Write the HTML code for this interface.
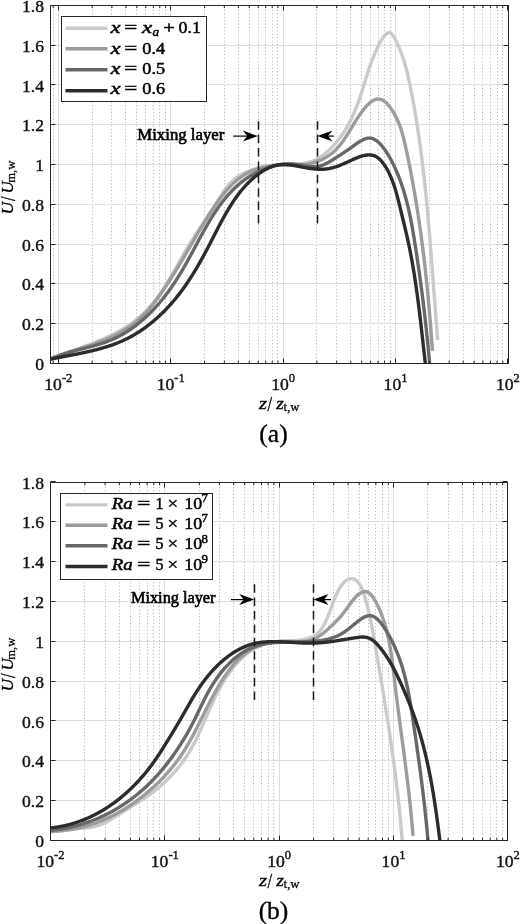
<!DOCTYPE html>
<html><head><meta charset="utf-8"><title>U/U profiles</title><style>
html,body{margin:0;padding:0;background:#fff;}
svg{display:block;}
text{font-family:"Liberation Serif",serif;fill:#000;}
.tk{font-size:17.6px;fill:#111;stroke:#111;stroke-width:0.4px;}
.tk .sup{font-size:12.5px;}
.lab{font-size:16.5px;}
.it{font-style:italic;}
.sub{font-size:11.5px;}
.lg{font-size:16.2px;stroke:#000;stroke-width:0.45px;}
.lgs{font-size:11.5px;stroke:#000;stroke-width:0.45px;}
.al{font-size:16.5px;stroke:#000;stroke-width:0.3px;}
.als{font-size:12px;stroke:#000;stroke-width:0.25px;}
.sub2{font-size:11.5px;font-style:italic;}
.sup2{font-size:12px;}
.cap{font-size:25.5px;stroke:#000;stroke-width:0.35px;}
.mx{font-size:16px;stroke:#000;stroke-width:0.6px;}
</style></head><body>
<svg width="520" height="924" viewBox="0 0 520 924">
<rect width="520" height="924" fill="#fff"/>
<clipPath id="clipa"><rect x="50.5" y="5.5" width="458" height="358"/></clipPath>
<path d="M53.5,6.5V363.5M92.5,6.5V363.5M111.5,6.5V363.5M125.5,6.5V363.5M136.5,6.5V363.5M145.5,6.5V363.5M153.5,6.5V363.5M159.5,6.5V363.5M165.5,6.5V363.5M204.5,6.5V363.5M224.5,6.5V363.5M238.5,6.5V363.5M249.5,6.5V363.5M258.5,6.5V363.5M265.5,6.5V363.5M272.5,6.5V363.5M277.5,6.5V363.5M316.5,6.5V363.5M336.5,6.5V363.5M350.5,6.5V363.5M361.5,6.5V363.5M370.5,6.5V363.5M378.5,6.5V363.5M384.5,6.5V363.5M390.5,6.5V363.5M429.5,6.5V363.5M449.5,6.5V363.5M463.5,6.5V363.5M474.5,6.5V363.5M482.5,6.5V363.5M490.5,6.5V363.5M497.5,6.5V363.5M502.5,6.5V363.5" stroke="#b8b8b8" stroke-width="1" stroke-dasharray="1.2 2.2" fill="none"/>
<path d="M58.50,5.5V363.5M170.50,5.5V363.5M283.50,5.5V363.5M395.50,5.5V363.5M50.5,323.50H508.5M50.5,283.50H508.5M50.5,244.50H508.5M50.5,204.50H508.5M50.5,164.50H508.5M50.5,124.50H508.5M50.5,84.50H508.5M50.5,45.50H508.5" stroke="#dedede" stroke-width="1" fill="none"/>
<g clip-path="url(#clipa)" fill="none" stroke-width="3.4" stroke-linejoin="round">
<path d="M50.30,358.71 L50.87,358.49 L51.45,358.27 L52.02,358.05 L52.60,357.84 L53.18,357.62 L53.77,357.40 L54.35,357.18 L54.94,356.96 L55.53,356.75 L56.13,356.53 L56.72,356.31 L57.32,356.09 L57.92,355.87 L58.52,355.66 L59.13,355.44 L59.74,355.22 L60.35,355.00 L60.96,354.78 L61.57,354.56 L62.19,354.35 L62.80,354.13 L63.42,353.91 L64.04,353.69 L64.66,353.47 L65.29,353.25 L65.91,353.03 L66.54,352.81 L67.17,352.59 L67.80,352.36 L68.43,352.14 L69.06,351.92 L69.69,351.70 L70.33,351.48 L70.96,351.25 L71.60,351.03 L72.24,350.80 L72.88,350.58 L73.52,350.35 L74.16,350.13 L74.80,349.90 L75.44,349.67 L76.08,349.44 L76.73,349.22 L77.37,348.99 L78.02,348.76 L78.66,348.53 L79.31,348.29 L79.96,348.06 L80.60,347.83 L81.25,347.60 L81.90,347.36 L82.55,347.13 L83.20,346.89 L83.84,346.65 L84.49,346.41 L85.14,346.18 L85.79,345.94 L86.44,345.70 L87.08,345.45 L87.73,345.21 L88.38,344.97 L89.03,344.72 L89.68,344.48 L90.32,344.23 L90.97,343.98 L91.61,343.73 L92.26,343.48 L92.90,343.23 L93.55,342.98 L94.19,342.72 L94.83,342.47 L95.48,342.21 L96.12,341.95 L96.76,341.70 L97.40,341.44 L98.04,341.17 L98.67,340.91 L99.31,340.65 L99.94,340.38 L100.58,340.11 L101.21,339.85 L101.84,339.58 L102.47,339.30 L103.10,339.03 L103.73,338.76 L104.35,338.48 L104.98,338.20 L105.60,337.92 L106.22,337.64 L106.84,337.36 L107.45,337.08 L108.07,336.79 L108.68,336.50 L109.30,336.22 L109.90,335.92 L110.51,335.63 L111.12,335.34 L111.72,335.04 L112.32,334.74 L112.92,334.45 L113.52,334.14 L114.11,333.84 L114.70,333.54 L115.29,333.23 L115.88,332.92 L116.47,332.61 L117.05,332.30 L117.63,331.98 L118.21,331.66 L118.78,331.35 L119.35,331.02 L119.92,330.70 L120.49,330.38 L121.06,330.05 L121.62,329.72 L122.18,329.39 L122.74,329.06 L123.29,328.72 L123.85,328.38 L124.40,328.04 L124.95,327.70 L125.49,327.35 L126.04,327.01 L126.58,326.66 L127.12,326.31 L127.66,325.95 L128.19,325.60 L128.72,325.24 L129.25,324.88 L129.78,324.51 L130.30,324.15 L130.83,323.78 L131.35,323.41 L131.87,323.03 L132.38,322.66 L132.90,322.28 L133.41,321.90 L133.92,321.51 L134.42,321.13 L134.93,320.74 L135.43,320.35 L135.93,319.95 L136.43,319.56 L136.92,319.16 L137.41,318.75 L137.90,318.35 L138.39,317.94 L138.88,317.53 L139.36,317.12 L139.85,316.70 L140.32,316.28 L140.80,315.86 L141.28,315.43 L141.75,315.00 L142.22,314.57 L142.69,314.14 L143.15,313.70 L143.62,313.26 L144.08,312.82 L144.54,312.37 L145.00,311.92 L145.45,311.47 L145.90,311.02 L146.35,310.56 L146.80,310.10 L147.25,309.63 L147.69,309.16 L148.13,308.69 L148.57,308.22 L149.01,307.74 L149.45,307.26 L149.88,306.77 L150.31,306.29 L150.74,305.80 L151.17,305.30 L151.59,304.80 L152.01,304.30 L152.43,303.80 L152.85,303.29 L153.27,302.78 L153.68,302.27 L154.10,301.76 L154.51,301.24 L154.92,300.72 L155.32,300.19 L155.73,299.67 L156.13,299.14 L156.53,298.61 L156.93,298.07 L157.33,297.53 L157.73,296.99 L158.12,296.45 L158.51,295.91 L158.90,295.36 L159.29,294.81 L159.68,294.26 L160.07,293.71 L160.45,293.15 L160.84,292.60 L161.22,292.04 L161.60,291.47 L161.98,290.91 L162.35,290.35 L162.73,289.78 L163.10,289.21 L163.48,288.64 L163.85,288.07 L164.22,287.49 L164.59,286.92 L164.96,286.34 L165.32,285.76 L165.69,285.18 L166.05,284.60 L166.42,284.02 L166.78,283.43 L167.14,282.85 L167.50,282.26 L167.86,281.67 L168.21,281.09 L168.57,280.50 L168.93,279.90 L169.28,279.31 L169.63,278.72 L169.99,278.13 L170.34,277.53 L170.69,276.94 L171.04,276.34 L171.39,275.75 L171.74,275.15 L172.08,274.55 L172.43,273.95 L172.78,273.35 L173.12,272.75 L173.47,272.15 L173.81,271.56 L174.16,270.96 L174.50,270.35 L174.84,269.75 L175.18,269.15 L175.52,268.55 L175.86,267.95 L176.20,267.35 L176.54,266.75 L176.88,266.15 L177.22,265.55 L177.56,264.95 L177.90,264.35 L178.24,263.75 L178.57,263.15 L178.91,262.55 L179.25,261.95 L179.58,261.36 L179.92,260.76 L180.26,260.16 L180.59,259.57 L180.93,258.97 L181.26,258.38 L181.60,257.78 L181.93,257.19 L182.27,256.60 L182.60,256.01 L182.94,255.42 L183.28,254.83 L183.61,254.24 L183.95,253.65 L184.28,253.07 L184.62,252.48 L184.95,251.90 L185.29,251.32 L185.63,250.74 L185.96,250.16 L186.30,249.58 L186.64,249.01 L186.97,248.43 L187.31,247.86 L187.65,247.29 L187.99,246.72 L188.33,246.15 L188.66,245.59 L189.00,245.02 L189.34,244.46 L189.68,243.90 L190.02,243.34 L190.37,242.79 L190.71,242.23 L191.05,241.68 L191.39,241.13 L191.74,240.58 L192.08,240.04 L192.43,239.49 L192.77,238.95 L193.12,238.41 L193.46,237.87 L193.81,237.33 L194.15,236.79 L194.50,236.25 L194.85,235.72 L195.20,235.18 L195.55,234.65 L195.90,234.12 L196.25,233.59 L196.60,233.05 L196.95,232.52 L197.30,231.99 L197.65,231.47 L198.00,230.94 L198.35,230.41 L198.70,229.88 L199.06,229.35 L199.41,228.83 L199.76,228.30 L200.12,227.77 L200.47,227.24 L200.83,226.72 L201.18,226.19 L201.54,225.66 L201.90,225.13 L202.25,224.60 L202.61,224.08 L202.97,223.55 L203.32,223.02 L203.68,222.49 L204.04,221.96 L204.40,221.42 L204.76,220.89 L205.11,220.36 L205.47,219.82 L205.83,219.29 L206.19,218.75 L206.55,218.21 L206.91,217.67 L207.28,217.13 L207.64,216.59 L208.00,216.04 L208.36,215.50 L208.72,214.95 L209.08,214.40 L209.45,213.85 L209.81,213.30 L210.17,212.74 L210.54,212.19 L210.90,211.63 L211.26,211.07 L211.63,210.50 L211.99,209.94 L212.35,209.37 L212.72,208.80 L213.08,208.23 L213.45,207.65 L213.81,207.08 L214.18,206.49 L214.55,205.91 L214.91,205.33 L215.28,204.74 L215.64,204.14 L216.01,203.55 L216.38,202.95 L216.74,202.35 L217.11,201.75 L217.48,201.15 L217.85,200.54 L218.22,199.94 L218.59,199.33 L218.97,198.73 L219.34,198.12 L219.72,197.51 L220.09,196.91 L220.47,196.30 L220.86,195.70 L221.24,195.10 L221.63,194.50 L222.02,193.90 L222.41,193.31 L222.80,192.72 L223.20,192.13 L223.60,191.54 L224.00,190.96 L224.41,190.39 L224.81,189.82 L225.23,189.25 L225.64,188.69 L226.06,188.13 L226.49,187.58 L226.92,187.03 L227.35,186.50 L227.78,185.96 L228.22,185.44 L228.67,184.92 L229.12,184.41 L229.57,183.91 L230.03,183.42 L230.50,182.93 L230.97,182.46 L231.44,181.99 L231.92,181.53 L232.41,181.08 L232.90,180.64 L233.39,180.20 L233.89,179.78 L234.39,179.36 L234.90,178.95 L235.41,178.54 L235.93,178.15 L236.45,177.76 L236.97,177.38 L237.50,177.01 L238.03,176.64 L238.57,176.28 L239.11,175.93 L239.66,175.59 L240.20,175.25 L240.76,174.92 L241.31,174.60 L241.87,174.29 L242.44,173.98 L243.01,173.68 L243.58,173.38 L244.15,173.09 L244.73,172.81 L245.31,172.53 L245.90,172.26 L246.48,172.00 L247.07,171.74 L247.67,171.49 L248.27,171.25 L248.87,171.01 L249.47,170.77 L250.08,170.55 L250.68,170.33 L251.30,170.11 L251.91,169.90 L252.53,169.69 L253.15,169.49 L253.77,169.30 L254.39,169.11 L255.02,168.93 L255.65,168.75 L256.28,168.57 L256.92,168.41 L257.55,168.24 L258.19,168.08 L258.83,167.93 L259.47,167.78 L260.12,167.63 L260.77,167.49 L261.41,167.36 L262.06,167.22 L262.71,167.10 L263.37,166.97 L264.02,166.85 L264.68,166.74 L265.34,166.63 L266.00,166.52 L266.66,166.42 L267.32,166.32 L267.98,166.22 L268.65,166.13 L269.31,166.04 L269.98,165.95 L270.65,165.87 L271.31,165.79 L271.98,165.71 L272.65,165.64 L273.32,165.57 L274.00,165.50 L274.67,165.44 L275.34,165.38 L276.01,165.32 L276.69,165.26 L277.36,165.21 L278.04,165.16 L278.71,165.11 L279.39,165.06 L280.06,165.02 L280.74,164.98 L281.41,164.94 L282.09,164.90 L282.77,164.87 L283.44,164.83 L284.12,164.80 L284.79,164.77 L285.47,164.74 L286.14,164.71 L286.81,164.68 L287.49,164.66 L288.16,164.63 L288.83,164.60 L289.50,164.57 L290.17,164.55 L290.84,164.52 L291.51,164.48 L292.18,164.45 L292.85,164.42 L293.52,164.38 L294.18,164.34 L294.84,164.30 L295.51,164.26 L296.17,164.21 L296.83,164.16 L297.49,164.10 L298.15,164.05 L298.80,163.98 L299.46,163.92 L300.11,163.85 L300.76,163.77 L301.41,163.69 L302.06,163.60 L302.71,163.51 L303.35,163.41 L303.99,163.30 L304.63,163.19 L305.27,163.07 L305.91,162.94 L306.54,162.81 L307.17,162.67 L307.80,162.52 L308.43,162.36 L309.05,162.19 L309.67,162.02 L310.29,161.84 L310.91,161.64 L311.52,161.44 L312.14,161.23 L312.75,161.00 L313.35,160.77 L313.95,160.53 L314.55,160.27 L315.15,160.01 L315.74,159.73 L316.34,159.44 L316.92,159.14 L317.51,158.83 L318.09,158.50 L318.67,158.17 L319.24,157.82 L319.81,157.47 L320.38,157.10 L320.94,156.73 L321.50,156.34 L322.06,155.95 L322.61,155.55 L323.16,155.14 L323.70,154.72 L324.24,154.30 L324.78,153.87 L325.31,153.44 L325.84,153.00 L326.36,152.55 L326.88,152.10 L327.40,151.64 L327.91,151.18 L328.42,150.72 L328.92,150.25 L329.42,149.78 L329.91,149.30 L330.40,148.83 L330.89,148.35 L331.37,147.86 L331.84,147.37 L332.31,146.88 L332.78,146.39 L333.24,145.89 L333.70,145.39 L334.16,144.89 L334.61,144.38 L335.06,143.88 L335.50,143.36 L335.94,142.85 L336.37,142.33 L336.80,141.81 L337.23,141.29 L337.65,140.76 L338.07,140.23 L338.49,139.70 L338.90,139.17 L339.31,138.63 L339.71,138.10 L340.11,137.55 L340.51,137.01 L340.90,136.46 L341.29,135.92 L341.68,135.37 L342.06,134.81 L342.44,134.26 L342.81,133.70 L343.18,133.14 L343.55,132.58 L343.91,132.02 L344.27,131.45 L344.63,130.88 L344.98,130.31 L345.34,129.74 L345.68,129.17 L346.03,128.59 L346.37,128.02 L346.70,127.44 L347.04,126.86 L347.37,126.27 L347.70,125.69 L348.02,125.11 L348.34,124.52 L348.66,123.93 L348.98,123.34 L349.29,122.75 L349.60,122.16 L349.91,121.56 L350.21,120.97 L350.51,120.37 L350.81,119.77 L351.10,119.17 L351.40,118.57 L351.68,117.97 L351.97,117.37 L352.26,116.77 L352.54,116.16 L352.81,115.56 L353.09,114.95 L353.36,114.34 L353.63,113.74 L353.90,113.13 L354.17,112.52 L354.43,111.91 L354.69,111.30 L354.95,110.69 L355.20,110.07 L355.46,109.46 L355.71,108.85 L355.96,108.23 L356.20,107.62 L356.45,107.01 L356.69,106.39 L356.93,105.78 L357.17,105.16 L357.40,104.55 L357.63,103.93 L357.86,103.31 L358.09,102.70 L358.32,102.08 L358.54,101.47 L358.77,100.85 L358.99,100.23 L359.21,99.62 L359.42,99.00 L359.64,98.39 L359.85,97.77 L360.06,97.16 L360.27,96.54 L360.48,95.93 L360.68,95.31 L360.89,94.70 L361.09,94.09 L361.29,93.47 L361.49,92.86 L361.69,92.25 L361.89,91.64 L362.08,91.03 L362.27,90.41 L362.47,89.80 L362.66,89.19 L362.85,88.58 L363.04,87.97 L363.23,87.36 L363.42,86.75 L363.61,86.14 L363.80,85.52 L363.98,84.91 L364.17,84.30 L364.36,83.69 L364.55,83.07 L364.73,82.46 L364.92,81.85 L365.11,81.23 L365.30,80.61 L365.49,80.00 L365.67,79.38 L365.86,78.76 L366.05,78.15 L366.25,77.53 L366.44,76.91 L366.63,76.28 L366.82,75.66 L367.02,75.04 L367.22,74.41 L367.41,73.79 L367.61,73.16 L367.81,72.53 L368.02,71.90 L368.22,71.27 L368.43,70.64 L368.63,70.01 L368.84,69.37 L369.06,68.73 L369.27,68.09 L369.49,67.45 L369.71,66.81 L369.93,66.17 L370.15,65.52 L370.38,64.87 L370.61,64.22 L370.84,63.57 L371.07,62.92 L371.31,62.26 L371.55,61.60 L371.80,60.94 L372.04,60.28 L372.30,59.62 L372.55,58.95 L372.81,58.28 L373.07,57.61 L373.33,56.93 L373.60,56.26 L373.88,55.58 L374.15,54.90 L374.43,54.21 L374.72,53.53 L375.01,52.85 L375.30,52.17 L375.59,51.49 L375.89,50.81 L376.19,50.14 L376.50,49.47 L376.80,48.80 L377.11,48.13 L377.43,47.47 L377.74,46.82 L378.06,46.17 L378.39,45.53 L378.71,44.90 L379.04,44.27 L379.37,43.65 L379.70,43.04 L380.04,42.44 L380.37,41.85 L380.71,41.27 L381.06,40.70 L381.40,40.14 L381.75,39.60 L382.10,39.06 L382.45,38.54 L382.80,38.04 L383.16,37.55 L383.51,37.07 L383.87,36.61 L384.23,36.17 L384.59,35.74 L384.95,35.33 L385.32,34.94 L385.68,34.57 L386.05,34.21 L386.42,33.88 L386.79,33.56 L387.16,33.27 L387.53,33.02 L387.91,32.80 L388.28,32.64 L388.65,32.53 L389.02,32.49 L389.40,32.51 L389.77,32.60 L390.14,32.76 L390.51,32.97 L390.88,33.24 L391.25,33.55 L391.62,33.92 L391.99,34.33 L392.35,34.78 L392.72,35.26 L393.08,35.78 L393.43,36.33 L393.79,36.91 L394.14,37.50 L394.49,38.12 L394.84,38.75 L395.19,39.39 L395.53,40.04 L395.86,40.69 L396.20,41.36 L396.52,42.02 L396.85,42.69 L397.17,43.36 L397.48,44.03 L397.79,44.70 L398.10,45.37 L398.40,46.04 L398.70,46.71 L398.99,47.38 L399.27,48.05 L399.55,48.72 L399.83,49.38 L400.10,50.05 L400.37,50.71 L400.63,51.37 L400.89,52.03 L401.14,52.70 L401.39,53.36 L401.64,54.02 L401.88,54.67 L402.12,55.33 L402.35,55.99 L402.58,56.65 L402.81,57.30 L403.03,57.96 L403.25,58.61 L403.46,59.27 L403.67,59.92 L403.88,60.58 L404.09,61.23 L404.29,61.88 L404.48,62.53 L404.68,63.18 L404.87,63.83 L405.06,64.48 L405.25,65.13 L405.43,65.78 L405.61,66.43 L405.79,67.08 L405.96,67.73 L406.14,68.38 L406.31,69.02 L406.47,69.67 L406.64,70.32 L406.80,70.96 L406.96,71.61 L407.12,72.26 L407.28,72.90 L407.44,73.55 L407.59,74.19 L407.74,74.84 L407.89,75.48 L408.04,76.13 L408.18,76.77 L408.33,77.42 L408.47,78.06 L408.61,78.71 L408.75,79.35 L408.89,80.00 L409.03,80.64 L409.17,81.29 L409.31,81.93 L409.44,82.58 L409.58,83.22 L409.71,83.87 L409.84,84.51 L409.98,85.16 L410.11,85.80 L410.24,86.45 L410.37,87.09 L410.50,87.74 L410.63,88.39 L410.76,89.03 L410.89,89.68 L411.02,90.33 L411.14,90.97 L411.27,91.62 L411.40,92.27 L411.52,92.91 L411.65,93.56 L411.77,94.21 L411.90,94.86 L412.02,95.51 L412.15,96.15 L412.27,96.80 L412.39,97.45 L412.51,98.10 L412.63,98.75 L412.76,99.40 L412.88,100.05 L413.00,100.69 L413.12,101.34 L413.23,101.99 L413.35,102.64 L413.47,103.29 L413.59,103.94 L413.71,104.59 L413.82,105.24 L413.94,105.89 L414.05,106.54 L414.17,107.19 L414.28,107.85 L414.40,108.50 L414.51,109.15 L414.63,109.80 L414.74,110.45 L414.85,111.10 L414.96,111.75 L415.07,112.40 L415.18,113.06 L415.29,113.71 L415.40,114.36 L415.51,115.01 L415.62,115.67 L415.73,116.32 L415.84,116.97 L415.95,117.62 L416.06,118.28 L416.16,118.93 L416.27,119.58 L416.37,120.24 L416.48,120.89 L416.58,121.54 L416.69,122.20 L416.79,122.85 L416.90,123.51 L417.00,124.16 L417.10,124.81 L417.21,125.47 L417.31,126.12 L417.41,126.78 L417.51,127.43 L417.61,128.09 L417.71,128.74 L417.81,129.40 L417.91,130.05 L418.01,130.71 L418.11,131.37 L418.21,132.02 L418.30,132.68 L418.40,133.33 L418.50,133.99 L418.60,134.64 L418.69,135.30 L418.79,135.96 L418.88,136.61 L418.98,137.27 L419.07,137.93 L419.17,138.58 L419.26,139.24 L419.35,139.90 L419.45,140.56 L419.54,141.21 L419.63,141.87 L419.72,142.53 L419.81,143.18 L419.91,143.84 L420.00,144.50 L420.09,145.16 L420.18,145.82 L420.27,146.47 L420.36,147.13 L420.44,147.79 L420.53,148.45 L420.62,149.11 L420.71,149.77 L420.80,150.43 L420.88,151.08 L420.97,151.74 L421.06,152.40 L421.14,153.06 L421.23,153.72 L421.31,154.38 L421.40,155.04 L421.48,155.70 L421.57,156.36 L421.65,157.02 L421.73,157.68 L421.82,158.34 L421.90,159.00 L421.98,159.66 L422.06,160.32 L422.14,160.98 L422.23,161.64 L422.31,162.30 L422.39,162.96 L422.47,163.62 L422.55,164.28 L422.63,164.94 L422.71,165.60 L422.79,166.26 L422.87,166.92 L422.94,167.59 L423.02,168.25 L423.10,168.91 L423.18,169.57 L423.25,170.23 L423.33,170.89 L423.41,171.55 L423.48,172.22 L423.56,172.88 L423.64,173.54 L423.71,174.20 L423.79,174.86 L423.86,175.52 L423.94,176.19 L424.01,176.85 L424.08,177.51 L424.16,178.17 L424.23,178.84 L424.30,179.50 L424.38,180.16 L424.45,180.82 L424.52,181.49 L424.59,182.15 L424.67,182.81 L424.74,183.47 L424.81,184.14 L424.88,184.80 L424.95,185.46 L425.02,186.13 L425.09,186.79 L425.16,187.45 L425.23,188.12 L425.30,188.78 L425.37,189.44 L425.44,190.11 L425.50,190.77 L425.57,191.43 L425.64,192.10 L425.71,192.76 L425.77,193.43 L425.84,194.09 L425.91,194.75 L425.98,195.42 L426.04,196.08 L426.11,196.74 L426.17,197.41 L426.24,198.07 L426.30,198.74 L426.37,199.40 L426.44,200.07 L426.50,200.73 L426.56,201.39 L426.63,202.06 L426.69,202.72 L426.76,203.39 L426.82,204.05 L426.88,204.72 L426.95,205.38 L427.01,206.05 L427.07,206.71 L427.14,207.38 L427.20,208.04 L427.26,208.71 L427.32,209.37 L427.38,210.04 L427.44,210.70 L427.51,211.37 L427.57,212.03 L427.63,212.70 L427.69,213.36 L427.75,214.03 L427.81,214.69 L427.87,215.36 L427.93,216.02 L427.99,216.69 L428.05,217.35 L428.11,218.02 L428.17,218.68 L428.23,219.35 L428.29,220.01 L428.34,220.68 L428.40,221.34 L428.46,222.01 L428.52,222.68 L428.58,223.34 L428.63,224.01 L428.69,224.67 L428.75,225.34 L428.81,226.00 L428.86,226.67 L428.92,227.34 L428.98,228.00 L429.03,228.67 L429.09,229.33 L429.15,230.00 L429.20,230.66 L429.26,231.33 L429.31,232.00 L429.37,232.66 L429.43,233.33 L429.48,233.99 L429.54,234.66 L429.59,235.32 L429.65,235.99 L429.70,236.66 L429.76,237.32 L429.81,237.99 L429.87,238.65 L429.92,239.32 L429.97,239.99 L430.03,240.65 L430.08,241.32 L430.14,241.98 L430.19,242.65 L430.24,243.32 L430.30,243.98 L430.35,244.65 L430.40,245.31 L430.46,245.98 L430.51,246.65 L430.56,247.31 L430.62,247.98 L430.67,248.64 L430.72,249.31 L430.77,249.98 L430.83,250.64 L430.88,251.31 L430.93,251.97 L430.98,252.64 L431.03,253.31 L431.09,253.97 L431.14,254.64 L431.19,255.30 L431.24,255.97 L431.29,256.64 L431.34,257.30 L431.40,257.97 L431.45,258.63 L431.50,259.30 L431.55,259.97 L431.60,260.63 L431.65,261.30 L431.70,261.96 L431.75,262.63 L431.80,263.29 L431.85,263.96 L431.91,264.63 L431.96,265.29 L432.01,265.96 L432.06,266.62 L432.11,267.29 L432.16,267.95 L432.21,268.62 L432.26,269.29 L432.31,269.95 L432.36,270.62 L432.41,271.28 L432.46,271.95 L432.51,272.61 L432.56,273.28 L432.61,273.94 L432.66,274.61 L432.71,275.27 L432.76,275.94 L432.81,276.61 L432.86,277.27 L432.91,277.94 L432.96,278.60 L433.01,279.27 L433.06,279.93 L433.11,280.60 L433.16,281.26 L433.21,281.93 L433.26,282.59 L433.31,283.26 L433.36,283.92 L433.41,284.59 L433.46,285.25 L433.50,285.92 L433.55,286.58 L433.60,287.25 L433.65,287.91 L433.70,288.58 L433.75,289.24 L433.80,289.90 L433.85,290.57 L433.90,291.23 L433.95,291.90 L434.00,292.56 L434.05,293.23 L434.10,293.89 L434.15,294.56 L434.20,295.22 L434.25,295.88 L434.30,296.55 L434.35,297.21 L434.40,297.88 L434.45,298.54 L434.50,299.20 L434.55,299.87 L434.60,300.53 L434.65,301.20 L434.70,301.86 L434.75,302.52 L434.80,303.19 L434.85,303.85 L434.90,304.51 L434.95,305.18 L435.00,305.84 L435.05,306.50 L435.10,307.17 L435.15,307.83 L435.20,308.49 L435.25,309.16 L435.30,309.82 L435.35,310.48 L435.40,311.14 L435.45,311.81 L435.50,312.47 L435.55,313.13 L435.60,313.79 L435.65,314.46 L435.71,315.12 L435.76,315.78 L435.81,316.44 L435.86,317.11 L435.91,317.77 L435.96,318.43 L436.01,319.09 L436.06,319.75 L436.12,320.42 L436.17,321.08 L436.22,321.74 L436.27,322.40 L436.32,323.06 L436.38,323.72 L436.43,324.39 L436.48,325.05 L436.53,325.71 L436.58,326.37 L436.64,327.03 L436.69,327.69 L436.74,328.35 L436.80,329.01 L436.85,329.67 L436.90,330.33 L436.95,330.99 L437.01,331.66 L437.06,332.32 L437.11,332.98 L437.17,333.64 L437.22,334.30 L437.28,334.96 L437.33,335.62 L437.38,336.28 L437.44,336.94 L437.49,337.60 L437.55,338.25 L437.60,338.91 L437.66,339.57 L437.71,340.23" stroke="#cacaca"/>
<path d="M50.29,358.93 L50.92,358.68 L51.55,358.43 L52.18,358.19 L52.81,357.95 L53.44,357.70 L54.07,357.47 L54.70,357.23 L55.33,356.99 L55.97,356.76 L56.60,356.53 L57.23,356.30 L57.87,356.07 L58.50,355.84 L59.14,355.61 L59.77,355.39 L60.41,355.16 L61.04,354.94 L61.68,354.72 L62.31,354.50 L62.95,354.28 L63.59,354.07 L64.23,353.85 L64.86,353.63 L65.50,353.42 L66.14,353.20 L66.78,352.99 L67.42,352.78 L68.05,352.57 L68.69,352.36 L69.33,352.15 L69.97,351.94 L70.61,351.73 L71.25,351.52 L71.89,351.31 L72.52,351.11 L73.16,350.90 L73.80,350.69 L74.44,350.49 L75.08,350.28 L75.72,350.07 L76.35,349.87 L76.99,349.66 L77.63,349.46 L78.27,349.25 L78.90,349.04 L79.54,348.84 L80.18,348.63 L80.81,348.43 L81.45,348.22 L82.09,348.01 L82.72,347.81 L83.36,347.60 L83.99,347.39 L84.62,347.18 L85.26,346.97 L85.89,346.76 L86.52,346.56 L87.16,346.34 L87.79,346.13 L88.42,345.92 L89.05,345.71 L89.68,345.49 L90.31,345.28 L90.93,345.06 L91.56,344.85 L92.19,344.63 L92.82,344.41 L93.44,344.19 L94.07,343.97 L94.69,343.75 L95.31,343.53 L95.94,343.30 L96.56,343.08 L97.18,342.85 L97.80,342.62 L98.42,342.39 L99.03,342.16 L99.65,341.92 L100.27,341.69 L100.88,341.45 L101.50,341.21 L102.11,340.97 L102.72,340.73 L103.33,340.49 L103.94,340.24 L104.55,339.99 L105.16,339.74 L105.76,339.49 L106.37,339.24 L106.97,338.98 L107.57,338.72 L108.18,338.46 L108.78,338.20 L109.37,337.93 L109.97,337.66 L110.57,337.39 L111.16,337.12 L111.75,336.85 L112.35,336.57 L112.94,336.29 L113.53,336.00 L114.11,335.72 L114.70,335.43 L115.28,335.14 L115.87,334.84 L116.45,334.55 L117.03,334.25 L117.61,333.94 L118.18,333.64 L118.76,333.33 L119.33,333.02 L119.90,332.70 L120.47,332.39 L121.04,332.06 L121.61,331.74 L122.17,331.41 L122.73,331.08 L123.29,330.75 L123.85,330.41 L124.41,330.07 L124.97,329.73 L125.52,329.38 L126.07,329.03 L126.62,328.68 L127.17,328.32 L127.71,327.96 L128.26,327.60 L128.80,327.23 L129.34,326.86 L129.87,326.49 L130.41,326.11 L130.94,325.73 L131.47,325.35 L132.00,324.96 L132.53,324.57 L133.05,324.17 L133.58,323.77 L134.10,323.37 L134.61,322.97 L135.13,322.56 L135.64,322.14 L136.15,321.72 L136.66,321.30 L137.17,320.88 L137.67,320.45 L138.17,320.02 L138.67,319.58 L139.17,319.14 L139.66,318.69 L140.15,318.24 L140.64,317.79 L141.13,317.33 L141.61,316.87 L142.09,316.41 L142.57,315.94 L143.05,315.47 L143.52,314.99 L143.99,314.51 L144.46,314.03 L144.93,313.55 L145.39,313.06 L145.86,312.57 L146.32,312.07 L146.78,311.57 L147.23,311.07 L147.68,310.57 L148.14,310.06 L148.58,309.55 L149.03,309.04 L149.48,308.52 L149.92,308.00 L150.36,307.48 L150.80,306.96 L151.24,306.43 L151.67,305.91 L152.10,305.38 L152.53,304.84 L152.96,304.31 L153.39,303.77 L153.81,303.23 L154.23,302.69 L154.66,302.15 L155.07,301.61 L155.49,301.06 L155.91,300.51 L156.32,299.96 L156.73,299.41 L157.14,298.86 L157.55,298.31 L157.95,297.75 L158.36,297.20 L158.76,296.64 L159.16,296.08 L159.56,295.52 L159.96,294.96 L160.35,294.40 L160.75,293.84 L161.14,293.27 L161.53,292.71 L161.92,292.15 L162.31,291.58 L162.69,291.02 L163.08,290.45 L163.46,289.88 L163.84,289.32 L164.22,288.75 L164.60,288.18 L164.98,287.62 L165.36,287.05 L165.73,286.48 L166.11,285.91 L166.48,285.35 L166.85,284.78 L167.22,284.21 L167.58,283.65 L167.95,283.08 L168.32,282.52 L168.68,281.95 L169.04,281.39 L169.41,280.82 L169.77,280.26 L170.13,279.69 L170.48,279.13 L170.84,278.57 L171.20,278.01 L171.55,277.44 L171.91,276.88 L172.26,276.32 L172.61,275.76 L172.96,275.20 L173.31,274.64 L173.66,274.08 L174.01,273.52 L174.35,272.96 L174.70,272.40 L175.05,271.84 L175.39,271.28 L175.73,270.72 L176.08,270.16 L176.42,269.60 L176.76,269.04 L177.10,268.48 L177.44,267.92 L177.78,267.37 L178.11,266.81 L178.45,266.25 L178.79,265.69 L179.12,265.14 L179.46,264.58 L179.79,264.02 L180.13,263.46 L180.46,262.91 L180.79,262.35 L181.12,261.79 L181.45,261.24 L181.79,260.68 L182.12,260.12 L182.45,259.57 L182.78,259.01 L183.10,258.45 L183.43,257.90 L183.76,257.34 L184.09,256.78 L184.42,256.23 L184.74,255.67 L185.07,255.12 L185.40,254.56 L185.72,254.00 L186.05,253.45 L186.37,252.89 L186.70,252.33 L187.02,251.78 L187.35,251.22 L187.67,250.66 L188.00,250.10 L188.32,249.55 L188.65,248.99 L188.97,248.43 L189.29,247.88 L189.62,247.32 L189.94,246.76 L190.26,246.20 L190.59,245.64 L190.91,245.09 L191.24,244.53 L191.56,243.97 L191.88,243.41 L192.21,242.85 L192.53,242.29 L192.85,241.73 L193.18,241.17 L193.50,240.61 L193.83,240.05 L194.15,239.49 L194.48,238.93 L194.80,238.37 L195.13,237.81 L195.46,237.25 L195.78,236.69 L196.11,236.13 L196.44,235.57 L196.77,235.01 L197.09,234.44 L197.42,233.88 L197.75,233.32 L198.08,232.76 L198.41,232.19 L198.75,231.63 L199.08,231.07 L199.41,230.51 L199.74,229.94 L200.08,229.38 L200.41,228.81 L200.75,228.25 L201.09,227.69 L201.42,227.12 L201.76,226.56 L202.10,225.99 L202.44,225.43 L202.78,224.86 L203.13,224.30 L203.47,223.73 L203.81,223.17 L204.16,222.60 L204.51,222.03 L204.85,221.47 L205.20,220.90 L205.55,220.33 L205.90,219.77 L206.26,219.20 L206.61,218.63 L206.97,218.07 L207.32,217.50 L207.68,216.93 L208.04,216.36 L208.40,215.79 L208.76,215.23 L209.13,214.66 L209.49,214.09 L209.86,213.52 L210.23,212.95 L210.60,212.38 L210.97,211.81 L211.34,211.24 L211.72,210.67 L212.09,210.10 L212.47,209.53 L212.85,208.96 L213.23,208.39 L213.62,207.82 L214.00,207.25 L214.39,206.68 L214.78,206.10 L215.17,205.53 L215.57,204.96 L215.96,204.39 L216.36,203.82 L216.76,203.24 L217.16,202.67 L217.56,202.10 L217.97,201.53 L218.38,200.95 L218.79,200.38 L219.20,199.81 L219.61,199.24 L220.03,198.68 L220.45,198.11 L220.87,197.54 L221.29,196.98 L221.72,196.42 L222.15,195.86 L222.58,195.30 L223.01,194.75 L223.45,194.19 L223.89,193.64 L224.33,193.10 L224.77,192.55 L225.22,192.01 L225.66,191.47 L226.12,190.94 L226.57,190.41 L227.03,189.88 L227.49,189.35 L227.95,188.84 L228.41,188.32 L228.88,187.81 L229.35,187.30 L229.83,186.80 L230.30,186.31 L230.78,185.81 L231.26,185.33 L231.75,184.85 L232.24,184.37 L232.73,183.90 L233.22,183.44 L233.72,182.98 L234.22,182.53 L234.72,182.08 L235.23,181.64 L235.74,181.20 L236.25,180.77 L236.77,180.35 L237.28,179.93 L237.80,179.52 L238.33,179.11 L238.85,178.71 L239.38,178.31 L239.91,177.92 L240.45,177.53 L240.99,177.15 L241.53,176.78 L242.07,176.41 L242.61,176.05 L243.16,175.69 L243.71,175.34 L244.26,175.00 L244.82,174.66 L245.38,174.33 L245.94,174.00 L246.50,173.68 L247.07,173.36 L247.64,173.05 L248.21,172.75 L248.78,172.45 L249.36,172.16 L249.94,171.87 L250.52,171.59 L251.10,171.32 L251.69,171.05 L252.28,170.79 L252.87,170.53 L253.46,170.28 L254.05,170.03 L254.65,169.79 L255.25,169.56 L255.85,169.33 L256.46,169.11 L257.07,168.90 L257.67,168.69 L258.29,168.49 L258.90,168.29 L259.52,168.10 L260.13,167.91 L260.75,167.74 L261.38,167.56 L262.00,167.40 L262.63,167.24 L263.26,167.08 L263.89,166.93 L264.52,166.79 L265.15,166.66 L265.79,166.53 L266.43,166.40 L267.07,166.28 L267.71,166.17 L268.36,166.07 L269.00,165.97 L269.65,165.88 L270.30,165.79 L270.96,165.71 L271.61,165.64 L272.27,165.57 L272.92,165.51 L273.58,165.45 L274.25,165.40 L274.91,165.36 L275.58,165.32 L276.24,165.29 L276.91,165.27 L277.58,165.25 L278.25,165.23 L278.93,165.22 L279.60,165.22 L280.28,165.21 L280.95,165.21 L281.63,165.22 L282.31,165.22 L282.99,165.23 L283.67,165.24 L284.35,165.25 L285.03,165.27 L285.71,165.28 L286.40,165.30 L287.08,165.31 L287.76,165.33 L288.45,165.34 L289.13,165.35 L289.82,165.37 L290.50,165.38 L291.18,165.39 L291.87,165.39 L292.55,165.40 L293.23,165.40 L293.92,165.40 L294.60,165.39 L295.28,165.38 L295.96,165.37 L296.64,165.35 L297.32,165.33 L298.00,165.30 L298.68,165.26 L299.36,165.22 L300.03,165.18 L300.71,165.12 L301.38,165.06 L302.06,164.99 L302.73,164.92 L303.40,164.84 L304.06,164.75 L304.73,164.65 L305.39,164.55 L306.06,164.44 L306.72,164.33 L307.38,164.20 L308.03,164.07 L308.69,163.94 L309.34,163.80 L309.99,163.65 L310.64,163.49 L311.28,163.33 L311.92,163.16 L312.56,162.98 L313.20,162.79 L313.84,162.60 L314.47,162.41 L315.10,162.20 L315.72,161.99 L316.35,161.78 L316.96,161.55 L317.58,161.32 L318.19,161.08 L318.80,160.84 L319.41,160.59 L320.01,160.33 L320.61,160.07 L321.21,159.80 L321.80,159.52 L322.38,159.23 L322.97,158.94 L323.55,158.65 L324.12,158.34 L324.69,158.03 L325.26,157.71 L325.82,157.39 L326.38,157.06 L326.93,156.72 L327.48,156.38 L328.03,156.03 L328.57,155.67 L329.10,155.31 L329.63,154.94 L330.16,154.56 L330.68,154.18 L331.19,153.79 L331.70,153.39 L332.20,152.99 L332.70,152.58 L333.20,152.17 L333.68,151.75 L334.16,151.32 L334.64,150.88 L335.11,150.44 L335.58,149.99 L336.03,149.54 L336.49,149.08 L336.94,148.61 L337.38,148.14 L337.82,147.66 L338.25,147.18 L338.68,146.69 L339.10,146.20 L339.52,145.70 L339.94,145.19 L340.35,144.68 L340.76,144.17 L341.16,143.65 L341.56,143.12 L341.96,142.60 L342.35,142.06 L342.74,141.53 L343.13,140.99 L343.51,140.44 L343.89,139.89 L344.27,139.34 L344.65,138.78 L345.02,138.22 L345.39,137.66 L345.76,137.10 L346.13,136.53 L346.50,135.95 L346.86,135.38 L347.23,134.80 L347.59,134.22 L347.95,133.64 L348.31,133.06 L348.67,132.47 L349.03,131.88 L349.39,131.29 L349.75,130.70 L350.11,130.10 L350.47,129.51 L350.82,128.91 L351.18,128.31 L351.54,127.71 L351.90,127.11 L352.26,126.51 L352.63,125.91 L352.99,125.30 L353.35,124.70 L353.72,124.09 L354.08,123.49 L354.45,122.89 L354.82,122.28 L355.20,121.68 L355.57,121.07 L355.95,120.47 L356.33,119.87 L356.71,119.27 L357.09,118.66 L357.48,118.06 L357.87,117.46 L358.26,116.86 L358.66,116.27 L359.06,115.67 L359.47,115.08 L359.87,114.49 L360.29,113.89 L360.70,113.31 L361.12,112.72 L361.55,112.13 L361.98,111.55 L362.41,110.98 L362.85,110.40 L363.29,109.84 L363.73,109.28 L364.18,108.72 L364.63,108.18 L365.09,107.64 L365.54,107.11 L366.00,106.59 L366.47,106.08 L366.93,105.59 L367.40,105.10 L367.87,104.63 L368.35,104.17 L368.83,103.73 L369.30,103.30 L369.78,102.89 L370.27,102.50 L370.75,102.12 L371.24,101.76 L371.73,101.42 L372.21,101.10 L372.70,100.80 L373.20,100.52 L373.69,100.26 L374.18,100.03 L374.68,99.82 L375.17,99.63 L375.67,99.47 L376.16,99.34 L376.66,99.23 L377.16,99.15 L377.65,99.09 L378.15,99.07 L378.64,99.07 L379.14,99.11 L379.63,99.17 L380.13,99.27 L380.62,99.40 L381.12,99.55 L381.61,99.73 L382.10,99.94 L382.58,100.18 L383.07,100.44 L383.55,100.73 L384.03,101.05 L384.51,101.39 L384.99,101.75 L385.46,102.14 L385.93,102.55 L386.39,102.98 L386.85,103.43 L387.31,103.90 L387.76,104.39 L388.21,104.90 L388.65,105.41 L389.09,105.95 L389.53,106.50 L389.95,107.05 L390.38,107.62 L390.79,108.20 L391.20,108.79 L391.61,109.39 L392.00,109.99 L392.40,110.60 L392.78,111.21 L393.16,111.82 L393.53,112.44 L393.89,113.06 L394.24,113.68 L394.59,114.30 L394.93,114.92 L395.26,115.54 L395.59,116.16 L395.91,116.79 L396.22,117.41 L396.53,118.04 L396.83,118.66 L397.12,119.29 L397.41,119.92 L397.69,120.55 L397.97,121.18 L398.24,121.81 L398.50,122.44 L398.76,123.07 L399.02,123.71 L399.26,124.34 L399.51,124.98 L399.74,125.61 L399.98,126.25 L400.21,126.89 L400.43,127.52 L400.65,128.16 L400.86,128.80 L401.08,129.44 L401.28,130.08 L401.48,130.72 L401.68,131.36 L401.88,132.01 L402.07,132.65 L402.26,133.29 L402.44,133.93 L402.62,134.58 L402.80,135.22 L402.97,135.87 L403.15,136.51 L403.32,137.16 L403.48,137.81 L403.65,138.45 L403.81,139.10 L403.97,139.75 L404.12,140.39 L404.28,141.04 L404.43,141.69 L404.58,142.34 L404.73,142.99 L404.88,143.64 L405.03,144.29 L405.18,144.94 L405.32,145.59 L405.46,146.24 L405.61,146.89 L405.75,147.54 L405.89,148.19 L406.03,148.84 L406.17,149.49 L406.31,150.14 L406.45,150.79 L406.59,151.44 L406.73,152.09 L406.87,152.74 L407.00,153.39 L407.14,154.04 L407.28,154.69 L407.41,155.35 L407.55,156.00 L407.68,156.65 L407.82,157.30 L407.95,157.95 L408.09,158.60 L408.22,159.26 L408.36,159.91 L408.49,160.56 L408.62,161.21 L408.75,161.86 L408.88,162.52 L409.02,163.17 L409.15,163.82 L409.28,164.47 L409.41,165.13 L409.54,165.78 L409.67,166.43 L409.79,167.08 L409.92,167.74 L410.05,168.39 L410.18,169.04 L410.31,169.70 L410.43,170.35 L410.56,171.00 L410.68,171.66 L410.81,172.31 L410.94,172.96 L411.06,173.62 L411.18,174.27 L411.31,174.93 L411.43,175.58 L411.55,176.23 L411.68,176.89 L411.80,177.54 L411.92,178.20 L412.04,178.85 L412.16,179.50 L412.28,180.16 L412.40,180.81 L412.52,181.47 L412.64,182.12 L412.76,182.78 L412.88,183.43 L413.00,184.09 L413.12,184.74 L413.23,185.40 L413.35,186.05 L413.47,186.71 L413.58,187.36 L413.70,188.02 L413.82,188.67 L413.93,189.33 L414.05,189.99 L414.16,190.64 L414.27,191.30 L414.39,191.95 L414.50,192.61 L414.61,193.27 L414.73,193.92 L414.84,194.58 L414.95,195.23 L415.06,195.89 L415.17,196.55 L415.28,197.20 L415.39,197.86 L415.50,198.52 L415.61,199.17 L415.72,199.83 L415.83,200.49 L415.94,201.14 L416.05,201.80 L416.15,202.46 L416.26,203.11 L416.37,203.77 L416.47,204.43 L416.58,205.09 L416.68,205.74 L416.79,206.40 L416.90,207.06 L417.00,207.72 L417.10,208.37 L417.21,209.03 L417.31,209.69 L417.41,210.35 L417.52,211.00 L417.62,211.66 L417.72,212.32 L417.82,212.98 L417.92,213.64 L418.03,214.29 L418.13,214.95 L418.23,215.61 L418.33,216.27 L418.43,216.93 L418.52,217.59 L418.62,218.24 L418.72,218.90 L418.82,219.56 L418.92,220.22 L419.02,220.88 L419.11,221.54 L419.21,222.20 L419.31,222.86 L419.40,223.51 L419.50,224.17 L419.59,224.83 L419.69,225.49 L419.78,226.15 L419.88,226.81 L419.97,227.47 L420.06,228.13 L420.16,228.79 L420.25,229.45 L420.34,230.11 L420.44,230.77 L420.53,231.43 L420.62,232.09 L420.71,232.75 L420.80,233.41 L420.89,234.07 L420.98,234.73 L421.07,235.39 L421.16,236.05 L421.25,236.71 L421.34,237.37 L421.43,238.03 L421.52,238.69 L421.61,239.35 L421.69,240.01 L421.78,240.67 L421.87,241.33 L421.95,241.99 L422.04,242.65 L422.13,243.31 L422.21,243.97 L422.30,244.63 L422.38,245.29 L422.47,245.95 L422.55,246.62 L422.64,247.28 L422.72,247.94 L422.80,248.60 L422.89,249.26 L422.97,249.92 L423.05,250.58 L423.13,251.24 L423.22,251.90 L423.30,252.57 L423.38,253.23 L423.46,253.89 L423.54,254.55 L423.62,255.21 L423.70,255.87 L423.78,256.53 L423.86,257.20 L423.94,257.86 L424.02,258.52 L424.10,259.18 L424.18,259.84 L424.25,260.50 L424.33,261.17 L424.41,261.83 L424.49,262.49 L424.56,263.15 L424.64,263.81 L424.72,264.48 L424.79,265.14 L424.87,265.80 L424.94,266.46 L425.02,267.13 L425.09,267.79 L425.17,268.45 L425.24,269.11 L425.31,269.77 L425.39,270.44 L425.46,271.10 L425.53,271.76 L425.61,272.42 L425.68,273.09 L425.75,273.75 L425.82,274.41 L425.89,275.08 L425.97,275.74 L426.04,276.40 L426.11,277.06 L426.18,277.73 L426.25,278.39 L426.32,279.05 L426.39,279.71 L426.46,280.38 L426.53,281.04 L426.59,281.70 L426.66,282.37 L426.73,283.03 L426.80,283.69 L426.87,284.36 L426.93,285.02 L427.00,285.68 L427.07,286.35 L427.13,287.01 L427.20,287.67 L427.27,288.34 L427.33,289.00 L427.40,289.66 L427.46,290.33 L427.53,290.99 L427.59,291.65 L427.66,292.32 L427.72,292.98 L427.79,293.64 L427.85,294.31 L427.91,294.97 L427.98,295.63 L428.04,296.30 L428.10,296.96 L428.16,297.62 L428.23,298.29 L428.29,298.95 L428.35,299.62 L428.41,300.28 L428.47,300.94 L428.53,301.61 L428.59,302.27 L428.66,302.94 L428.72,303.60 L428.78,304.26 L428.83,304.93 L428.89,305.59 L428.95,306.26 L429.01,306.92 L429.07,307.58 L429.13,308.25 L429.19,308.91 L429.25,309.58 L429.30,310.24 L429.36,310.90 L429.42,311.57 L429.47,312.23 L429.53,312.90 L429.59,313.56 L429.64,314.22 L429.70,314.89 L429.76,315.55 L429.81,316.22 L429.87,316.88 L429.92,317.55 L429.98,318.21 L430.03,318.87 L430.09,319.54 L430.14,320.20 L430.19,320.87 L430.25,321.53 L430.30,322.20 L430.36,322.86 L430.41,323.53 L430.46,324.19 L430.51,324.85 L430.57,325.52 L430.62,326.18 L430.67,326.85 L430.72,327.51 L430.77,328.18 L430.83,328.84 L430.88,329.51 L430.93,330.17 L430.98,330.84 L431.03,331.50 L431.08,332.16 L431.13,332.83 L431.18,333.49 L431.23,334.16 L431.28,334.82 L431.33,335.49 L431.38,336.15 L431.42,336.82 L431.47,337.48 L431.52,338.15 L431.57,338.81 L431.62,339.48 L431.67,340.14 L431.71,340.80 L431.76,341.47 L431.81,342.13 L431.85,342.80 L431.90,343.46 L431.95,344.13 L431.99,344.79 L432.04,345.46 L432.09,346.12 L432.13,346.79 L432.18,347.45 L432.22,348.12 L432.27,348.78 L432.31,349.45 L432.36,350.11 L432.40,350.78" stroke="#9c9c9c"/>
<path d="M50.30,359.13 L50.92,358.85 L51.55,358.57 L52.18,358.30 L52.81,358.03 L53.44,357.77 L54.07,357.51 L54.71,357.25 L55.34,357.00 L55.97,356.75 L56.61,356.51 L57.24,356.27 L57.88,356.03 L58.51,355.80 L59.15,355.57 L59.78,355.34 L60.42,355.12 L61.06,354.90 L61.70,354.69 L62.34,354.47 L62.98,354.26 L63.61,354.05 L64.25,353.85 L64.89,353.65 L65.53,353.45 L66.18,353.25 L66.82,353.06 L67.46,352.86 L68.10,352.67 L68.74,352.48 L69.38,352.30 L70.02,352.11 L70.67,351.93 L71.31,351.75 L71.95,351.57 L72.59,351.40 L73.24,351.22 L73.88,351.05 L74.52,350.87 L75.16,350.70 L75.81,350.53 L76.45,350.36 L77.09,350.19 L77.73,350.02 L78.38,349.86 L79.02,349.69 L79.66,349.53 L80.30,349.36 L80.94,349.20 L81.59,349.03 L82.23,348.87 L82.87,348.70 L83.51,348.54 L84.15,348.37 L84.79,348.21 L85.43,348.05 L86.07,347.88 L86.71,347.71 L87.35,347.55 L87.99,347.38 L88.62,347.22 L89.26,347.05 L89.90,346.88 L90.53,346.71 L91.17,346.54 L91.81,346.37 L92.44,346.19 L93.07,346.02 L93.71,345.84 L94.34,345.67 L94.97,345.49 L95.61,345.31 L96.24,345.13 L96.87,344.94 L97.50,344.76 L98.13,344.57 L98.75,344.38 L99.38,344.19 L100.01,343.99 L100.63,343.79 L101.26,343.59 L101.88,343.39 L102.50,343.19 L103.13,342.98 L103.75,342.77 L104.37,342.56 L104.99,342.34 L105.61,342.12 L106.22,341.90 L106.84,341.67 L107.45,341.44 L108.07,341.21 L108.68,340.97 L109.29,340.73 L109.90,340.49 L110.51,340.24 L111.12,339.99 L111.73,339.73 L112.33,339.47 L112.94,339.21 L113.54,338.94 L114.14,338.67 L114.74,338.39 L115.34,338.11 L115.94,337.82 L116.54,337.53 L117.13,337.24 L117.73,336.94 L118.32,336.64 L118.91,336.33 L119.50,336.02 L120.09,335.70 L120.67,335.38 L121.26,335.06 L121.84,334.73 L122.42,334.40 L123.00,334.07 L123.58,333.73 L124.16,333.39 L124.73,333.04 L125.31,332.69 L125.88,332.34 L126.45,331.99 L127.02,331.63 L127.58,331.26 L128.15,330.90 L128.71,330.53 L129.27,330.15 L129.83,329.78 L130.39,329.40 L130.94,329.02 L131.50,328.63 L132.05,328.24 L132.60,327.85 L133.15,327.46 L133.69,327.06 L134.24,326.66 L134.78,326.26 L135.32,325.85 L135.85,325.44 L136.39,325.03 L136.92,324.62 L137.45,324.20 L137.98,323.78 L138.51,323.36 L139.03,322.94 L139.55,322.51 L140.07,322.09 L140.59,321.66 L141.11,321.22 L141.62,320.79 L142.13,320.35 L142.64,319.92 L143.14,319.48 L143.65,319.03 L144.15,318.59 L144.65,318.14 L145.14,317.70 L145.64,317.25 L146.13,316.79 L146.62,316.34 L147.10,315.89 L147.58,315.43 L148.07,314.97 L148.55,314.51 L149.02,314.05 L149.50,313.59 L149.97,313.12 L150.44,312.66 L150.90,312.19 L151.37,311.72 L151.83,311.25 L152.29,310.77 L152.75,310.30 L153.21,309.82 L153.66,309.35 L154.11,308.87 L154.56,308.39 L155.01,307.90 L155.45,307.42 L155.90,306.93 L156.34,306.45 L156.78,305.96 L157.21,305.47 L157.65,304.97 L158.08,304.48 L158.51,303.99 L158.94,303.49 L159.37,302.99 L159.79,302.49 L160.22,301.99 L160.64,301.49 L161.06,300.98 L161.47,300.48 L161.89,299.97 L162.30,299.46 L162.71,298.95 L163.12,298.44 L163.53,297.93 L163.94,297.42 L164.34,296.90 L164.74,296.38 L165.15,295.87 L165.55,295.35 L165.94,294.82 L166.34,294.30 L166.73,293.78 L167.13,293.25 L167.52,292.73 L167.91,292.20 L168.29,291.67 L168.68,291.14 L169.06,290.61 L169.45,290.07 L169.83,289.54 L170.21,289.00 L170.59,288.47 L170.97,287.93 L171.34,287.39 L171.72,286.85 L172.09,286.30 L172.46,285.76 L172.83,285.22 L173.20,284.67 L173.57,284.12 L173.93,283.57 L174.30,283.02 L174.66,282.47 L175.02,281.92 L175.38,281.37 L175.74,280.81 L176.10,280.26 L176.46,279.70 L176.82,279.14 L177.17,278.58 L177.52,278.02 L177.88,277.46 L178.23,276.90 L178.58,276.34 L178.93,275.77 L179.28,275.20 L179.62,274.64 L179.97,274.07 L180.32,273.50 L180.66,272.93 L181.00,272.36 L181.35,271.79 L181.69,271.21 L182.03,270.64 L182.37,270.06 L182.70,269.49 L183.04,268.91 L183.38,268.33 L183.72,267.75 L184.05,267.17 L184.39,266.59 L184.72,266.00 L185.05,265.42 L185.38,264.83 L185.71,264.25 L186.05,263.66 L186.38,263.07 L186.70,262.49 L187.03,261.90 L187.36,261.31 L187.69,260.72 L188.02,260.12 L188.34,259.53 L188.67,258.94 L188.99,258.35 L189.32,257.75 L189.64,257.16 L189.97,256.56 L190.29,255.96 L190.61,255.37 L190.94,254.77 L191.26,254.17 L191.58,253.57 L191.90,252.98 L192.23,252.38 L192.55,251.78 L192.87,251.18 L193.19,250.58 L193.51,249.98 L193.83,249.38 L194.16,248.78 L194.48,248.18 L194.80,247.58 L195.12,246.97 L195.44,246.37 L195.76,245.77 L196.08,245.17 L196.41,244.57 L196.73,243.97 L197.05,243.37 L197.37,242.77 L197.69,242.17 L198.01,241.56 L198.34,240.96 L198.66,240.36 L198.98,239.76 L199.31,239.16 L199.63,238.56 L199.96,237.96 L200.28,237.36 L200.61,236.77 L200.93,236.17 L201.26,235.57 L201.58,234.97 L201.91,234.37 L202.24,233.78 L202.57,233.18 L202.90,232.59 L203.23,231.99 L203.56,231.40 L203.89,230.80 L204.22,230.21 L204.55,229.62 L204.88,229.03 L205.22,228.44 L205.55,227.85 L205.89,227.26 L206.23,226.67 L206.56,226.08 L206.90,225.49 L207.24,224.91 L207.58,224.32 L207.92,223.74 L208.27,223.16 L208.61,222.58 L208.95,221.99 L209.30,221.42 L209.65,220.84 L209.99,220.26 L210.34,219.68 L210.69,219.11 L211.04,218.54 L211.40,217.96 L211.75,217.39 L212.11,216.82 L212.46,216.25 L212.82,215.69 L213.18,215.12 L213.54,214.56 L213.90,214.00 L214.27,213.43 L214.63,212.87 L215.00,212.32 L215.37,211.76 L215.74,211.21 L216.11,210.65 L216.48,210.10 L216.85,209.55 L217.23,209.00 L217.61,208.46 L217.99,207.91 L218.37,207.37 L218.75,206.83 L219.14,206.29 L219.52,205.75 L219.91,205.22 L220.30,204.68 L220.69,204.15 L221.09,203.62 L221.48,203.10 L221.88,202.57 L222.28,202.05 L222.69,201.53 L223.09,201.01 L223.50,200.49 L223.90,199.98 L224.31,199.47 L224.73,198.96 L225.14,198.45 L225.56,197.95 L225.98,197.44 L226.40,196.94 L226.82,196.44 L227.25,195.95 L227.68,195.46 L228.11,194.97 L228.54,194.48 L228.98,193.99 L229.41,193.51 L229.85,193.03 L230.30,192.55 L230.74,192.08 L231.19,191.60 L231.64,191.13 L232.09,190.67 L232.55,190.20 L233.01,189.74 L233.47,189.28 L233.93,188.83 L234.40,188.38 L234.86,187.93 L235.34,187.48 L235.81,187.04 L236.29,186.60 L236.77,186.16 L237.25,185.72 L237.74,185.29 L238.23,184.87 L238.72,184.44 L239.21,184.02 L239.71,183.60 L240.21,183.18 L240.71,182.77 L241.22,182.36 L241.73,181.96 L242.24,181.56 L242.76,181.16 L243.28,180.76 L243.80,180.37 L244.32,179.98 L244.85,179.60 L245.39,179.21 L245.92,178.84 L246.46,178.46 L247.00,178.09 L247.55,177.73 L248.09,177.36 L248.64,177.00 L249.20,176.65 L249.76,176.30 L250.32,175.95 L250.88,175.60 L251.44,175.26 L252.01,174.93 L252.58,174.60 L253.16,174.27 L253.74,173.95 L254.31,173.63 L254.90,173.31 L255.48,173.00 L256.07,172.70 L256.66,172.39 L257.25,172.10 L257.84,171.81 L258.44,171.52 L259.04,171.23 L259.64,170.96 L260.25,170.68 L260.85,170.41 L261.46,170.15 L262.07,169.89 L262.68,169.63 L263.30,169.38 L263.91,169.14 L264.53,168.90 L265.15,168.66 L265.77,168.43 L266.39,168.21 L267.02,167.99 L267.65,167.78 L268.27,167.57 L268.90,167.36 L269.54,167.17 L270.17,166.97 L270.80,166.79 L271.44,166.60 L272.08,166.43 L272.72,166.26 L273.36,166.09 L274.00,165.93 L274.64,165.78 L275.29,165.63 L275.93,165.49 L276.58,165.36 L277.22,165.23 L277.87,165.10 L278.52,164.98 L279.17,164.87 L279.82,164.77 L280.48,164.67 L281.13,164.57 L281.78,164.49 L282.44,164.41 L283.09,164.33 L283.75,164.26 L284.40,164.20 L285.06,164.15 L285.72,164.10 L286.37,164.06 L287.03,164.02 L287.69,163.99 L288.35,163.97 L289.01,163.96 L289.67,163.95 L290.33,163.95 L290.99,163.95 L291.65,163.96 L292.31,163.98 L292.97,164.01 L293.63,164.04 L294.29,164.08 L294.95,164.13 L295.61,164.19 L296.27,164.25 L296.92,164.32 L297.58,164.39 L298.24,164.48 L298.90,164.57 L299.56,164.67 L300.22,164.78 L300.87,164.89 L301.53,165.01 L302.19,165.13 L302.84,165.26 L303.50,165.39 L304.15,165.52 L304.81,165.64 L305.46,165.77 L306.11,165.90 L306.76,166.02 L307.42,166.14 L308.07,166.25 L308.72,166.36 L309.37,166.46 L310.02,166.54 L310.67,166.62 L311.31,166.69 L311.96,166.75 L312.61,166.79 L313.25,166.81 L313.90,166.82 L314.54,166.82 L315.19,166.79 L315.83,166.75 L316.47,166.69 L317.12,166.60 L317.76,166.50 L318.40,166.37 L319.04,166.23 L319.67,166.07 L320.31,165.89 L320.95,165.69 L321.59,165.48 L322.22,165.25 L322.85,165.01 L323.49,164.75 L324.12,164.48 L324.75,164.20 L325.38,163.90 L326.01,163.60 L326.64,163.28 L327.27,162.95 L327.90,162.62 L328.52,162.27 L329.15,161.92 L329.77,161.56 L330.39,161.19 L331.02,160.82 L331.64,160.44 L332.26,160.06 L332.88,159.68 L333.49,159.29 L334.11,158.90 L334.73,158.50 L335.34,158.11 L335.95,157.72 L336.56,157.32 L337.18,156.93 L337.79,156.54 L338.39,156.15 L339.00,155.76 L339.61,155.37 L340.21,154.98 L340.82,154.59 L341.42,154.21 L342.02,153.82 L342.62,153.43 L343.22,153.04 L343.82,152.65 L344.41,152.25 L345.01,151.86 L345.60,151.46 L346.19,151.06 L346.78,150.66 L347.37,150.26 L347.96,149.85 L348.55,149.44 L349.13,149.02 L349.72,148.60 L350.30,148.18 L350.88,147.76 L351.46,147.33 L352.04,146.91 L352.62,146.48 L353.19,146.06 L353.77,145.64 L354.34,145.22 L354.91,144.80 L355.48,144.39 L356.05,143.99 L356.61,143.59 L357.18,143.20 L357.74,142.81 L358.30,142.44 L358.86,142.07 L359.42,141.72 L359.98,141.37 L360.53,141.04 L361.08,140.72 L361.64,140.42 L362.19,140.13 L362.73,139.86 L363.28,139.60 L363.83,139.36 L364.37,139.13 L364.91,138.93 L365.45,138.75 L365.99,138.58 L366.52,138.44 L367.06,138.32 L367.59,138.22 L368.12,138.15 L368.65,138.10 L369.18,138.08 L369.70,138.09 L370.23,138.12 L370.75,138.18 L371.27,138.27 L371.79,138.38 L372.30,138.53 L372.81,138.71 L373.33,138.91 L373.83,139.13 L374.34,139.38 L374.84,139.66 L375.34,139.95 L375.84,140.27 L376.33,140.61 L376.83,140.97 L377.31,141.35 L377.80,141.75 L378.28,142.16 L378.75,142.59 L379.22,143.04 L379.69,143.50 L380.16,143.98 L380.61,144.47 L381.07,144.97 L381.52,145.48 L381.96,146.00 L382.40,146.53 L382.84,147.07 L383.27,147.61 L383.69,148.16 L384.11,148.72 L384.53,149.28 L384.93,149.85 L385.34,150.42 L385.73,150.99 L386.12,151.57 L386.51,152.15 L386.89,152.74 L387.26,153.32 L387.63,153.91 L388.00,154.51 L388.36,155.10 L388.72,155.70 L389.07,156.30 L389.41,156.90 L389.76,157.51 L390.10,158.11 L390.43,158.72 L390.76,159.33 L391.09,159.94 L391.41,160.56 L391.73,161.17 L392.05,161.79 L392.36,162.40 L392.67,163.02 L392.97,163.64 L393.28,164.26 L393.58,164.88 L393.87,165.50 L394.17,166.12 L394.46,166.74 L394.75,167.36 L395.03,167.98 L395.31,168.60 L395.59,169.22 L395.87,169.85 L396.14,170.47 L396.42,171.09 L396.69,171.72 L396.95,172.34 L397.21,172.96 L397.48,173.59 L397.73,174.21 L397.99,174.84 L398.24,175.47 L398.49,176.09 L398.74,176.72 L398.99,177.35 L399.23,177.97 L399.47,178.60 L399.71,179.23 L399.94,179.86 L400.18,180.49 L400.41,181.11 L400.64,181.74 L400.86,182.37 L401.09,183.00 L401.31,183.63 L401.53,184.26 L401.75,184.90 L401.96,185.53 L402.17,186.16 L402.38,186.79 L402.59,187.42 L402.80,188.06 L403.00,188.69 L403.21,189.32 L403.41,189.96 L403.60,190.59 L403.80,191.23 L403.99,191.86 L404.19,192.50 L404.38,193.13 L404.56,193.77 L404.75,194.40 L404.93,195.04 L405.12,195.68 L405.30,196.31 L405.48,196.95 L405.65,197.59 L405.83,198.23 L406.00,198.86 L406.17,199.50 L406.34,200.14 L406.51,200.78 L406.68,201.42 L406.84,202.06 L407.00,202.70 L407.17,203.34 L407.33,203.98 L407.48,204.62 L407.64,205.26 L407.80,205.90 L407.95,206.55 L408.10,207.19 L408.25,207.83 L408.40,208.47 L408.55,209.12 L408.70,209.76 L408.84,210.40 L408.99,211.05 L409.13,211.69 L409.27,212.33 L409.41,212.98 L409.55,213.62 L409.69,214.27 L409.82,214.91 L409.96,215.56 L410.09,216.20 L410.22,216.85 L410.36,217.50 L410.49,218.14 L410.62,218.79 L410.74,219.44 L410.87,220.08 L411.00,220.73 L411.12,221.38 L411.25,222.03 L411.37,222.68 L411.49,223.32 L411.61,223.97 L411.73,224.62 L411.85,225.27 L411.97,225.92 L412.09,226.57 L412.21,227.22 L412.32,227.87 L412.44,228.52 L412.55,229.17 L412.67,229.82 L412.78,230.47 L412.89,231.12 L413.00,231.78 L413.12,232.43 L413.23,233.08 L413.34,233.73 L413.45,234.38 L413.55,235.04 L413.66,235.69 L413.77,236.34 L413.88,236.99 L413.99,237.65 L414.09,238.30 L414.20,238.95 L414.30,239.61 L414.41,240.26 L414.51,240.92 L414.62,241.57 L414.72,242.23 L414.83,242.88 L414.93,243.54 L415.03,244.19 L415.14,244.85 L415.24,245.50 L415.34,246.16 L415.44,246.81 L415.55,247.47 L415.65,248.12 L415.75,248.78 L415.85,249.44 L415.95,250.09 L416.05,250.75 L416.16,251.41 L416.26,252.07 L416.36,252.72 L416.46,253.38 L416.56,254.04 L416.66,254.70 L416.76,255.35 L416.85,256.01 L416.95,256.67 L417.05,257.33 L417.15,257.99 L417.25,258.65 L417.35,259.30 L417.44,259.96 L417.54,260.62 L417.64,261.28 L417.74,261.94 L417.83,262.60 L417.93,263.26 L418.02,263.92 L418.12,264.58 L418.22,265.24 L418.31,265.90 L418.41,266.56 L418.50,267.22 L418.60,267.88 L418.69,268.54 L418.79,269.20 L418.88,269.86 L418.97,270.53 L419.07,271.19 L419.16,271.85 L419.25,272.51 L419.35,273.17 L419.44,273.83 L419.53,274.49 L419.62,275.16 L419.71,275.82 L419.81,276.48 L419.90,277.14 L419.99,277.80 L420.08,278.47 L420.17,279.13 L420.26,279.79 L420.35,280.45 L420.44,281.12 L420.53,281.78 L420.62,282.44 L420.71,283.10 L420.80,283.77 L420.89,284.43 L420.97,285.09 L421.06,285.76 L421.15,286.42 L421.24,287.08 L421.33,287.74 L421.41,288.41 L421.50,289.07 L421.59,289.74 L421.67,290.40 L421.76,291.06 L421.84,291.73 L421.93,292.39 L422.02,293.05 L422.10,293.72 L422.19,294.38 L422.27,295.05 L422.36,295.71 L422.44,296.37 L422.52,297.04 L422.61,297.70 L422.69,298.37 L422.77,299.03 L422.86,299.69 L422.94,300.36 L423.02,301.02 L423.10,301.69 L423.19,302.35 L423.27,303.02 L423.35,303.68 L423.43,304.34 L423.51,305.01 L423.59,305.67 L423.67,306.34 L423.75,307.00 L423.83,307.67 L423.91,308.33 L423.99,309.00 L424.07,309.66 L424.15,310.32 L424.23,310.99 L424.31,311.65 L424.39,312.32 L424.46,312.98 L424.54,313.65 L424.62,314.31 L424.70,314.98 L424.77,315.64 L424.85,316.31 L424.93,316.97 L425.00,317.63 L425.08,318.30 L425.15,318.96 L425.23,319.63 L425.30,320.29 L425.38,320.96 L425.45,321.62 L425.53,322.29 L425.60,322.95 L425.68,323.61 L425.75,324.28 L425.82,324.94 L425.90,325.61 L425.97,326.27 L426.04,326.94 L426.11,327.60 L426.19,328.26 L426.26,328.93 L426.33,329.59 L426.40,330.26 L426.47,330.92 L426.54,331.58 L426.61,332.25 L426.68,332.91 L426.75,333.58 L426.82,334.24 L426.89,334.90 L426.96,335.57 L427.03,336.23 L427.10,336.89 L427.17,337.56 L427.24,338.22 L427.31,338.88 L427.37,339.55 L427.44,340.21 L427.51,340.87 L427.58,341.54 L427.64,342.20 L427.71,342.86 L427.78,343.52 L427.84,344.19 L427.91,344.85 L427.97,345.51 L428.04,346.17 L428.10,346.84 L428.17,347.50 L428.23,348.16 L428.30,348.82 L428.36,349.48 L428.42,350.15 L428.49,350.81 L428.55,351.47 L428.61,352.13 L428.68,352.79 L428.74,353.45 L428.80,354.12 L428.86,354.78 L428.93,355.44 L428.99,356.10 L429.05,356.76 L429.11,357.42 L429.17,358.08 L429.23,358.74 L429.29,359.40 L429.35,360.06 L429.41,360.72 L429.47,361.38 L429.53,362.04 L429.59,362.70 L429.65,363.36 L429.70,364.02 L429.76,364.68 L429.82,365.34 L429.88,366.00 L429.93,366.66 L429.99,367.32 L430.05,367.97 L430.10,368.63 L430.16,369.29 L430.22,369.95 L430.27,370.61 L430.33,371.26 L430.38,371.92 L430.44,372.58 L430.49,373.24" stroke="#686868"/>
<path d="M50.30,359.32 L50.95,359.18 L51.61,359.04 L52.26,358.90 L52.92,358.77 L53.58,358.63 L54.23,358.50 L54.89,358.36 L55.55,358.23 L56.21,358.10 L56.86,357.96 L57.52,357.83 L58.18,357.70 L58.84,357.57 L59.49,357.44 L60.15,357.31 L60.81,357.18 L61.47,357.05 L62.13,356.93 L62.78,356.80 L63.44,356.67 L64.10,356.54 L64.76,356.41 L65.41,356.29 L66.07,356.16 L66.73,356.03 L67.39,355.91 L68.05,355.78 L68.70,355.65 L69.36,355.53 L70.02,355.40 L70.67,355.27 L71.33,355.14 L71.99,355.02 L72.64,354.89 L73.30,354.76 L73.96,354.63 L74.61,354.50 L75.27,354.37 L75.92,354.24 L76.58,354.11 L77.23,353.98 L77.89,353.85 L78.54,353.72 L79.19,353.58 L79.85,353.45 L80.50,353.32 L81.15,353.18 L81.81,353.05 L82.46,352.91 L83.11,352.77 L83.76,352.63 L84.41,352.49 L85.06,352.35 L85.71,352.21 L86.36,352.07 L87.01,351.93 L87.66,351.78 L88.31,351.64 L88.96,351.49 L89.60,351.34 L90.25,351.19 L90.90,351.04 L91.54,350.89 L92.19,350.73 L92.83,350.58 L93.47,350.42 L94.12,350.26 L94.76,350.10 L95.40,349.94 L96.04,349.78 L96.68,349.61 L97.32,349.45 L97.96,349.28 L98.60,349.11 L99.24,348.94 L99.88,348.76 L100.51,348.59 L101.15,348.41 L101.78,348.23 L102.42,348.05 L103.05,347.87 L103.68,347.68 L104.31,347.49 L104.94,347.30 L105.57,347.11 L106.20,346.92 L106.83,346.72 L107.46,346.52 L108.09,346.32 L108.71,346.12 L109.34,345.91 L109.96,345.70 L110.58,345.49 L111.21,345.28 L111.83,345.06 L112.45,344.84 L113.07,344.62 L113.68,344.39 L114.30,344.17 L114.92,343.94 L115.53,343.70 L116.15,343.47 L116.76,343.23 L117.37,342.99 L117.98,342.74 L118.59,342.50 L119.20,342.25 L119.81,341.99 L120.41,341.74 L121.02,341.48 L121.62,341.21 L122.22,340.95 L122.83,340.68 L123.43,340.41 L124.02,340.13 L124.62,339.85 L125.22,339.57 L125.81,339.28 L126.41,338.99 L127.00,338.70 L127.59,338.40 L128.18,338.10 L128.77,337.80 L129.36,337.49 L129.95,337.18 L130.53,336.86 L131.12,336.54 L131.70,336.22 L132.28,335.90 L132.86,335.57 L133.44,335.23 L134.01,334.90 L134.59,334.56 L135.16,334.22 L135.73,333.87 L136.30,333.52 L136.87,333.17 L137.44,332.82 L138.01,332.46 L138.57,332.10 L139.13,331.74 L139.70,331.37 L140.26,331.00 L140.81,330.63 L141.37,330.25 L141.93,329.87 L142.48,329.49 L143.03,329.10 L143.58,328.72 L144.13,328.33 L144.68,327.93 L145.22,327.54 L145.77,327.14 L146.31,326.74 L146.85,326.34 L147.39,325.93 L147.92,325.52 L148.46,325.11 L148.99,324.70 L149.52,324.28 L150.05,323.86 L150.58,323.44 L151.11,323.02 L151.63,322.59 L152.15,322.16 L152.67,321.73 L153.19,321.30 L153.71,320.86 L154.22,320.43 L154.74,319.99 L155.25,319.55 L155.76,319.10 L156.26,318.66 L156.77,318.21 L157.27,317.76 L157.77,317.31 L158.27,316.86 L158.77,316.40 L159.27,315.94 L159.76,315.48 L160.25,315.02 L160.74,314.56 L161.23,314.10 L161.71,313.63 L162.19,313.16 L162.67,312.69 L163.15,312.22 L163.63,311.75 L164.10,311.27 L164.58,310.80 L165.05,310.32 L165.51,309.84 L165.98,309.36 L166.44,308.88 L166.90,308.40 L167.36,307.91 L167.82,307.43 L168.27,306.94 L168.72,306.45 L169.17,305.96 L169.62,305.47 L170.07,304.98 L170.51,304.48 L170.95,303.99 L171.39,303.49 L171.83,303.00 L172.26,302.50 L172.69,302.00 L173.12,301.50 L173.55,301.00 L173.98,300.49 L174.40,299.99 L174.82,299.48 L175.24,298.98 L175.66,298.47 L176.08,297.96 L176.49,297.45 L176.91,296.94 L177.32,296.42 L177.72,295.91 L178.13,295.39 L178.54,294.88 L178.94,294.36 L179.34,293.84 L179.74,293.32 L180.14,292.80 L180.53,292.28 L180.93,291.76 L181.32,291.23 L181.71,290.71 L182.10,290.18 L182.48,289.65 L182.87,289.12 L183.25,288.60 L183.64,288.06 L184.02,287.53 L184.40,287.00 L184.77,286.47 L185.15,285.93 L185.52,285.39 L185.90,284.86 L186.27,284.32 L186.64,283.78 L187.01,283.24 L187.37,282.70 L187.74,282.15 L188.10,281.61 L188.47,281.07 L188.83,280.52 L189.19,279.97 L189.55,279.43 L189.90,278.88 L190.26,278.33 L190.62,277.78 L190.97,277.22 L191.32,276.67 L191.67,276.12 L192.02,275.56 L192.37,275.01 L192.72,274.45 L193.06,273.89 L193.41,273.34 L193.75,272.78 L194.10,272.21 L194.44,271.65 L194.78,271.09 L195.12,270.53 L195.46,269.96 L195.80,269.40 L196.13,268.83 L196.47,268.26 L196.80,267.70 L197.14,267.13 L197.47,266.56 L197.80,265.99 L198.14,265.42 L198.47,264.84 L198.80,264.27 L199.12,263.69 L199.45,263.12 L199.78,262.54 L200.11,261.97 L200.43,261.39 L200.76,260.81 L201.08,260.23 L201.40,259.65 L201.73,259.07 L202.05,258.49 L202.37,257.90 L202.69,257.32 L203.01,256.74 L203.33,256.15 L203.65,255.56 L203.97,254.98 L204.29,254.39 L204.60,253.80 L204.92,253.21 L205.24,252.62 L205.55,252.03 L205.87,251.44 L206.18,250.84 L206.50,250.25 L206.81,249.66 L207.13,249.06 L207.44,248.47 L207.75,247.87 L208.07,247.27 L208.38,246.67 L208.69,246.08 L209.00,245.48 L209.32,244.88 L209.63,244.27 L209.94,243.67 L210.25,243.07 L210.56,242.47 L210.87,241.86 L211.18,241.26 L211.49,240.66 L211.81,240.05 L212.12,239.44 L212.43,238.84 L212.74,238.23 L213.05,237.62 L213.36,237.02 L213.67,236.41 L213.98,235.80 L214.29,235.20 L214.60,234.59 L214.92,233.98 L215.23,233.37 L215.54,232.76 L215.85,232.15 L216.17,231.55 L216.48,230.94 L216.80,230.33 L217.11,229.72 L217.43,229.11 L217.74,228.51 L218.06,227.90 L218.37,227.29 L218.69,226.69 L219.01,226.08 L219.33,225.47 L219.65,224.87 L219.97,224.26 L220.29,223.66 L220.61,223.06 L220.93,222.45 L221.25,221.85 L221.58,221.25 L221.90,220.65 L222.23,220.05 L222.55,219.45 L222.88,218.85 L223.21,218.25 L223.54,217.65 L223.87,217.06 L224.20,216.46 L224.54,215.87 L224.87,215.27 L225.20,214.68 L225.54,214.09 L225.88,213.50 L226.22,212.91 L226.56,212.32 L226.90,211.74 L227.24,211.15 L227.59,210.57 L227.93,209.99 L228.28,209.41 L228.63,208.83 L228.98,208.25 L229.33,207.67 L229.68,207.10 L230.04,206.53 L230.39,205.95 L230.75,205.38 L231.11,204.82 L231.47,204.25 L231.83,203.69 L232.20,203.12 L232.57,202.56 L232.93,202.00 L233.30,201.45 L233.68,200.89 L234.05,200.34 L234.43,199.79 L234.80,199.24 L235.18,198.69 L235.56,198.15 L235.95,197.60 L236.33,197.06 L236.72,196.53 L237.11,195.99 L237.50,195.46 L237.90,194.93 L238.30,194.40 L238.69,193.87 L239.10,193.35 L239.50,192.83 L239.90,192.31 L240.31,191.79 L240.72,191.28 L241.14,190.77 L241.55,190.26 L241.97,189.76 L242.39,189.25 L242.81,188.75 L243.24,188.26 L243.66,187.76 L244.09,187.27 L244.53,186.78 L244.96,186.30 L245.40,185.82 L245.84,185.34 L246.29,184.86 L246.73,184.39 L247.18,183.92 L247.64,183.46 L248.09,183.00 L248.55,182.54 L249.01,182.08 L249.47,181.63 L249.94,181.18 L250.41,180.73 L250.88,180.29 L251.36,179.85 L251.84,179.42 L252.32,178.99 L252.81,178.56 L253.30,178.13 L253.79,177.71 L254.28,177.30 L254.78,176.88 L255.28,176.48 L255.79,176.07 L256.30,175.67 L256.81,175.27 L257.32,174.88 L257.84,174.49 L258.36,174.11 L258.89,173.72 L259.42,173.35 L259.95,172.98 L260.49,172.61 L261.03,172.25 L261.57,171.89 L262.12,171.54 L262.67,171.19 L263.22,170.85 L263.77,170.51 L264.33,170.19 L264.89,169.86 L265.46,169.55 L266.03,169.24 L266.60,168.94 L267.17,168.65 L267.75,168.36 L268.33,168.08 L268.91,167.81 L269.50,167.55 L270.08,167.30 L270.67,167.05 L271.27,166.82 L271.86,166.59 L272.46,166.37 L273.06,166.16 L273.67,165.97 L274.27,165.78 L274.88,165.60 L275.49,165.44 L276.10,165.28 L276.72,165.13 L277.34,165.00 L277.96,164.88 L278.58,164.77 L279.20,164.67 L279.83,164.58 L280.46,164.51 L281.09,164.44 L281.72,164.40 L282.36,164.36 L282.99,164.34 L283.63,164.33 L284.27,164.33 L284.91,164.34 L285.56,164.36 L286.20,164.40 L286.85,164.45 L287.50,164.50 L288.15,164.56 L288.80,164.64 L289.45,164.72 L290.11,164.80 L290.76,164.90 L291.42,165.00 L292.08,165.11 L292.74,165.22 L293.40,165.33 L294.06,165.46 L294.73,165.58 L295.39,165.71 L296.06,165.84 L296.73,165.97 L297.40,166.10 L298.06,166.24 L298.73,166.37 L299.41,166.51 L300.08,166.65 L300.75,166.78 L301.42,166.91 L302.10,167.05 L302.77,167.18 L303.45,167.31 L304.13,167.43 L304.80,167.56 L305.48,167.68 L306.16,167.80 L306.84,167.92 L307.52,168.03 L308.20,168.14 L308.88,168.25 L309.56,168.35 L310.24,168.45 L310.92,168.54 L311.60,168.63 L312.28,168.72 L312.96,168.80 L313.64,168.87 L314.32,168.94 L315.01,169.00 L315.69,169.06 L316.37,169.11 L317.05,169.15 L317.73,169.19 L318.41,169.22 L319.09,169.24 L319.77,169.26 L320.45,169.27 L321.13,169.27 L321.81,169.26 L322.49,169.24 L323.17,169.21 L323.85,169.18 L324.53,169.13 L325.20,169.08 L325.88,169.01 L326.55,168.94 L327.23,168.86 L327.90,168.76 L328.58,168.65 L329.25,168.54 L329.92,168.41 L330.59,168.27 L331.26,168.12 L331.93,167.96 L332.60,167.79 L333.26,167.60 L333.93,167.41 L334.59,167.21 L335.26,167.00 L335.92,166.79 L336.58,166.56 L337.24,166.33 L337.90,166.09 L338.56,165.84 L339.21,165.59 L339.87,165.33 L340.52,165.07 L341.17,164.80 L341.82,164.53 L342.47,164.25 L343.11,163.97 L343.76,163.69 L344.40,163.40 L345.04,163.12 L345.68,162.83 L346.32,162.54 L346.95,162.25 L347.59,161.96 L348.22,161.66 L348.85,161.37 L349.47,161.08 L350.10,160.80 L350.72,160.51 L351.34,160.22 L351.96,159.94 L352.58,159.66 L353.19,159.39 L353.81,159.12 L354.42,158.85 L355.02,158.59 L355.63,158.33 L356.23,158.08 L356.83,157.84 L357.43,157.60 L358.02,157.37 L358.61,157.14 L359.20,156.93 L359.79,156.72 L360.37,156.52 L360.95,156.33 L361.53,156.15 L362.11,155.99 L362.68,155.83 L363.25,155.68 L363.82,155.54 L364.38,155.42 L364.94,155.31 L365.50,155.21 L366.05,155.12 L366.60,155.05 L367.15,154.99 L367.70,154.94 L368.24,154.91 L368.77,154.90 L369.31,154.90 L369.84,154.92 L370.37,154.95 L370.89,155.01 L371.41,155.08 L371.93,155.16 L372.44,155.27 L372.95,155.39 L373.46,155.54 L373.96,155.70 L374.46,155.88 L374.95,156.09 L375.44,156.31 L375.93,156.56 L376.41,156.83 L376.89,157.12 L377.36,157.43 L377.84,157.77 L378.30,158.12 L378.76,158.50 L379.22,158.89 L379.68,159.30 L380.13,159.73 L380.57,160.18 L381.01,160.65 L381.45,161.13 L381.88,161.63 L382.30,162.14 L382.73,162.67 L383.14,163.21 L383.55,163.76 L383.96,164.33 L384.36,164.91 L384.76,165.50 L385.15,166.10 L385.54,166.71 L385.92,167.33 L386.30,167.96 L386.67,168.60 L387.04,169.24 L387.40,169.90 L387.75,170.55 L388.10,171.22 L388.45,171.89 L388.79,172.57 L389.12,173.25 L389.45,173.93 L389.77,174.61 L390.08,175.30 L390.39,175.99 L390.70,176.68 L390.99,177.37 L391.29,178.06 L391.57,178.75 L391.85,179.44 L392.12,180.13 L392.39,180.81 L392.65,181.49 L392.90,182.17 L393.15,182.84 L393.40,183.52 L393.63,184.19 L393.87,184.86 L394.09,185.52 L394.32,186.19 L394.53,186.85 L394.75,187.51 L394.95,188.17 L395.16,188.83 L395.36,189.48 L395.56,190.14 L395.75,190.79 L395.94,191.44 L396.12,192.09 L396.31,192.73 L396.48,193.38 L396.66,194.02 L396.84,194.67 L397.01,195.31 L397.18,195.95 L397.34,196.59 L397.51,197.23 L397.67,197.87 L397.83,198.51 L397.99,199.15 L398.15,199.78 L398.31,200.42 L398.47,201.06 L398.62,201.69 L398.78,202.33 L398.94,202.96 L399.09,203.60 L399.25,204.23 L399.40,204.87 L399.56,205.50 L399.71,206.14 L399.87,206.77 L400.02,207.41 L400.18,208.05 L400.34,208.68 L400.49,209.32 L400.65,209.95 L400.81,210.59 L400.96,211.23 L401.12,211.86 L401.28,212.50 L401.43,213.13 L401.59,213.77 L401.75,214.41 L401.90,215.04 L402.06,215.68 L402.22,216.32 L402.37,216.96 L402.53,217.59 L402.68,218.23 L402.84,218.87 L403.00,219.51 L403.15,220.14 L403.31,220.78 L403.46,221.42 L403.62,222.06 L403.77,222.70 L403.93,223.34 L404.08,223.98 L404.24,224.62 L404.39,225.26 L404.54,225.90 L404.70,226.54 L404.85,227.18 L405.00,227.82 L405.15,228.46 L405.31,229.10 L405.46,229.74 L405.61,230.38 L405.76,231.02 L405.91,231.66 L406.06,232.30 L406.21,232.95 L406.35,233.59 L406.50,234.23 L406.65,234.87 L406.80,235.52 L406.94,236.16 L407.09,236.81 L407.23,237.45 L407.38,238.09 L407.52,238.74 L407.66,239.38 L407.81,240.03 L407.95,240.67 L408.09,241.32 L408.23,241.96 L408.37,242.61 L408.50,243.26 L408.64,243.90 L408.78,244.55 L408.92,245.20 L409.05,245.85 L409.18,246.50 L409.32,247.14 L409.45,247.79 L409.58,248.44 L409.71,249.09 L409.84,249.74 L409.97,250.39 L410.10,251.04 L410.23,251.69 L410.36,252.34 L410.49,252.99 L410.61,253.64 L410.74,254.30 L410.86,254.95 L410.99,255.60 L411.11,256.25 L411.23,256.91 L411.35,257.56 L411.47,258.21 L411.59,258.87 L411.71,259.52 L411.83,260.17 L411.95,260.83 L412.07,261.48 L412.18,262.14 L412.30,262.79 L412.42,263.45 L412.53,264.10 L412.64,264.76 L412.76,265.41 L412.87,266.07 L412.98,266.73 L413.09,267.38 L413.21,268.04 L413.32,268.70 L413.43,269.35 L413.54,270.01 L413.64,270.67 L413.75,271.33 L413.86,271.98 L413.97,272.64 L414.07,273.30 L414.18,273.96 L414.28,274.62 L414.39,275.28 L414.49,275.93 L414.59,276.59 L414.70,277.25 L414.80,277.91 L414.90,278.57 L415.00,279.23 L415.10,279.89 L415.20,280.55 L415.30,281.21 L415.40,281.87 L415.50,282.53 L415.60,283.19 L415.70,283.86 L415.79,284.52 L415.89,285.18 L415.99,285.84 L416.08,286.50 L416.18,287.16 L416.27,287.82 L416.37,288.49 L416.46,289.15 L416.55,289.81 L416.65,290.47 L416.74,291.14 L416.83,291.80 L416.92,292.46 L417.01,293.12 L417.10,293.79 L417.19,294.45 L417.28,295.11 L417.37,295.77 L417.46,296.44 L417.55,297.10 L417.64,297.76 L417.73,298.43 L417.81,299.09 L417.90,299.76 L417.99,300.42 L418.08,301.08 L418.16,301.75 L418.25,302.41 L418.33,303.07 L418.42,303.74 L418.50,304.40 L418.59,305.07 L418.67,305.73 L418.75,306.40 L418.84,307.06 L418.92,307.72 L419.00,308.39 L419.09,309.05 L419.17,309.72 L419.25,310.38 L419.33,311.05 L419.41,311.71 L419.49,312.37 L419.58,313.04 L419.66,313.70 L419.74,314.37 L419.82,315.03 L419.90,315.70 L419.98,316.36 L420.06,317.03 L420.13,317.69 L420.21,318.36 L420.29,319.02 L420.37,319.69 L420.45,320.35 L420.53,321.01 L420.60,321.68 L420.68,322.34 L420.76,323.01 L420.84,323.67 L420.91,324.34 L420.99,325.00 L421.07,325.67 L421.14,326.33 L421.22,327.00 L421.30,327.66 L421.37,328.32 L421.45,328.99 L421.53,329.65 L421.60,330.32 L421.68,330.98 L421.75,331.64 L421.83,332.31 L421.90,332.97 L421.98,333.64 L422.05,334.30 L422.13,334.96 L422.20,335.63 L422.28,336.29 L422.35,336.95 L422.43,337.62 L422.50,338.28 L422.58,338.94 L422.65,339.61 L422.72,340.27 L422.80,340.93 L422.87,341.60 L422.95,342.26 L423.02,342.92 L423.10,343.58 L423.17,344.25 L423.24,344.91 L423.32,345.57 L423.39,346.23 L423.47,346.89 L423.54,347.56 L423.62,348.22 L423.69,348.88 L423.76,349.54 L423.84,350.20 L423.91,350.86 L423.99,351.52 L424.06,352.18 L424.14,352.85 L424.21,353.51 L424.28,354.17 L424.36,354.83 L424.43,355.49 L424.51,356.15 L424.58,356.81 L424.66,357.47 L424.73,358.13 L424.81,358.78 L424.88,359.44 L424.96,360.10 L425.03,360.76 L425.11,361.42 L425.19,362.08 L425.26,362.74 L425.34,363.39 L425.41,364.05 L425.49,364.71 L425.57,365.37 L425.64,366.02 L425.72,366.68 L425.80,367.34 L425.87,367.99 L425.95,368.65 L426.03,369.31 L426.11,369.96 L426.18,370.62 L426.26,371.27 L426.34,371.93 L426.42,372.58 L426.50,373.24" stroke="#2c2c2c"/>
</g>
<path d="M258.5,121.2V225.0M317.5,121.2V225.0" stroke="#1a1a1a" stroke-width="1.5" stroke-dasharray="8.5 4.9" fill="none"/>
<text x="137.3" y="140.3" class="mx" font-size="16" textLength="87" lengthAdjust="spacingAndGlyphs">Mixing layer</text>
<path d="M233.2,136.1H253.8" stroke="#000" stroke-width="1.2"/>
<path d="M257.8,136.1 L242.8,130.6 L247.3,136.1 L242.8,141.6 Z" fill="#000"/>
<path d="M334.0,136.1H321.5" stroke="#000" stroke-width="1.2"/>
<path d="M317.5,136.1 L332.5,130.6 L328.0,136.1 L332.5,141.6 Z" fill="#000"/>
<path d="M53.16,363.5V360.8M53.16,5.5V8.2M58.50,363.5V358.5M58.50,5.5V10.5M92.14,363.5V360.8M92.14,5.5V8.2M111.93,363.5V360.8M111.93,5.5V8.2M125.97,363.5V360.8M125.97,5.5V8.2M136.86,363.5V360.8M136.86,5.5V8.2M145.76,363.5V360.8M145.76,5.5V8.2M153.29,363.5V360.8M153.29,5.5V8.2M159.81,363.5V360.8M159.81,5.5V8.2M165.56,363.5V360.8M165.56,5.5V8.2M170.50,363.5V358.5M170.50,5.5V10.5M204.54,363.5V360.8M204.54,5.5V8.2M224.33,363.5V360.8M224.33,5.5V8.2M238.37,363.5V360.8M238.37,5.5V8.2M249.26,363.5V360.8M249.26,5.5V8.2M258.16,363.5V360.8M258.16,5.5V8.2M265.69,363.5V360.8M265.69,5.5V8.2M272.21,363.5V360.8M272.21,5.5V8.2M277.96,363.5V360.8M277.96,5.5V8.2M283.50,363.5V358.5M283.50,5.5V10.5M316.94,363.5V360.8M316.94,5.5V8.2M336.73,363.5V360.8M336.73,5.5V8.2M350.77,363.5V360.8M350.77,5.5V8.2M361.66,363.5V360.8M361.66,5.5V8.2M370.56,363.5V360.8M370.56,5.5V8.2M378.09,363.5V360.8M378.09,5.5V8.2M384.61,363.5V360.8M384.61,5.5V8.2M390.36,363.5V360.8M390.36,5.5V8.2M395.50,363.5V358.5M395.50,5.5V10.5M429.34,363.5V360.8M429.34,5.5V8.2M449.13,363.5V360.8M449.13,5.5V8.2M463.17,363.5V360.8M463.17,5.5V8.2M474.06,363.5V360.8M474.06,5.5V8.2M482.96,363.5V360.8M482.96,5.5V8.2M490.49,363.5V360.8M490.49,5.5V8.2M497.01,363.5V360.8M497.01,5.5V8.2M502.76,363.5V360.8M502.76,5.5V8.2M507.50,363.5V358.5M507.50,5.5V10.5M50.5,363.50H55.5M508.5,363.50H503.5M50.5,323.50H55.5M508.5,323.50H503.5M50.5,283.50H55.5M508.5,283.50H503.5M50.5,244.50H55.5M508.5,244.50H503.5M50.5,204.50H55.5M508.5,204.50H503.5M50.5,164.50H55.5M508.5,164.50H503.5M50.5,124.50H55.5M508.5,124.50H503.5M50.5,84.50H55.5M508.5,84.50H503.5M50.5,45.50H55.5M508.5,45.50H503.5M50.5,5.50H55.5M508.5,5.50H503.5" stroke="#262626" stroke-width="1" fill="none"/>
<rect x="50.5" y="5.5" width="458" height="358" fill="none" stroke="#262626" stroke-width="1"/>
<text x="44" y="369.9" text-anchor="end" class="tk">0</text>
<text x="44" y="330.1" text-anchor="end" class="tk">0.2</text>
<text x="44" y="290.4" text-anchor="end" class="tk">0.4</text>
<text x="44" y="250.6" text-anchor="end" class="tk">0.6</text>
<text x="44" y="210.9" text-anchor="end" class="tk">0.8</text>
<text x="44" y="171.1" text-anchor="end" class="tk">1</text>
<text x="44" y="131.3" text-anchor="end" class="tk">1.2</text>
<text x="44" y="91.6" text-anchor="end" class="tk">1.4</text>
<text x="44" y="51.8" text-anchor="end" class="tk">1.6</text>
<text x="44" y="12.1" text-anchor="end" class="tk">1.8</text>
<text x="58.3" y="390.2" text-anchor="middle" class="tk">10<tspan class="sup" dy="-8.5">-2</tspan></text>
<text x="170.7" y="390.2" text-anchor="middle" class="tk">10<tspan class="sup" dy="-8.5">-1</tspan></text>
<text x="283.1" y="390.2" text-anchor="middle" class="tk">10<tspan class="sup" dy="-8.5">0</tspan></text>
<text x="395.5" y="390.2" text-anchor="middle" class="tk">10<tspan class="sup" dy="-8.5">1</tspan></text>
<text x="507.9" y="390.2" text-anchor="middle" class="tk">10<tspan class="sup" dy="-8.5">2</tspan></text>
<rect x="61.5" y="16.5" width="145" height="85" fill="#fff" stroke="#262626" stroke-width="1"/>
<path d="M65.5,28.2H107.5" stroke="#cacaca" stroke-width="3.4"/>
<text x="110.6" y="33.0" class="lg it" textLength="10.0" lengthAdjust="spacingAndGlyphs">x</text><text x="124.3" y="33.0" class="lg" textLength="13.0" lengthAdjust="spacingAndGlyphs">=</text><text x="142.1" y="33.0" class="lg it" textLength="10.2" lengthAdjust="spacingAndGlyphs">x</text><text x="152.4" y="36.2" class="lgs it" textLength="6.6" lengthAdjust="spacingAndGlyphs">a</text><text x="163.2" y="33.0" class="lg" textLength="11.6" lengthAdjust="spacingAndGlyphs">+</text><text x="178.6" y="33.0" class="lg" textLength="22.4" lengthAdjust="spacingAndGlyphs">0.1</text>
<path d="M65.5,48.8H107.5" stroke="#9c9c9c" stroke-width="3.4"/>
<text x="110.6" y="53.5" class="lg it" textLength="10.0" lengthAdjust="spacingAndGlyphs">x</text><text x="124.3" y="53.5" class="lg" textLength="13.0" lengthAdjust="spacingAndGlyphs">=</text><text x="142.3" y="53.5" class="lg" textLength="22.8" lengthAdjust="spacingAndGlyphs">0.4</text>
<path d="M65.5,69.8H107.5" stroke="#686868" stroke-width="3.4"/>
<text x="110.6" y="73.6" class="lg it" textLength="10.0" lengthAdjust="spacingAndGlyphs">x</text><text x="124.3" y="73.6" class="lg" textLength="13.0" lengthAdjust="spacingAndGlyphs">=</text><text x="142.3" y="73.6" class="lg" textLength="22.8" lengthAdjust="spacingAndGlyphs">0.5</text>
<path d="M65.5,90.7H107.5" stroke="#2c2c2c" stroke-width="3.4"/>
<text x="110.6" y="94.2" class="lg it" textLength="10.0" lengthAdjust="spacingAndGlyphs">x</text><text x="124.3" y="94.2" class="lg" textLength="13.0" lengthAdjust="spacingAndGlyphs">=</text><text x="142.3" y="94.2" class="lg" textLength="22.8" lengthAdjust="spacingAndGlyphs">0.6</text>
<text x="258.9" y="408.9" class="al it" textLength="8.0" lengthAdjust="spacingAndGlyphs">z</text>
<text x="0" y="0" class="al" transform="translate(267.6,410.8) scale(1,1.3)">/</text>
<text x="276.2" y="408.9" class="al it" textLength="7.6" lengthAdjust="spacingAndGlyphs">z</text>
<text x="283.6" y="410.9" class="als" textLength="16.0" lengthAdjust="spacingAndGlyphs">t,w</text>
<g transform="translate(12.6,184.5) rotate(-90)">
<text x="-30.0" y="0.0" class="al it" textLength="12.6" lengthAdjust="spacingAndGlyphs">U</text>
<text x="0" y="0" class="al" transform="translate(-16.6,1.9) scale(1,1.3)">/</text>
<text x="-9.0" y="0.0" class="al it" textLength="12.2" lengthAdjust="spacingAndGlyphs">U</text>
<text x="1.8" y="2.6" class="als" textLength="22.0" lengthAdjust="spacingAndGlyphs">m,w</text>
</g>
<text x="273.5" y="442.1" text-anchor="middle" class="cap">(a)</text>
<clipPath id="clipb"><rect x="50.5" y="482.5" width="457" height="358"/></clipPath>
<path d="M84.5,483.5V840.5M105.5,483.5V840.5M119.5,483.5V840.5M130.5,483.5V840.5M139.5,483.5V840.5M147.5,483.5V840.5M153.5,483.5V840.5M159.5,483.5V840.5M199.5,483.5V840.5M219.5,483.5V840.5M233.5,483.5V840.5M244.5,483.5V840.5M253.5,483.5V840.5M261.5,483.5V840.5M268.5,483.5V840.5M273.5,483.5V840.5M313.5,483.5V840.5M333.5,483.5V840.5M348.5,483.5V840.5M359.5,483.5V840.5M368.5,483.5V840.5M375.5,483.5V840.5M382.5,483.5V840.5M388.5,483.5V840.5M427.5,483.5V840.5M448.5,483.5V840.5M462.5,483.5V840.5M473.5,483.5V840.5M482.5,483.5V840.5M490.5,483.5V840.5M496.5,483.5V840.5M502.5,483.5V840.5" stroke="#b8b8b8" stroke-width="1" stroke-dasharray="1.2 2.2" fill="none"/>
<path d="M164.50,482.5V840.5M279.50,482.5V840.5M393.50,482.5V840.5M50.5,800.50H507.5M50.5,760.50H507.5M50.5,720.50H507.5M50.5,681.50H507.5M50.5,641.50H507.5M50.5,601.50H507.5M50.5,561.50H507.5M50.5,521.50H507.5" stroke="#dedede" stroke-width="1" fill="none"/>
<g clip-path="url(#clipb)" fill="none" stroke-width="3.4" stroke-linejoin="round">
<path d="M50.39,832.34 L51.09,832.14 L51.79,831.95 L52.49,831.77 L53.19,831.59 L53.89,831.43 L54.58,831.27 L55.28,831.12 L55.97,830.97 L56.66,830.83 L57.35,830.70 L58.04,830.57 L58.73,830.45 L59.41,830.34 L60.10,830.23 L60.78,830.13 L61.46,830.03 L62.14,829.94 L62.82,829.85 L63.50,829.77 L64.18,829.69 L64.85,829.61 L65.53,829.54 L66.20,829.47 L66.87,829.41 L67.54,829.35 L68.21,829.29 L68.88,829.23 L69.55,829.18 L70.22,829.12 L70.88,829.07 L71.54,829.02 L72.20,828.98 L72.87,828.93 L73.52,828.89 L74.18,828.84 L74.84,828.80 L75.50,828.76 L76.15,828.71 L76.80,828.67 L77.46,828.63 L78.11,828.58 L78.76,828.54 L79.41,828.49 L80.05,828.44 L80.70,828.39 L81.34,828.34 L81.99,828.29 L82.63,828.24 L83.27,828.18 L83.91,828.12 L84.55,828.06 L85.19,827.99 L85.83,827.92 L86.46,827.85 L87.10,827.77 L87.73,827.69 L88.36,827.60 L88.99,827.52 L89.62,827.42 L90.25,827.32 L90.88,827.22 L91.51,827.11 L92.13,826.99 L92.76,826.87 L93.38,826.74 L94.00,826.61 L94.62,826.47 L95.24,826.32 L95.86,826.17 L96.48,826.01 L97.09,825.84 L97.71,825.66 L98.32,825.48 L98.94,825.28 L99.55,825.08 L100.16,824.87 L100.77,824.66 L101.38,824.43 L101.99,824.19 L102.60,823.94 L103.20,823.69 L103.81,823.42 L104.41,823.15 L105.01,822.86 L105.62,822.56 L106.22,822.26 L106.82,821.94 L107.41,821.62 L108.01,821.29 L108.61,820.95 L109.20,820.60 L109.80,820.25 L110.39,819.89 L110.99,819.53 L111.58,819.16 L112.17,818.79 L112.76,818.41 L113.35,818.04 L113.93,817.65 L114.52,817.27 L115.11,816.89 L115.69,816.50 L116.28,816.12 L116.86,815.73 L117.44,815.35 L118.02,814.96 L118.60,814.58 L119.18,814.20 L119.76,813.82 L120.34,813.45 L120.91,813.08 L121.49,812.71 L122.06,812.34 L122.63,811.97 L123.21,811.61 L123.78,811.25 L124.35,810.89 L124.92,810.53 L125.49,810.17 L126.06,809.81 L126.62,809.46 L127.19,809.10 L127.75,808.75 L128.32,808.40 L128.88,808.05 L129.45,807.70 L130.01,807.35 L130.57,807.00 L131.13,806.65 L131.69,806.31 L132.25,805.96 L132.80,805.61 L133.36,805.27 L133.92,804.92 L134.47,804.57 L135.02,804.23 L135.58,803.88 L136.13,803.53 L136.68,803.19 L137.23,802.84 L137.78,802.49 L138.33,802.14 L138.88,801.79 L139.43,801.44 L139.97,801.09 L140.52,800.74 L141.07,800.38 L141.61,800.03 L142.15,799.67 L142.70,799.31 L143.24,798.95 L143.78,798.59 L144.32,798.23 L144.86,797.86 L145.40,797.50 L145.94,797.13 L146.47,796.76 L147.01,796.38 L147.55,796.01 L148.08,795.63 L148.62,795.25 L149.15,794.87 L149.68,794.48 L150.21,794.09 L150.75,793.70 L151.28,793.31 L151.81,792.91 L152.34,792.51 L152.86,792.11 L153.39,791.70 L153.92,791.30 L154.44,790.89 L154.97,790.47 L155.49,790.06 L156.01,789.64 L156.53,789.21 L157.05,788.79 L157.57,788.36 L158.09,787.93 L158.61,787.50 L159.12,787.07 L159.63,786.63 L160.15,786.19 L160.66,785.75 L161.16,785.30 L161.67,784.85 L162.18,784.40 L162.68,783.95 L163.19,783.50 L163.69,783.04 L164.19,782.58 L164.68,782.12 L165.18,781.65 L165.67,781.19 L166.17,780.72 L166.66,780.25 L167.14,779.77 L167.63,779.30 L168.11,778.82 L168.60,778.34 L169.08,777.86 L169.55,777.37 L170.03,776.88 L170.50,776.40 L170.98,775.90 L171.44,775.41 L171.91,774.92 L172.38,774.42 L172.84,773.92 L173.30,773.42 L173.75,772.91 L174.21,772.41 L174.66,771.90 L175.11,771.39 L175.56,770.88 L176.00,770.37 L176.44,769.85 L176.88,769.34 L177.32,768.82 L177.75,768.30 L178.18,767.77 L178.61,767.25 L179.03,766.72 L179.45,766.20 L179.87,765.67 L180.29,765.13 L180.70,764.60 L181.11,764.07 L181.52,763.53 L181.92,762.99 L182.32,762.45 L182.71,761.91 L183.11,761.37 L183.50,760.82 L183.88,760.28 L184.27,759.73 L184.64,759.18 L185.02,758.63 L185.39,758.08 L185.76,757.53 L186.13,756.97 L186.49,756.42 L186.85,755.86 L187.21,755.30 L187.57,754.74 L187.92,754.18 L188.27,753.62 L188.61,753.05 L188.96,752.49 L189.30,751.92 L189.63,751.35 L189.97,750.78 L190.30,750.21 L190.63,749.64 L190.96,749.07 L191.28,748.49 L191.61,747.92 L191.93,747.34 L192.25,746.77 L192.56,746.19 L192.87,745.61 L193.19,745.03 L193.50,744.45 L193.80,743.87 L194.11,743.28 L194.41,742.70 L194.71,742.11 L195.01,741.53 L195.31,740.94 L195.60,740.35 L195.90,739.76 L196.19,739.17 L196.48,738.58 L196.77,737.99 L197.06,737.40 L197.34,736.81 L197.63,736.22 L197.91,735.62 L198.19,735.03 L198.47,734.43 L198.75,733.84 L199.03,733.24 L199.31,732.64 L199.58,732.05 L199.86,731.45 L200.13,730.85 L200.40,730.25 L200.68,729.65 L200.95,729.05 L201.22,728.45 L201.48,727.85 L201.75,727.24 L202.02,726.64 L202.29,726.04 L202.55,725.44 L202.82,724.83 L203.08,724.23 L203.35,723.63 L203.61,723.02 L203.88,722.42 L204.14,721.81 L204.40,721.21 L204.67,720.60 L204.93,720.00 L205.19,719.39 L205.45,718.78 L205.72,718.18 L205.98,717.57 L206.24,716.96 L206.50,716.36 L206.77,715.75 L207.03,715.15 L207.29,714.54 L207.55,713.93 L207.82,713.33 L208.08,712.72 L208.35,712.11 L208.61,711.51 L208.88,710.90 L209.14,710.29 L209.41,709.69 L209.68,709.08 L209.94,708.47 L210.21,707.87 L210.48,707.26 L210.75,706.66 L211.02,706.05 L211.29,705.45 L211.57,704.84 L211.84,704.24 L212.11,703.64 L212.39,703.03 L212.67,702.43 L212.95,701.83 L213.23,701.22 L213.51,700.62 L213.79,700.02 L214.07,699.42 L214.36,698.82 L214.64,698.22 L214.93,697.62 L215.22,697.02 L215.51,696.42 L215.81,695.82 L216.10,695.23 L216.40,694.63 L216.69,694.03 L216.99,693.44 L217.30,692.84 L217.60,692.25 L217.91,691.65 L218.21,691.06 L218.52,690.47 L218.84,689.88 L219.15,689.29 L219.47,688.70 L219.79,688.11 L220.11,687.52 L220.43,686.93 L220.76,686.35 L221.08,685.76 L221.42,685.18 L221.75,684.59 L222.08,684.01 L222.42,683.43 L222.76,682.85 L223.11,682.27 L223.46,681.69 L223.81,681.11 L224.16,680.53 L224.51,679.96 L224.87,679.39 L225.23,678.81 L225.60,678.24 L225.96,677.67 L226.33,677.10 L226.71,676.54 L227.08,675.97 L227.46,675.41 L227.84,674.85 L228.23,674.29 L228.61,673.73 L229.01,673.18 L229.40,672.62 L229.80,672.07 L230.19,671.52 L230.60,670.98 L231.00,670.43 L231.41,669.89 L231.82,669.36 L232.24,668.82 L232.65,668.29 L233.08,667.76 L233.50,667.23 L233.93,666.71 L234.36,666.19 L234.79,665.67 L235.22,665.16 L235.66,664.65 L236.11,664.14 L236.55,663.63 L237.00,663.13 L237.45,662.64 L237.91,662.15 L238.36,661.66 L238.83,661.17 L239.29,660.69 L239.76,660.21 L240.23,659.74 L240.70,659.27 L241.18,658.81 L241.66,658.35 L242.14,657.89 L242.63,657.44 L243.12,657.00 L243.61,656.55 L244.11,656.12 L244.61,655.68 L245.11,655.26 L245.62,654.84 L246.13,654.42 L246.64,654.01 L247.16,653.60 L247.68,653.20 L248.20,652.80 L248.73,652.41 L249.26,652.03 L249.79,651.65 L250.33,651.27 L250.87,650.91 L251.41,650.54 L251.96,650.19 L252.51,649.84 L253.06,649.49 L253.62,649.16 L254.18,648.82 L254.74,648.50 L255.31,648.18 L255.88,647.87 L256.45,647.56 L257.03,647.26 L257.61,646.97 L258.20,646.68 L258.79,646.41 L259.38,646.13 L259.97,645.87 L260.57,645.61 L261.17,645.36 L261.78,645.12 L262.39,644.88 L263.00,644.65 L263.62,644.43 L264.24,644.22 L264.86,644.01 L265.49,643.81 L266.12,643.62 L266.75,643.44 L267.39,643.27 L268.03,643.10 L268.68,642.94 L269.33,642.79 L269.98,642.65 L270.63,642.51 L271.29,642.39 L271.96,642.27 L272.62,642.16 L273.29,642.05 L273.96,641.96 L274.64,641.87 L275.31,641.78 L275.99,641.70 L276.67,641.63 L277.36,641.56 L278.04,641.49 L278.73,641.43 L279.41,641.37 L280.10,641.32 L280.79,641.27 L281.48,641.23 L282.17,641.19 L282.87,641.15 L283.56,641.11 L284.25,641.07 L284.94,641.04 L285.64,641.00 L286.33,640.97 L287.02,640.94 L287.71,640.91 L288.40,640.88 L289.09,640.85 L289.78,640.82 L290.47,640.78 L291.15,640.75 L291.84,640.72 L292.52,640.68 L293.20,640.64 L293.88,640.60 L294.56,640.56 L295.23,640.51 L295.90,640.46 L296.57,640.40 L297.24,640.35 L297.90,640.28 L298.56,640.22 L299.22,640.15 L299.87,640.07 L300.52,639.99 L301.16,639.90 L301.80,639.81 L302.44,639.71 L303.07,639.60 L303.70,639.48 L304.32,639.36 L304.94,639.23 L305.55,639.10 L306.16,638.95 L306.76,638.80 L307.36,638.63 L307.95,638.46 L308.53,638.28 L309.11,638.09 L309.68,637.89 L310.25,637.67 L310.81,637.45 L311.36,637.22 L311.91,636.97 L312.45,636.71 L312.98,636.45 L313.50,636.16 L314.02,635.87 L314.53,635.56 L315.03,635.24 L315.52,634.91 L316.01,634.56 L316.48,634.20 L316.95,633.82 L317.41,633.43 L317.86,633.03 L318.30,632.61 L318.73,632.17 L319.16,631.72 L319.57,631.26 L319.98,630.78 L320.39,630.30 L320.78,629.80 L321.17,629.28 L321.55,628.76 L321.92,628.22 L322.28,627.68 L322.64,627.12 L323.00,626.55 L323.34,625.97 L323.69,625.38 L324.02,624.79 L324.35,624.18 L324.68,623.57 L325.00,622.94 L325.31,622.31 L325.62,621.68 L325.93,621.03 L326.23,620.38 L326.53,619.72 L326.83,619.06 L327.12,618.39 L327.40,617.71 L327.69,617.03 L327.97,616.34 L328.25,615.66 L328.52,614.96 L328.79,614.26 L329.07,613.56 L329.33,612.86 L329.60,612.16 L329.87,611.45 L330.13,610.74 L330.39,610.03 L330.65,609.31 L330.91,608.60 L331.17,607.89 L331.43,607.17 L331.69,606.46 L331.95,605.75 L332.21,605.04 L332.47,604.33 L332.73,603.62 L332.99,602.91 L333.26,602.21 L333.52,601.51 L333.78,600.81 L334.05,600.12 L334.32,599.43 L334.59,598.74 L334.86,598.06 L335.13,597.38 L335.41,596.71 L335.69,596.04 L335.97,595.38 L336.26,594.73 L336.55,594.08 L336.84,593.44 L337.14,592.81 L337.44,592.19 L337.74,591.57 L338.05,590.96 L338.37,590.36 L338.68,589.77 L339.01,589.19 L339.34,588.62 L339.67,588.06 L340.01,587.51 L340.35,586.97 L340.70,586.45 L341.06,585.93 L341.42,585.43 L341.79,584.94 L342.17,584.46 L342.56,583.99 L342.95,583.54 L343.34,583.10 L343.75,582.68 L344.16,582.27 L344.58,581.87 L345.01,581.49 L345.45,581.13 L345.90,580.78 L346.35,580.46 L346.81,580.15 L347.27,579.87 L347.74,579.61 L348.21,579.37 L348.69,579.17 L349.16,578.99 L349.64,578.84 L350.12,578.73 L350.60,578.65 L351.08,578.61 L351.56,578.61 L352.04,578.64 L352.51,578.71 L352.98,578.81 L353.44,578.95 L353.90,579.12 L354.36,579.32 L354.80,579.56 L355.24,579.82 L355.68,580.11 L356.10,580.43 L356.51,580.77 L356.92,581.14 L357.31,581.53 L357.69,581.94 L358.07,582.38 L358.44,582.84 L358.80,583.32 L359.15,583.82 L359.49,584.33 L359.83,584.87 L360.15,585.42 L360.47,585.99 L360.78,586.58 L361.09,587.18 L361.39,587.79 L361.68,588.42 L361.96,589.06 L362.24,589.71 L362.51,590.37 L362.78,591.04 L363.04,591.72 L363.29,592.41 L363.54,593.10 L363.78,593.80 L364.02,594.51 L364.26,595.22 L364.48,595.94 L364.71,596.66 L364.93,597.38 L365.15,598.10 L365.36,598.82 L365.57,599.54 L365.77,600.26 L365.97,600.98 L366.17,601.70 L366.37,602.41 L366.56,603.12 L366.75,603.83 L366.94,604.53 L367.12,605.23 L367.30,605.93 L367.48,606.63 L367.66,607.32 L367.83,608.01 L368.00,608.70 L368.17,609.39 L368.34,610.07 L368.50,610.76 L368.66,611.44 L368.82,612.12 L368.98,612.79 L369.13,613.47 L369.28,614.14 L369.44,614.81 L369.58,615.48 L369.73,616.14 L369.87,616.81 L370.02,617.47 L370.16,618.13 L370.30,618.79 L370.43,619.45 L370.57,620.11 L370.70,620.77 L370.84,621.42 L370.97,622.07 L371.10,622.73 L371.22,623.38 L371.35,624.03 L371.48,624.68 L371.60,625.32 L371.72,625.97 L371.85,626.62 L371.97,627.26 L372.09,627.91 L372.21,628.55 L372.32,629.19 L372.44,629.83 L372.56,630.48 L372.67,631.12 L372.79,631.76 L372.90,632.40 L373.02,633.04 L373.13,633.68 L373.24,634.32 L373.36,634.96 L373.47,635.59 L373.58,636.23 L373.69,636.87 L373.80,637.51 L373.91,638.15 L374.03,638.79 L374.14,639.43 L374.25,640.07 L374.36,640.71 L374.47,641.35 L374.58,641.99 L374.69,642.63 L374.80,643.27 L374.92,643.91 L375.03,644.55 L375.14,645.19 L375.25,645.84 L375.36,646.48 L375.47,647.12 L375.58,647.76 L375.69,648.41 L375.81,649.05 L375.92,649.69 L376.03,650.34 L376.14,650.98 L376.25,651.63 L376.36,652.27 L376.47,652.91 L376.59,653.56 L376.70,654.20 L376.81,654.85 L376.92,655.50 L377.03,656.14 L377.14,656.79 L377.25,657.43 L377.36,658.08 L377.47,658.73 L377.59,659.37 L377.70,660.02 L377.81,660.67 L377.92,661.32 L378.03,661.96 L378.14,662.61 L378.25,663.26 L378.36,663.91 L378.47,664.56 L378.59,665.21 L378.70,665.86 L378.81,666.51 L378.92,667.15 L379.03,667.80 L379.14,668.45 L379.25,669.10 L379.36,669.75 L379.47,670.41 L379.58,671.06 L379.69,671.71 L379.80,672.36 L379.91,673.01 L380.02,673.66 L380.13,674.31 L380.24,674.96 L380.35,675.62 L380.46,676.27 L380.57,676.92 L380.68,677.57 L380.79,678.23 L380.90,678.88 L381.01,679.53 L381.12,680.19 L381.23,680.84 L381.34,681.49 L381.45,682.15 L381.56,682.80 L381.67,683.46 L381.78,684.11 L381.89,684.77 L382.00,685.42 L382.11,686.08 L382.22,686.73 L382.33,687.39 L382.44,688.04 L382.54,688.70 L382.65,689.35 L382.76,690.01 L382.87,690.66 L382.98,691.32 L383.09,691.98 L383.19,692.63 L383.30,693.29 L383.41,693.95 L383.52,694.60 L383.63,695.26 L383.73,695.92 L383.84,696.58 L383.95,697.23 L384.06,697.89 L384.16,698.55 L384.27,699.21 L384.38,699.87 L384.48,700.52 L384.59,701.18 L384.70,701.84 L384.80,702.50 L384.91,703.16 L385.02,703.82 L385.12,704.48 L385.23,705.14 L385.34,705.80 L385.44,706.46 L385.55,707.12 L385.65,707.77 L385.76,708.43 L385.86,709.09 L385.97,709.75 L386.07,710.42 L386.18,711.08 L386.28,711.74 L386.39,712.40 L386.49,713.06 L386.60,713.72 L386.70,714.38 L386.81,715.04 L386.91,715.70 L387.01,716.36 L387.12,717.02 L387.22,717.69 L387.32,718.35 L387.43,719.01 L387.53,719.67 L387.63,720.33 L387.74,720.99 L387.84,721.66 L387.94,722.32 L388.04,722.98 L388.14,723.64 L388.25,724.30 L388.35,724.97 L388.45,725.63 L388.55,726.29 L388.65,726.96 L388.75,727.62 L388.85,728.28 L388.95,728.94 L389.05,729.61 L389.16,730.27 L389.26,730.93 L389.36,731.60 L389.45,732.26 L389.55,732.92 L389.65,733.59 L389.75,734.25 L389.85,734.91 L389.95,735.58 L390.05,736.24 L390.15,736.91 L390.25,737.57 L390.34,738.23 L390.44,738.90 L390.54,739.56 L390.64,740.23 L390.73,740.89 L390.83,741.55 L390.93,742.22 L391.02,742.88 L391.12,743.55 L391.22,744.21 L391.31,744.88 L391.41,745.54 L391.50,746.21 L391.60,746.87 L391.69,747.53 L391.79,748.20 L391.88,748.86 L391.98,749.53 L392.07,750.19 L392.17,750.86 L392.26,751.52 L392.35,752.19 L392.45,752.85 L392.54,753.52 L392.63,754.18 L392.73,754.85 L392.82,755.51 L392.91,756.18 L393.00,756.84 L393.09,757.51 L393.19,758.17 L393.28,758.84 L393.37,759.50 L393.46,760.17 L393.55,760.83 L393.64,761.50 L393.73,762.16 L393.82,762.83 L393.91,763.49 L394.00,764.16 L394.09,764.83 L394.17,765.49 L394.26,766.16 L394.35,766.82 L394.44,767.49 L394.53,768.15 L394.61,768.82 L394.70,769.48 L394.79,770.15 L394.87,770.81 L394.96,771.48 L395.05,772.14 L395.13,772.81 L395.22,773.47 L395.30,774.14 L395.39,774.80 L395.47,775.47 L395.56,776.13 L395.64,776.80 L395.72,777.46 L395.81,778.13 L395.89,778.79 L395.97,779.46 L396.06,780.12 L396.14,780.79 L396.22,781.45 L396.30,782.12 L396.38,782.78 L396.47,783.45 L396.55,784.11 L396.63,784.78 L396.71,785.44 L396.79,786.11 L396.87,786.77 L396.95,787.44 L397.03,788.10 L397.10,788.77 L397.18,789.43 L397.26,790.10 L397.34,790.76 L397.42,791.43 L397.49,792.09 L397.57,792.75 L397.65,793.42 L397.72,794.08 L397.80,794.75 L397.87,795.41 L397.95,796.07 L398.02,796.74 L398.10,797.40 L398.17,798.07 L398.25,798.73 L398.32,799.39 L398.39,800.06 L398.47,800.72 L398.54,801.38 L398.61,802.05 L398.68,802.71 L398.75,803.37 L398.82,804.04 L398.90,804.70 L398.97,805.36 L399.04,806.03 L399.11,806.69 L399.18,807.35 L399.24,808.01 L399.31,808.68 L399.38,809.34 L399.45,810.00 L399.52,810.66 L399.58,811.33 L399.65,811.99 L399.72,812.65 L399.78,813.31 L399.85,813.98 L399.92,814.64 L399.98,815.30 L400.05,815.96 L400.11,816.62 L400.17,817.28 L400.24,817.95 L400.30,818.61 L400.36,819.27 L400.43,819.93 L400.49,820.59 L400.55,821.25 L400.61,821.91 L400.67,822.57 L400.73,823.23 L400.79,823.89 L400.85,824.55 L400.91,825.21 L400.97,825.87 L401.03,826.53 L401.09,827.19 L401.15,827.85 L401.20,828.51 L401.26,829.17 L401.32,829.83 L401.37,830.49 L401.43,831.15 L401.48,831.81 L401.54,832.47 L401.59,833.12 L401.65,833.78 L401.70,834.44 L401.75,835.10 L401.81,835.76 L401.86,836.41 L401.91,837.07 L401.96,837.73 L402.01,838.39 L402.07,839.05 L402.12,839.70 L402.17,840.36 L402.22,841.02 L402.26,841.67 L402.31,842.33 L402.36,842.99 L402.41,843.64 L402.46,844.30 L402.50,844.95 L402.55,845.61 L402.60,846.27" stroke="#cacaca"/>
<path d="M50.39,831.31 L51.08,831.30 L51.76,831.29 L52.44,831.28 L53.12,831.26 L53.79,831.24 L54.47,831.22 L55.15,831.19 L55.82,831.16 L56.50,831.13 L57.17,831.09 L57.85,831.05 L58.52,831.00 L59.19,830.96 L59.86,830.91 L60.54,830.85 L61.21,830.79 L61.87,830.73 L62.54,830.67 L63.21,830.60 L63.88,830.52 L64.54,830.45 L65.21,830.37 L65.87,830.29 L66.54,830.20 L67.20,830.12 L67.86,830.02 L68.52,829.93 L69.19,829.83 L69.85,829.73 L70.50,829.62 L71.16,829.51 L71.82,829.40 L72.48,829.29 L73.13,829.17 L73.79,829.05 L74.44,828.92 L75.09,828.80 L75.75,828.67 L76.40,828.53 L77.05,828.39 L77.70,828.25 L78.35,828.11 L78.99,827.96 L79.64,827.81 L80.29,827.66 L80.93,827.51 L81.58,827.35 L82.22,827.18 L82.86,827.02 L83.50,826.85 L84.14,826.68 L84.78,826.51 L85.42,826.33 L86.06,826.15 L86.70,825.96 L87.33,825.78 L87.97,825.59 L88.60,825.40 L89.24,825.20 L89.87,825.00 L90.50,824.80 L91.13,824.60 L91.76,824.39 L92.39,824.18 L93.02,823.97 L93.64,823.75 L94.27,823.54 L94.89,823.31 L95.52,823.09 L96.14,822.86 L96.76,822.63 L97.38,822.40 L98.00,822.17 L98.62,821.93 L99.24,821.69 L99.86,821.44 L100.47,821.20 L101.09,820.95 L101.70,820.70 L102.31,820.44 L102.92,820.18 L103.53,819.92 L104.14,819.66 L104.75,819.40 L105.36,819.13 L105.97,818.86 L106.57,818.58 L107.18,818.31 L107.78,818.03 L108.38,817.75 L108.98,817.46 L109.58,817.18 L110.18,816.89 L110.78,816.60 L111.37,816.30 L111.97,816.01 L112.57,815.71 L113.16,815.41 L113.75,815.10 L114.34,814.79 L114.93,814.49 L115.52,814.17 L116.11,813.86 L116.70,813.54 L117.28,813.22 L117.87,812.90 L118.45,812.58 L119.03,812.25 L119.61,811.92 L120.19,811.59 L120.77,811.26 L121.35,810.92 L121.92,810.58 L122.50,810.24 L123.07,809.90 L123.65,809.56 L124.22,809.21 L124.79,808.86 L125.36,808.51 L125.93,808.15 L126.49,807.80 L127.06,807.44 L127.62,807.08 L128.19,806.71 L128.75,806.35 L129.31,805.98 L129.87,805.61 L130.43,805.24 L130.98,804.86 L131.54,804.49 L132.10,804.11 L132.65,803.73 L133.20,803.34 L133.75,802.96 L134.30,802.57 L134.85,802.18 L135.40,801.79 L135.94,801.40 L136.49,801.00 L137.03,800.60 L137.57,800.21 L138.11,799.80 L138.65,799.40 L139.19,798.99 L139.73,798.59 L140.26,798.18 L140.80,797.77 L141.33,797.35 L141.86,796.94 L142.39,796.52 L142.92,796.10 L143.45,795.68 L143.98,795.25 L144.50,794.83 L145.03,794.40 L145.55,793.97 L146.07,793.54 L146.59,793.11 L147.11,792.68 L147.62,792.24 L148.14,791.80 L148.65,791.36 L149.17,790.92 L149.68,790.48 L150.19,790.03 L150.70,789.58 L151.21,789.13 L151.71,788.68 L152.22,788.23 L152.72,787.78 L153.22,787.32 L153.72,786.86 L154.22,786.40 L154.72,785.94 L155.21,785.48 L155.70,785.02 L156.20,784.55 L156.69,784.08 L157.18,783.61 L157.66,783.14 L158.15,782.67 L158.63,782.20 L159.12,781.72 L159.60,781.24 L160.07,780.77 L160.55,780.29 L161.03,779.80 L161.50,779.32 L161.97,778.84 L162.44,778.35 L162.91,777.86 L163.37,777.37 L163.84,776.88 L164.30,776.39 L164.76,775.90 L165.21,775.40 L165.67,774.90 L166.12,774.41 L166.58,773.91 L167.02,773.41 L167.47,772.90 L167.92,772.40 L168.36,771.90 L168.80,771.39 L169.24,770.88 L169.68,770.37 L170.11,769.86 L170.54,769.35 L170.97,768.84 L171.40,768.33 L171.82,767.81 L172.25,767.29 L172.67,766.78 L173.09,766.26 L173.50,765.74 L173.91,765.22 L174.33,764.69 L174.73,764.17 L175.14,763.64 L175.54,763.12 L175.94,762.59 L176.34,762.06 L176.74,761.53 L177.13,761.00 L177.52,760.47 L177.91,759.94 L178.29,759.40 L178.68,758.87 L179.06,758.33 L179.43,757.79 L179.81,757.25 L180.18,756.72 L180.55,756.17 L180.92,755.63 L181.29,755.09 L181.65,754.55 L182.01,754.00 L182.37,753.46 L182.72,752.91 L183.08,752.36 L183.43,751.82 L183.78,751.27 L184.13,750.72 L184.47,750.17 L184.82,749.61 L185.16,749.06 L185.50,748.51 L185.84,747.95 L186.17,747.40 L186.51,746.84 L186.84,746.28 L187.17,745.73 L187.50,745.17 L187.83,744.61 L188.16,744.05 L188.48,743.49 L188.80,742.92 L189.12,742.36 L189.44,741.80 L189.76,741.24 L190.08,740.67 L190.40,740.10 L190.71,739.54 L191.02,738.97 L191.33,738.40 L191.65,737.84 L191.95,737.27 L192.26,736.70 L192.57,736.13 L192.88,735.56 L193.18,734.99 L193.48,734.41 L193.79,733.84 L194.09,733.27 L194.39,732.70 L194.69,732.12 L194.99,731.55 L195.29,730.97 L195.59,730.40 L195.88,729.82 L196.18,729.24 L196.47,728.67 L196.77,728.09 L197.06,727.51 L197.36,726.93 L197.65,726.35 L197.94,725.77 L198.24,725.19 L198.53,724.61 L198.82,724.03 L199.11,723.45 L199.40,722.87 L199.69,722.29 L199.98,721.70 L200.27,721.12 L200.56,720.54 L200.85,719.96 L201.14,719.37 L201.43,718.79 L201.72,718.20 L202.01,717.62 L202.30,717.04 L202.59,716.45 L202.88,715.87 L203.17,715.28 L203.46,714.69 L203.75,714.11 L204.05,713.52 L204.34,712.94 L204.63,712.35 L204.92,711.76 L205.21,711.18 L205.51,710.59 L205.80,710.00 L206.09,709.42 L206.39,708.83 L206.68,708.24 L206.98,707.65 L207.27,707.07 L207.57,706.48 L207.87,705.89 L208.17,705.30 L208.47,704.72 L208.77,704.13 L209.07,703.54 L209.37,702.95 L209.67,702.37 L209.98,701.78 L210.28,701.19 L210.59,700.60 L210.90,700.02 L211.21,699.43 L211.51,698.84 L211.83,698.25 L212.14,697.67 L212.45,697.08 L212.77,696.49 L213.08,695.91 L213.40,695.32 L213.72,694.73 L214.04,694.15 L214.36,693.56 L214.68,692.97 L215.01,692.39 L215.33,691.80 L215.66,691.22 L215.99,690.63 L216.32,690.05 L216.66,689.46 L216.99,688.88 L217.33,688.30 L217.67,687.71 L218.01,687.13 L218.35,686.55 L218.69,685.96 L219.04,685.38 L219.39,684.80 L219.74,684.22 L220.09,683.63 L220.45,683.05 L220.80,682.47 L221.16,681.89 L221.52,681.31 L221.89,680.73 L222.25,680.16 L222.62,679.58 L222.99,679.00 L223.36,678.42 L223.74,677.85 L224.12,677.28 L224.50,676.70 L224.88,676.13 L225.27,675.56 L225.65,674.99 L226.04,674.43 L226.44,673.86 L226.83,673.30 L227.23,672.74 L227.63,672.18 L228.04,671.62 L228.44,671.07 L228.85,670.52 L229.27,669.97 L229.68,669.42 L230.10,668.87 L230.52,668.33 L230.94,667.79 L231.37,667.26 L231.80,666.72 L232.23,666.19 L232.67,665.67 L233.11,665.14 L233.55,664.62 L233.99,664.11 L234.44,663.59 L234.89,663.09 L235.35,662.58 L235.80,662.08 L236.27,661.58 L236.73,661.09 L237.20,660.60 L237.67,660.12 L238.14,659.64 L238.62,659.16 L239.10,658.69 L239.59,658.22 L240.07,657.76 L240.57,657.30 L241.06,656.85 L241.56,656.41 L242.06,655.97 L242.57,655.53 L243.08,655.10 L243.59,654.67 L244.11,654.26 L244.63,653.84 L245.15,653.43 L245.68,653.03 L246.21,652.64 L246.75,652.25 L247.29,651.86 L247.83,651.49 L248.38,651.12 L248.93,650.75 L249.49,650.39 L250.05,650.04 L250.61,649.70 L251.18,649.36 L251.75,649.03 L252.33,648.71 L252.91,648.39 L253.49,648.08 L254.08,647.78 L254.67,647.49 L255.27,647.20 L255.87,646.92 L256.48,646.65 L257.08,646.39 L257.70,646.13 L258.31,645.88 L258.93,645.64 L259.56,645.40 L260.18,645.18 L260.81,644.95 L261.44,644.74 L262.08,644.53 L262.72,644.33 L263.36,644.14 L264.00,643.95 L264.65,643.77 L265.30,643.60 L265.95,643.44 L266.61,643.28 L267.26,643.12 L267.92,642.98 L268.58,642.84 L269.25,642.71 L269.91,642.58 L270.58,642.46 L271.25,642.35 L271.92,642.25 L272.59,642.15 L273.26,642.05 L273.94,641.97 L274.61,641.89 L275.29,641.81 L275.97,641.75 L276.65,641.69 L277.33,641.63 L278.01,641.58 L278.69,641.54 L279.37,641.51 L280.05,641.48 L280.73,641.45 L281.42,641.43 L282.10,641.42 L282.79,641.41 L283.47,641.41 L284.15,641.41 L284.84,641.42 L285.52,641.42 L286.20,641.44 L286.89,641.45 L287.57,641.47 L288.25,641.48 L288.93,641.50 L289.61,641.52 L290.29,641.54 L290.97,641.56 L291.64,641.59 L292.32,641.61 L293.00,641.62 L293.67,641.64 L294.34,641.66 L295.01,641.67 L295.68,641.68 L296.35,641.69 L297.01,641.70 L297.68,641.70 L298.34,641.69 L299.00,641.68 L299.65,641.67 L300.31,641.65 L300.96,641.63 L301.61,641.60 L302.26,641.56 L302.90,641.51 L303.54,641.46 L304.18,641.40 L304.82,641.33 L305.45,641.26 L306.08,641.17 L306.71,641.08 L307.33,640.97 L307.95,640.86 L308.57,640.73 L309.18,640.59 L309.79,640.44 L310.39,640.28 L311.00,640.11 L311.59,639.93 L312.19,639.73 L312.78,639.52 L313.36,639.29 L313.94,639.05 L314.52,638.80 L315.09,638.53 L315.66,638.25 L316.22,637.96 L316.78,637.65 L317.34,637.34 L317.89,637.01 L318.44,636.67 L318.98,636.32 L319.52,635.97 L320.06,635.60 L320.59,635.23 L321.12,634.85 L321.65,634.46 L322.17,634.06 L322.69,633.65 L323.21,633.24 L323.73,632.83 L324.24,632.41 L324.74,631.98 L325.25,631.55 L325.75,631.12 L326.25,630.68 L326.75,630.24 L327.24,629.79 L327.73,629.35 L328.22,628.90 L328.71,628.46 L329.19,628.01 L329.67,627.56 L330.15,627.11 L330.63,626.67 L331.11,626.22 L331.58,625.77 L332.05,625.33 L332.52,624.88 L332.99,624.43 L333.46,623.99 L333.92,623.54 L334.38,623.08 L334.84,622.63 L335.30,622.17 L335.76,621.71 L336.22,621.25 L336.67,620.78 L337.13,620.31 L337.58,619.84 L338.03,619.36 L338.48,618.87 L338.93,618.38 L339.38,617.89 L339.83,617.38 L340.28,616.88 L340.73,616.36 L341.17,615.84 L341.62,615.31 L342.07,614.77 L342.51,614.23 L342.96,613.67 L343.40,613.11 L343.84,612.54 L344.29,611.95 L344.73,611.36 L345.18,610.76 L345.62,610.16 L346.07,609.54 L346.51,608.93 L346.96,608.30 L347.40,607.68 L347.85,607.05 L348.30,606.42 L348.75,605.79 L349.20,605.16 L349.65,604.54 L350.10,603.91 L350.55,603.30 L351.01,602.68 L351.46,602.07 L351.92,601.47 L352.38,600.88 L352.84,600.29 L353.30,599.72 L353.76,599.15 L354.23,598.60 L354.70,598.06 L355.17,597.54 L355.64,597.02 L356.12,596.53 L356.60,596.05 L357.08,595.59 L357.56,595.15 L358.04,594.73 L358.53,594.34 L359.02,593.96 L359.51,593.60 L360.00,593.27 L360.48,592.97 L360.97,592.69 L361.46,592.44 L361.94,592.22 L362.43,592.02 L362.91,591.86 L363.38,591.73 L363.86,591.63 L364.33,591.56 L364.79,591.53 L365.25,591.53 L365.71,591.57 L366.16,591.64 L366.61,591.75 L367.05,591.89 L367.48,592.07 L367.91,592.28 L368.33,592.52 L368.75,592.79 L369.16,593.08 L369.57,593.41 L369.98,593.75 L370.37,594.13 L370.77,594.52 L371.16,594.94 L371.54,595.38 L371.92,595.84 L372.29,596.32 L372.66,596.82 L373.02,597.33 L373.38,597.85 L373.74,598.39 L374.09,598.95 L374.43,599.51 L374.77,600.08 L375.11,600.67 L375.44,601.26 L375.77,601.86 L376.09,602.46 L376.41,603.07 L376.72,603.68 L377.03,604.29 L377.34,604.90 L377.64,605.52 L377.94,606.14 L378.23,606.76 L378.52,607.38 L378.81,608.01 L379.09,608.64 L379.36,609.27 L379.64,609.90 L379.91,610.53 L380.17,611.16 L380.44,611.80 L380.69,612.44 L380.95,613.08 L381.20,613.72 L381.45,614.36 L381.69,615.00 L381.93,615.64 L382.17,616.29 L382.40,616.94 L382.63,617.58 L382.86,618.23 L383.08,618.88 L383.30,619.53 L383.52,620.18 L383.73,620.83 L383.94,621.48 L384.15,622.14 L384.35,622.79 L384.55,623.44 L384.75,624.10 L384.94,624.75 L385.14,625.41 L385.32,626.06 L385.51,626.71 L385.69,627.37 L385.87,628.02 L386.05,628.68 L386.23,629.33 L386.40,629.99 L386.57,630.64 L386.74,631.30 L386.90,631.95 L387.07,632.61 L387.23,633.26 L387.38,633.92 L387.54,634.57 L387.69,635.23 L387.84,635.89 L387.99,636.54 L388.14,637.20 L388.28,637.85 L388.42,638.51 L388.56,639.16 L388.70,639.82 L388.83,640.47 L388.97,641.13 L389.10,641.79 L389.23,642.44 L389.35,643.10 L389.48,643.75 L389.60,644.41 L389.72,645.06 L389.84,645.72 L389.96,646.38 L390.08,647.03 L390.19,647.69 L390.30,648.35 L390.42,649.00 L390.52,649.66 L390.63,650.31 L390.74,650.97 L390.84,651.63 L390.95,652.28 L391.05,652.94 L391.15,653.60 L391.25,654.25 L391.35,654.91 L391.45,655.57 L391.54,656.22 L391.64,656.88 L391.73,657.54 L391.82,658.19 L391.92,658.85 L392.01,659.51 L392.10,660.16 L392.18,660.82 L392.27,661.48 L392.36,662.13 L392.44,662.79 L392.53,663.45 L392.61,664.11 L392.70,664.76 L392.78,665.42 L392.86,666.08 L392.94,666.73 L393.02,667.39 L393.10,668.05 L393.18,668.71 L393.26,669.36 L393.34,670.02 L393.42,670.68 L393.50,671.34 L393.57,671.99 L393.65,672.65 L393.73,673.31 L393.80,673.97 L393.88,674.63 L393.96,675.28 L394.03,675.94 L394.11,676.60 L394.18,677.26 L394.26,677.92 L394.33,678.57 L394.41,679.23 L394.49,679.89 L394.56,680.55 L394.64,681.21 L394.72,681.86 L394.79,682.52 L394.87,683.18 L394.95,683.84 L395.02,684.50 L395.10,685.16 L395.18,685.81 L395.26,686.47 L395.33,687.13 L395.41,687.79 L395.49,688.45 L395.57,689.11 L395.65,689.77 L395.73,690.42 L395.81,691.08 L395.89,691.74 L395.97,692.40 L396.05,693.06 L396.13,693.72 L396.21,694.38 L396.30,695.04 L396.38,695.69 L396.46,696.35 L396.54,697.01 L396.62,697.67 L396.70,698.33 L396.79,698.99 L396.87,699.65 L396.95,700.31 L397.04,700.97 L397.12,701.63 L397.20,702.29 L397.29,702.94 L397.37,703.60 L397.45,704.26 L397.54,704.92 L397.62,705.58 L397.71,706.24 L397.79,706.90 L397.88,707.56 L397.96,708.22 L398.05,708.88 L398.13,709.54 L398.22,710.20 L398.30,710.86 L398.39,711.52 L398.48,712.18 L398.56,712.84 L398.65,713.50 L398.73,714.16 L398.82,714.82 L398.91,715.48 L398.99,716.14 L399.08,716.80 L399.17,717.46 L399.25,718.12 L399.34,718.78 L399.43,719.44 L399.52,720.10 L399.60,720.76 L399.69,721.42 L399.78,722.08 L399.86,722.74 L399.95,723.40 L400.04,724.06 L400.13,724.72 L400.22,725.38 L400.30,726.04 L400.39,726.70 L400.48,727.36 L400.57,728.02 L400.66,728.68 L400.74,729.34 L400.83,730.00 L400.92,730.66 L401.01,731.32 L401.10,731.98 L401.18,732.64 L401.27,733.30 L401.36,733.96 L401.45,734.63 L401.54,735.29 L401.63,735.95 L401.71,736.61 L401.80,737.27 L401.89,737.93 L401.98,738.59 L402.07,739.25 L402.16,739.91 L402.24,740.57 L402.33,741.23 L402.42,741.89 L402.51,742.55 L402.60,743.22 L402.68,743.88 L402.77,744.54 L402.86,745.20 L402.95,745.86 L403.04,746.52 L403.12,747.18 L403.21,747.84 L403.30,748.50 L403.39,749.17 L403.48,749.83 L403.56,750.49 L403.65,751.15 L403.74,751.81 L403.83,752.47 L403.91,753.13 L404.00,753.79 L404.09,754.46 L404.17,755.12 L404.26,755.78 L404.35,756.44 L404.43,757.10 L404.52,757.76 L404.61,758.42 L404.69,759.09 L404.78,759.75 L404.87,760.41 L404.95,761.07 L405.04,761.73 L405.12,762.39 L405.21,763.06 L405.29,763.72 L405.38,764.38 L405.47,765.04 L405.55,765.70 L405.64,766.36 L405.72,767.03 L405.80,767.69 L405.89,768.35 L405.97,769.01 L406.06,769.67 L406.14,770.33 L406.22,771.00 L406.31,771.66 L406.39,772.32 L406.47,772.98 L406.56,773.64 L406.64,774.31 L406.72,774.97 L406.81,775.63 L406.89,776.29 L406.97,776.95 L407.05,777.62 L407.13,778.28 L407.21,778.94 L407.29,779.60 L407.38,780.26 L407.46,780.93 L407.54,781.59 L407.62,782.25 L407.70,782.91 L407.78,783.57 L407.86,784.24 L407.93,784.90 L408.01,785.56 L408.09,786.22 L408.17,786.89 L408.25,787.55 L408.33,788.21 L408.40,788.87 L408.48,789.53 L408.56,790.20 L408.64,790.86 L408.71,791.52 L408.79,792.18 L408.86,792.85 L408.94,793.51 L409.01,794.17 L409.09,794.83 L409.16,795.50 L409.24,796.16 L409.31,796.82 L409.39,797.48 L409.46,798.14 L409.53,798.81 L409.61,799.47 L409.68,800.13 L409.75,800.79 L409.82,801.46 L409.89,802.12 L409.96,802.78 L410.04,803.45 L410.11,804.11 L410.18,804.77 L410.25,805.43 L410.31,806.10 L410.38,806.76 L410.45,807.42 L410.52,808.08 L410.59,808.75 L410.66,809.41 L410.72,810.07 L410.79,810.73 L410.86,811.40 L410.92,812.06 L410.99,812.72 L411.05,813.38 L411.12,814.05 L411.18,814.71 L411.25,815.37 L411.31,816.04 L411.37,816.70 L411.43,817.36 L411.50,818.02 L411.56,818.69 L411.62,819.35 L411.68,820.01 L411.74,820.67 L411.80,821.34 L411.86,822.00 L411.92,822.66 L411.98,823.33 L412.04,823.99 L412.09,824.65 L412.15,825.31 L412.21,825.98 L412.27,826.64 L412.32,827.30 L412.38,827.97 L412.43,828.63 L412.49,829.29 L412.54,829.95 L412.59,830.62 L412.65,831.28 L412.70,831.94 L412.75,832.61 L412.80,833.27 L412.85,833.93 L412.90,834.59 L412.95,835.26 L413.00,835.92" stroke="#9c9c9c"/>
<path d="M50.39,830.33 L51.07,830.28 L51.75,830.22 L52.42,830.15 L53.10,830.08 L53.77,830.01 L54.45,829.94 L55.12,829.87 L55.79,829.79 L56.46,829.70 L57.13,829.62 L57.80,829.53 L58.47,829.44 L59.14,829.35 L59.81,829.25 L60.47,829.15 L61.14,829.04 L61.81,828.94 L62.47,828.83 L63.13,828.72 L63.80,828.60 L64.46,828.48 L65.12,828.36 L65.78,828.24 L66.44,828.11 L67.10,827.98 L67.75,827.85 L68.41,827.72 L69.07,827.58 L69.72,827.44 L70.37,827.29 L71.03,827.15 L71.68,827.00 L72.33,826.84 L72.98,826.69 L73.63,826.53 L74.28,826.37 L74.93,826.21 L75.57,826.04 L76.22,825.87 L76.86,825.70 L77.51,825.52 L78.15,825.35 L78.79,825.17 L79.43,824.98 L80.07,824.80 L80.71,824.61 L81.35,824.42 L81.99,824.22 L82.62,824.03 L83.26,823.83 L83.89,823.62 L84.53,823.42 L85.16,823.21 L85.79,823.00 L86.42,822.79 L87.05,822.57 L87.68,822.35 L88.30,822.13 L88.93,821.91 L89.55,821.68 L90.18,821.45 L90.80,821.22 L91.42,820.99 L92.04,820.75 L92.66,820.51 L93.28,820.27 L93.90,820.03 L94.51,819.78 L95.13,819.53 L95.74,819.28 L96.35,819.02 L96.97,818.77 L97.58,818.51 L98.19,818.24 L98.79,817.98 L99.40,817.71 L100.01,817.44 L100.61,817.17 L101.21,816.89 L101.82,816.62 L102.42,816.34 L103.02,816.05 L103.62,815.77 L104.21,815.48 L104.81,815.19 L105.41,814.90 L106.00,814.61 L106.59,814.31 L107.18,814.01 L107.78,813.71 L108.36,813.40 L108.95,813.10 L109.54,812.79 L110.12,812.48 L110.71,812.16 L111.29,811.85 L111.87,811.53 L112.45,811.21 L113.03,810.89 L113.61,810.56 L114.19,810.23 L114.76,809.90 L115.33,809.57 L115.91,809.23 L116.48,808.90 L117.05,808.56 L117.62,808.22 L118.18,807.87 L118.75,807.53 L119.31,807.18 L119.88,806.83 L120.44,806.48 L121.00,806.12 L121.56,805.76 L122.12,805.40 L122.67,805.04 L123.23,804.68 L123.78,804.31 L124.33,803.94 L124.88,803.57 L125.43,803.20 L125.98,802.82 L126.53,802.45 L127.07,802.07 L127.61,801.69 L128.16,801.30 L128.70,800.92 L129.24,800.53 L129.77,800.14 L130.31,799.75 L130.85,799.35 L131.38,798.96 L131.91,798.56 L132.44,798.16 L132.97,797.76 L133.50,797.35 L134.02,796.95 L134.55,796.54 L135.07,796.13 L135.59,795.72 L136.11,795.30 L136.63,794.88 L137.15,794.47 L137.66,794.04 L138.17,793.62 L138.69,793.20 L139.20,792.77 L139.71,792.34 L140.21,791.91 L140.72,791.48 L141.22,791.04 L141.73,790.61 L142.23,790.17 L142.73,789.73 L143.22,789.29 L143.72,788.84 L144.21,788.40 L144.71,787.95 L145.20,787.50 L145.69,787.05 L146.18,786.59 L146.66,786.14 L147.15,785.68 L147.63,785.22 L148.11,784.76 L148.59,784.30 L149.07,783.83 L149.55,783.37 L150.02,782.90 L150.49,782.43 L150.96,781.96 L151.43,781.48 L151.90,781.01 L152.37,780.53 L152.83,780.05 L153.29,779.57 L153.76,779.09 L154.22,778.61 L154.67,778.12 L155.13,777.63 L155.58,777.14 L156.04,776.65 L156.49,776.16 L156.94,775.67 L157.39,775.17 L157.83,774.67 L158.28,774.18 L158.72,773.68 L159.16,773.17 L159.60,772.67 L160.04,772.17 L160.48,771.66 L160.91,771.15 L161.34,770.64 L161.78,770.13 L162.21,769.62 L162.64,769.11 L163.06,768.59 L163.49,768.07 L163.91,767.56 L164.33,767.04 L164.76,766.52 L165.17,766.00 L165.59,765.47 L166.01,764.95 L166.42,764.42 L166.84,763.89 L167.25,763.37 L167.66,762.84 L168.07,762.30 L168.47,761.77 L168.88,761.24 L169.28,760.70 L169.69,760.17 L170.09,759.63 L170.49,759.09 L170.88,758.55 L171.28,758.01 L171.68,757.47 L172.07,756.93 L172.46,756.39 L172.85,755.84 L173.24,755.29 L173.63,754.75 L174.02,754.20 L174.40,753.65 L174.78,753.10 L175.16,752.55 L175.54,752.00 L175.92,751.44 L176.30,750.89 L176.68,750.33 L177.05,749.78 L177.42,749.22 L177.79,748.66 L178.16,748.10 L178.53,747.54 L178.90,746.98 L179.26,746.42 L179.62,745.86 L179.99,745.30 L180.35,744.73 L180.71,744.17 L181.06,743.60 L181.42,743.04 L181.77,742.47 L182.13,741.90 L182.48,741.33 L182.83,740.76 L183.17,740.19 L183.52,739.62 L183.87,739.05 L184.21,738.48 L184.55,737.91 L184.89,737.34 L185.23,736.76 L185.57,736.19 L185.91,735.61 L186.24,735.04 L186.57,734.46 L186.90,733.88 L187.23,733.31 L187.56,732.73 L187.89,732.15 L188.21,731.57 L188.54,730.99 L188.86,730.41 L189.18,729.83 L189.50,729.25 L189.82,728.67 L190.13,728.09 L190.45,727.51 L190.76,726.93 L191.07,726.34 L191.38,725.76 L191.69,725.18 L192.00,724.59 L192.31,724.01 L192.61,723.42 L192.91,722.84 L193.21,722.26 L193.51,721.67 L193.81,721.08 L194.11,720.50 L194.40,719.91 L194.69,719.33 L194.99,718.74 L195.28,718.16 L195.57,717.57 L195.86,716.98 L196.14,716.40 L196.43,715.81 L196.72,715.22 L197.00,714.63 L197.29,714.05 L197.57,713.46 L197.85,712.87 L198.14,712.28 L198.42,711.70 L198.70,711.11 L198.98,710.52 L199.26,709.94 L199.55,709.35 L199.83,708.76 L200.11,708.17 L200.39,707.59 L200.67,707.00 L200.96,706.41 L201.24,705.83 L201.52,705.24 L201.81,704.65 L202.09,704.07 L202.38,703.48 L202.67,702.89 L202.95,702.31 L203.24,701.72 L203.53,701.14 L203.82,700.55 L204.12,699.97 L204.41,699.38 L204.70,698.80 L205.00,698.21 L205.30,697.63 L205.60,697.04 L205.90,696.46 L206.20,695.88 L206.51,695.30 L206.82,694.71 L207.12,694.13 L207.44,693.55 L207.75,692.97 L208.07,692.39 L208.38,691.81 L208.70,691.23 L209.03,690.65 L209.35,690.07 L209.68,689.49 L210.01,688.92 L210.35,688.34 L210.68,687.76 L211.02,687.19 L211.37,686.61 L211.71,686.04 L212.06,685.46 L212.42,684.89 L212.77,684.32 L213.13,683.74 L213.49,683.17 L213.86,682.60 L214.23,682.03 L214.61,681.46 L214.99,680.89 L215.37,680.32 L215.75,679.76 L216.14,679.19 L216.54,678.62 L216.94,678.06 L217.34,677.50 L217.74,676.94 L218.15,676.38 L218.56,675.82 L218.98,675.26 L219.40,674.70 L219.82,674.15 L220.25,673.60 L220.68,673.05 L221.12,672.50 L221.56,671.96 L222.00,671.42 L222.44,670.88 L222.89,670.34 L223.34,669.80 L223.80,669.27 L224.25,668.74 L224.72,668.22 L225.18,667.69 L225.65,667.17 L226.12,666.66 L226.60,666.14 L227.07,665.63 L227.56,665.13 L228.04,664.62 L228.53,664.13 L229.02,663.63 L229.51,663.14 L230.01,662.65 L230.51,662.17 L231.01,661.69 L231.51,661.21 L232.02,660.74 L232.53,660.28 L233.05,659.82 L233.56,659.36 L234.08,658.91 L234.61,658.46 L235.13,658.02 L235.66,657.59 L236.19,657.15 L236.72,656.73 L237.26,656.31 L237.80,655.89 L238.34,655.48 L238.88,655.08 L239.43,654.68 L239.98,654.29 L240.53,653.91 L241.08,653.53 L241.64,653.15 L242.20,652.79 L242.76,652.42 L243.32,652.07 L243.89,651.72 L244.46,651.38 L245.03,651.05 L245.60,650.72 L246.17,650.40 L246.75,650.09 L247.33,649.78 L247.91,649.48 L248.49,649.19 L249.08,648.91 L249.67,648.63 L250.26,648.36 L250.85,648.10 L251.44,647.85 L252.04,647.60 L252.63,647.36 L253.23,647.13 L253.84,646.90 L254.44,646.69 L255.04,646.47 L255.65,646.27 L256.26,646.07 L256.87,645.88 L257.48,645.69 L258.09,645.51 L258.71,645.34 L259.32,645.17 L259.94,645.01 L260.56,644.85 L261.18,644.70 L261.81,644.55 L262.43,644.41 L263.06,644.28 L263.68,644.15 L264.31,644.03 L264.94,643.91 L265.57,643.79 L266.21,643.68 L266.84,643.58 L267.48,643.48 L268.11,643.38 L268.75,643.29 L269.39,643.20 L270.03,643.12 L270.67,643.04 L271.31,642.96 L271.96,642.89 L272.60,642.82 L273.25,642.76 L273.89,642.70 L274.54,642.64 L275.19,642.59 L275.84,642.54 L276.49,642.49 L277.14,642.44 L277.79,642.40 L278.45,642.36 L279.10,642.33 L279.75,642.29 L280.41,642.26 L281.06,642.23 L281.72,642.20 L282.38,642.18 L283.04,642.15 L283.69,642.13 L284.35,642.11 L285.01,642.09 L285.67,642.08 L286.33,642.06 L286.99,642.05 L287.66,642.04 L288.32,642.02 L288.98,642.01 L289.64,642.00 L290.31,642.00 L290.97,641.99 L291.63,641.98 L292.30,641.97 L292.96,641.97 L293.62,641.96 L294.29,641.95 L294.95,641.95 L295.62,641.94 L296.28,641.93 L296.95,641.93 L297.61,641.92 L298.28,641.91 L298.94,641.90 L299.61,641.90 L300.27,641.89 L300.93,641.88 L301.60,641.86 L302.26,641.85 L302.93,641.84 L303.59,641.82 L304.25,641.80 L304.92,641.79 L305.58,641.77 L306.24,641.74 L306.91,641.72 L307.57,641.69 L308.23,641.67 L308.89,641.64 L309.55,641.60 L310.21,641.57 L310.87,641.53 L311.53,641.49 L312.19,641.45 L312.85,641.40 L313.51,641.35 L314.16,641.30 L314.82,641.25 L315.47,641.19 L316.13,641.13 L316.78,641.06 L317.44,640.99 L318.09,640.92 L318.74,640.84 L319.39,640.75 L320.04,640.67 L320.69,640.58 L321.34,640.48 L321.99,640.38 L322.63,640.27 L323.28,640.16 L323.92,640.04 L324.57,639.91 L325.21,639.78 L325.85,639.65 L326.49,639.51 L327.13,639.36 L327.77,639.20 L328.40,639.04 L329.04,638.87 L329.68,638.69 L330.31,638.51 L330.94,638.32 L331.57,638.12 L332.20,637.91 L332.83,637.70 L333.46,637.48 L334.08,637.25 L334.71,637.01 L335.33,636.76 L335.95,636.50 L336.57,636.24 L337.19,635.96 L337.81,635.68 L338.43,635.38 L339.04,635.08 L339.65,634.77 L340.26,634.44 L340.87,634.11 L341.48,633.77 L342.09,633.42 L342.69,633.05 L343.30,632.68 L343.90,632.29 L344.50,631.89 L345.09,631.48 L345.69,631.07 L346.29,630.64 L346.88,630.20 L347.47,629.76 L348.06,629.30 L348.64,628.85 L349.23,628.38 L349.81,627.92 L350.39,627.45 L350.97,626.97 L351.55,626.50 L352.12,626.02 L352.70,625.55 L353.27,625.07 L353.84,624.60 L354.40,624.13 L354.97,623.67 L355.53,623.20 L356.09,622.75 L356.64,622.30 L357.20,621.85 L357.75,621.42 L358.30,620.99 L358.85,620.58 L359.39,620.17 L359.93,619.78 L360.47,619.39 L361.01,619.03 L361.55,618.67 L362.08,618.33 L362.61,618.01 L363.13,617.70 L363.66,617.41 L364.18,617.14 L364.70,616.89 L365.21,616.66 L365.72,616.45 L366.23,616.26 L366.74,616.10 L367.25,615.95 L367.75,615.84 L368.24,615.75 L368.74,615.68 L369.23,615.64 L369.72,615.63 L370.21,615.65 L370.69,615.70 L371.17,615.78 L371.65,615.88 L372.12,616.01 L372.59,616.17 L373.06,616.35 L373.52,616.55 L373.98,616.78 L374.44,617.03 L374.89,617.30 L375.35,617.60 L375.79,617.91 L376.24,618.25 L376.68,618.60 L377.12,618.98 L377.56,619.37 L377.99,619.77 L378.42,620.20 L378.85,620.64 L379.27,621.09 L379.69,621.56 L380.11,622.04 L380.52,622.53 L380.93,623.04 L381.34,623.55 L381.74,624.08 L382.14,624.62 L382.54,625.16 L382.94,625.71 L383.33,626.27 L383.72,626.84 L384.10,627.41 L384.49,627.99 L384.87,628.58 L385.24,629.16 L385.62,629.75 L385.99,630.34 L386.35,630.94 L386.72,631.54 L387.08,632.14 L387.43,632.74 L387.79,633.34 L388.14,633.95 L388.49,634.56 L388.83,635.17 L389.17,635.79 L389.51,636.40 L389.85,637.02 L390.18,637.64 L390.51,638.26 L390.83,638.88 L391.16,639.50 L391.48,640.13 L391.79,640.76 L392.10,641.38 L392.41,642.01 L392.72,642.64 L393.02,643.27 L393.33,643.90 L393.62,644.54 L393.92,645.17 L394.21,645.80 L394.50,646.44 L394.78,647.07 L395.06,647.70 L395.34,648.34 L395.61,648.97 L395.89,649.61 L396.15,650.24 L396.42,650.88 L396.68,651.52 L396.94,652.15 L397.20,652.79 L397.45,653.42 L397.70,654.06 L397.95,654.70 L398.20,655.33 L398.44,655.97 L398.68,656.61 L398.92,657.25 L399.15,657.88 L399.38,658.52 L399.61,659.16 L399.84,659.80 L400.06,660.44 L400.28,661.08 L400.50,661.72 L400.71,662.36 L400.93,662.99 L401.14,663.63 L401.35,664.27 L401.55,664.91 L401.76,665.55 L401.96,666.20 L402.15,666.84 L402.35,667.48 L402.54,668.12 L402.74,668.76 L402.93,669.40 L403.11,670.04 L403.30,670.68 L403.48,671.33 L403.66,671.97 L403.84,672.61 L404.01,673.25 L404.19,673.90 L404.36,674.54 L404.53,675.18 L404.70,675.83 L404.87,676.47 L405.03,677.11 L405.19,677.76 L405.35,678.40 L405.51,679.05 L405.67,679.69 L405.82,680.34 L405.98,680.98 L406.13,681.63 L406.28,682.27 L406.43,682.92 L406.57,683.56 L406.72,684.21 L406.86,684.85 L407.00,685.50 L407.14,686.15 L407.28,686.79 L407.42,687.44 L407.55,688.09 L407.69,688.73 L407.82,689.38 L407.95,690.03 L408.08,690.68 L408.21,691.32 L408.34,691.97 L408.47,692.62 L408.59,693.27 L408.71,693.92 L408.84,694.57 L408.96,695.21 L409.08,695.86 L409.20,696.51 L409.32,697.16 L409.43,697.81 L409.55,698.46 L409.66,699.11 L409.78,699.76 L409.89,700.41 L410.00,701.06 L410.11,701.71 L410.23,702.36 L410.33,703.01 L410.44,703.66 L410.55,704.31 L410.66,704.96 L410.77,705.61 L410.87,706.27 L410.98,706.92 L411.08,707.57 L411.18,708.22 L411.29,708.87 L411.39,709.53 L411.49,710.18 L411.59,710.83 L411.70,711.48 L411.80,712.13 L411.90,712.79 L412.00,713.44 L412.10,714.09 L412.20,714.75 L412.29,715.40 L412.39,716.05 L412.49,716.71 L412.59,717.36 L412.69,718.01 L412.78,718.67 L412.88,719.32 L412.98,719.98 L413.08,720.63 L413.17,721.29 L413.27,721.94 L413.37,722.60 L413.47,723.25 L413.56,723.90 L413.66,724.56 L413.76,725.22 L413.85,725.87 L413.95,726.53 L414.05,727.18 L414.14,727.84 L414.24,728.49 L414.34,729.15 L414.43,729.81 L414.53,730.46 L414.63,731.12 L414.72,731.77 L414.82,732.43 L414.91,733.09 L415.01,733.74 L415.11,734.40 L415.20,735.06 L415.30,735.72 L415.39,736.37 L415.49,737.03 L415.58,737.69 L415.68,738.34 L415.77,739.00 L415.87,739.66 L415.96,740.32 L416.06,740.98 L416.15,741.63 L416.25,742.29 L416.34,742.95 L416.43,743.61 L416.53,744.27 L416.62,744.93 L416.72,745.58 L416.81,746.24 L416.90,746.90 L417.00,747.56 L417.09,748.22 L417.18,748.88 L417.28,749.54 L417.37,750.20 L417.46,750.86 L417.56,751.52 L417.65,752.17 L417.74,752.83 L417.83,753.49 L417.93,754.15 L418.02,754.81 L418.11,755.47 L418.20,756.13 L418.29,756.79 L418.38,757.45 L418.48,758.11 L418.57,758.77 L418.66,759.44 L418.75,760.10 L418.84,760.76 L418.93,761.42 L419.02,762.08 L419.11,762.74 L419.20,763.40 L419.29,764.06 L419.38,764.72 L419.47,765.38 L419.56,766.04 L419.65,766.70 L419.74,767.37 L419.82,768.03 L419.91,768.69 L420.00,769.35 L420.09,770.01 L420.18,770.67 L420.26,771.33 L420.35,772.00 L420.44,772.66 L420.53,773.32 L420.61,773.98 L420.70,774.64 L420.79,775.31 L420.87,775.97 L420.96,776.63 L421.04,777.29 L421.13,777.95 L421.22,778.62 L421.30,779.28 L421.39,779.94 L421.47,780.60 L421.56,781.27 L421.64,781.93 L421.72,782.59 L421.81,783.25 L421.89,783.92 L421.97,784.58 L422.06,785.24 L422.14,785.90 L422.22,786.57 L422.31,787.23 L422.39,787.89 L422.47,788.56 L422.55,789.22 L422.63,789.88 L422.71,790.54 L422.80,791.21 L422.88,791.87 L422.96,792.53 L423.04,793.20 L423.12,793.86 L423.20,794.52 L423.28,795.19 L423.36,795.85 L423.43,796.51 L423.51,797.18 L423.59,797.84 L423.67,798.50 L423.75,799.17 L423.83,799.83 L423.90,800.49 L423.98,801.16 L424.06,801.82 L424.13,802.48 L424.21,803.15 L424.29,803.81 L424.36,804.47 L424.44,805.14 L424.51,805.80 L424.59,806.47 L424.66,807.13 L424.74,807.79 L424.81,808.46 L424.88,809.12 L424.96,809.78 L425.03,810.45 L425.10,811.11 L425.17,811.78 L425.25,812.44 L425.32,813.10 L425.39,813.77 L425.46,814.43 L425.53,815.09 L425.60,815.76 L425.67,816.42 L425.74,817.09 L425.81,817.75 L425.88,818.41 L425.95,819.08 L426.02,819.74 L426.09,820.40 L426.16,821.07 L426.22,821.73 L426.29,822.40 L426.36,823.06 L426.42,823.72 L426.49,824.39 L426.56,825.05 L426.62,825.71 L426.69,826.38 L426.75,827.04 L426.82,827.70 L426.88,828.37 L426.95,829.03 L427.01,829.70 L427.07,830.36 L427.13,831.02 L427.20,831.69 L427.26,832.35 L427.32,833.01 L427.38,833.68 L427.44,834.34 L427.50,835.00 L427.56,835.67 L427.62,836.33 L427.68,836.99 L427.74,837.66 L427.80,838.32 L427.86,838.98 L427.92,839.65 L427.98,840.31 L428.03,840.97 L428.09,841.64 L428.15,842.30 L428.20,842.96 L428.26,843.63 L428.31,844.29 L428.37,844.95 L428.42,845.61 L428.48,846.28 L428.53,846.94 L428.58,847.60 L428.64,848.27 L428.69,848.93 L428.74,849.59 L428.79,850.25" stroke="#686868"/>
<path d="M50.39,827.95 L51.07,827.88 L51.75,827.81 L52.44,827.73 L53.12,827.65 L53.80,827.57 L54.48,827.48 L55.15,827.39 L55.83,827.30 L56.50,827.20 L57.18,827.09 L57.85,826.99 L58.52,826.88 L59.19,826.76 L59.85,826.65 L60.52,826.53 L61.19,826.40 L61.85,826.27 L62.51,826.14 L63.17,826.00 L63.83,825.86 L64.49,825.72 L65.15,825.58 L65.80,825.43 L66.46,825.27 L67.11,825.11 L67.76,824.95 L68.41,824.79 L69.06,824.62 L69.71,824.45 L70.36,824.28 L71.00,824.10 L71.64,823.92 L72.29,823.73 L72.93,823.54 L73.57,823.35 L74.20,823.16 L74.84,822.96 L75.48,822.75 L76.11,822.55 L76.74,822.34 L77.37,822.13 L78.00,821.91 L78.63,821.70 L79.26,821.47 L79.88,821.25 L80.51,821.02 L81.13,820.79 L81.75,820.55 L82.37,820.32 L82.99,820.08 L83.60,819.83 L84.22,819.58 L84.83,819.33 L85.44,819.08 L86.05,818.82 L86.66,818.56 L87.27,818.30 L87.88,818.04 L88.48,817.77 L89.09,817.50 L89.69,817.22 L90.29,816.94 L90.89,816.66 L91.48,816.38 L92.08,816.09 L92.67,815.80 L93.27,815.51 L93.86,815.21 L94.45,814.92 L95.04,814.61 L95.62,814.31 L96.21,814.00 L96.79,813.69 L97.38,813.38 L97.96,813.06 L98.54,812.75 L99.11,812.43 L99.69,812.10 L100.27,811.78 L100.84,811.45 L101.41,811.11 L101.98,810.78 L102.55,810.44 L103.12,810.10 L103.68,809.76 L104.25,809.41 L104.81,809.07 L105.37,808.72 L105.93,808.36 L106.49,808.01 L107.04,807.65 L107.60,807.29 L108.15,806.93 L108.70,806.56 L109.25,806.19 L109.80,805.82 L110.35,805.45 L110.89,805.07 L111.44,804.69 L111.98,804.31 L112.52,803.93 L113.06,803.54 L113.59,803.16 L114.13,802.77 L114.66,802.37 L115.20,801.98 L115.73,801.58 L116.26,801.18 L116.78,800.78 L117.31,800.38 L117.83,799.97 L118.36,799.56 L118.88,799.15 L119.40,798.74 L119.91,798.32 L120.43,797.90 L120.94,797.48 L121.46,797.06 L121.97,796.64 L122.48,796.21 L122.98,795.78 L123.49,795.35 L123.99,794.92 L124.50,794.49 L125.00,794.05 L125.50,793.61 L126.00,793.17 L126.49,792.73 L126.99,792.28 L127.48,791.84 L127.97,791.39 L128.46,790.94 L128.95,790.48 L129.43,790.03 L129.92,789.57 L130.40,789.12 L130.88,788.66 L131.36,788.19 L131.83,787.73 L132.31,787.26 L132.78,786.80 L133.26,786.33 L133.73,785.86 L134.19,785.38 L134.66,784.91 L135.13,784.43 L135.59,783.95 L136.05,783.47 L136.51,782.99 L136.97,782.51 L137.42,782.02 L137.88,781.54 L138.33,781.05 L138.78,780.56 L139.23,780.07 L139.68,779.58 L140.12,779.08 L140.57,778.58 L141.01,778.09 L141.45,777.59 L141.89,777.09 L142.33,776.58 L142.76,776.08 L143.19,775.58 L143.63,775.07 L144.06,774.56 L144.48,774.05 L144.91,773.54 L145.33,773.03 L145.75,772.51 L146.18,772.00 L146.59,771.48 L147.01,770.96 L147.43,770.44 L147.84,769.92 L148.25,769.40 L148.66,768.88 L149.07,768.35 L149.47,767.83 L149.88,767.30 L150.28,766.77 L150.68,766.24 L151.08,765.71 L151.47,765.18 L151.87,764.65 L152.26,764.11 L152.65,763.58 L153.04,763.04 L153.43,762.50 L153.81,761.96 L154.20,761.43 L154.58,760.88 L154.96,760.34 L155.33,759.80 L155.71,759.26 L156.08,758.71 L156.46,758.16 L156.83,757.62 L157.20,757.07 L157.57,756.52 L157.93,755.97 L158.30,755.42 L158.66,754.87 L159.03,754.32 L159.39,753.76 L159.75,753.21 L160.11,752.65 L160.47,752.10 L160.82,751.54 L161.18,750.98 L161.54,750.43 L161.89,749.87 L162.25,749.31 L162.60,748.75 L162.96,748.19 L163.31,747.62 L163.66,747.06 L164.01,746.50 L164.37,745.94 L164.72,745.37 L165.07,744.81 L165.42,744.24 L165.77,743.67 L166.12,743.11 L166.47,742.54 L166.82,741.97 L167.17,741.40 L167.53,740.83 L167.88,740.26 L168.23,739.69 L168.58,739.12 L168.93,738.55 L169.28,737.98 L169.64,737.41 L169.99,736.84 L170.34,736.26 L170.69,735.69 L171.04,735.12 L171.39,734.54 L171.74,733.97 L172.09,733.39 L172.44,732.82 L172.79,732.24 L173.14,731.67 L173.49,731.09 L173.84,730.52 L174.19,729.94 L174.54,729.37 L174.88,728.79 L175.23,728.21 L175.57,727.64 L175.92,727.06 L176.26,726.48 L176.61,725.90 L176.95,725.33 L177.29,724.75 L177.64,724.17 L177.98,723.59 L178.32,723.02 L178.66,722.44 L178.99,721.86 L179.33,721.28 L179.67,720.70 L180.00,720.13 L180.34,719.55 L180.67,718.97 L181.00,718.39 L181.33,717.82 L181.66,717.24 L181.99,716.66 L182.32,716.08 L182.65,715.51 L182.98,714.93 L183.31,714.35 L183.63,713.78 L183.96,713.20 L184.29,712.62 L184.61,712.05 L184.94,711.47 L185.27,710.90 L185.59,710.32 L185.92,709.75 L186.24,709.17 L186.57,708.60 L186.90,708.03 L187.22,707.45 L187.55,706.88 L187.88,706.31 L188.20,705.73 L188.53,705.16 L188.86,704.59 L189.19,704.02 L189.52,703.45 L189.85,702.88 L190.18,702.31 L190.51,701.74 L190.84,701.17 L191.17,700.61 L191.51,700.04 L191.84,699.47 L192.18,698.90 L192.52,698.34 L192.86,697.77 L193.20,697.21 L193.54,696.65 L193.88,696.08 L194.22,695.52 L194.57,694.96 L194.92,694.40 L195.26,693.84 L195.61,693.28 L195.97,692.72 L196.32,692.16 L196.67,691.60 L197.03,691.05 L197.39,690.49 L197.75,689.94 L198.12,689.38 L198.48,688.83 L198.85,688.28 L199.22,687.73 L199.59,687.18 L199.96,686.63 L200.34,686.08 L200.72,685.53 L201.10,684.98 L201.49,684.44 L201.87,683.89 L202.26,683.35 L202.66,682.81 L203.05,682.27 L203.45,681.72 L203.85,681.19 L204.25,680.65 L204.66,680.11 L205.07,679.57 L205.48,679.04 L205.90,678.51 L206.32,677.97 L206.74,677.44 L207.16,676.91 L207.59,676.39 L208.02,675.86 L208.45,675.34 L208.89,674.82 L209.32,674.29 L209.76,673.78 L210.21,673.26 L210.65,672.75 L211.10,672.23 L211.56,671.72 L212.01,671.21 L212.47,670.71 L212.93,670.21 L213.39,669.70 L213.85,669.21 L214.32,668.71 L214.79,668.22 L215.27,667.73 L215.74,667.24 L216.22,666.75 L216.70,666.27 L217.19,665.79 L217.67,665.31 L218.16,664.84 L218.65,664.37 L219.14,663.90 L219.64,663.44 L220.14,662.98 L220.64,662.52 L221.14,662.06 L221.65,661.61 L222.16,661.17 L222.67,660.72 L223.18,660.28 L223.70,659.85 L224.22,659.41 L224.74,658.98 L225.26,658.56 L225.79,658.14 L226.31,657.72 L226.84,657.31 L227.38,656.90 L227.91,656.49 L228.45,656.09 L228.99,655.70 L229.53,655.30 L230.07,654.92 L230.62,654.53 L231.17,654.15 L231.72,653.78 L232.27,653.41 L232.83,653.05 L233.38,652.69 L233.94,652.33 L234.50,651.98 L235.07,651.64 L235.63,651.30 L236.20,650.96 L236.77,650.63 L237.34,650.31 L237.92,649.99 L238.49,649.67 L239.07,649.37 L239.65,649.06 L240.23,648.77 L240.82,648.47 L241.40,648.19 L241.99,647.91 L242.58,647.63 L243.17,647.36 L243.77,647.10 L244.36,646.84 L244.96,646.59 L245.56,646.35 L246.16,646.11 L246.77,645.87 L247.37,645.65 L247.98,645.43 L248.59,645.21 L249.20,645.01 L249.81,644.80 L250.43,644.61 L251.04,644.42 L251.66,644.24 L252.28,644.07 L252.90,643.90 L253.53,643.74 L254.15,643.59 L254.78,643.44 L255.41,643.30 L256.04,643.16 L256.67,643.04 L257.31,642.92 L257.94,642.80 L258.58,642.69 L259.22,642.59 L259.86,642.49 L260.50,642.40 L261.14,642.32 L261.78,642.24 L262.43,642.16 L263.08,642.09 L263.73,642.03 L264.38,641.97 L265.03,641.92 L265.68,641.87 L266.33,641.82 L266.99,641.78 L267.65,641.74 L268.30,641.71 L268.96,641.69 L269.62,641.66 L270.28,641.64 L270.94,641.63 L271.61,641.61 L272.27,641.61 L272.94,641.60 L273.60,641.60 L274.27,641.60 L274.94,641.61 L275.61,641.61 L276.28,641.62 L276.95,641.64 L277.62,641.65 L278.30,641.67 L278.97,641.69 L279.64,641.71 L280.32,641.74 L281.00,641.77 L281.67,641.79 L282.35,641.83 L283.03,641.86 L283.71,641.89 L284.39,641.93 L285.07,641.96 L285.75,642.00 L286.43,642.04 L287.11,642.08 L287.79,642.12 L288.48,642.16 L289.16,642.20 L289.84,642.25 L290.53,642.29 L291.21,642.33 L291.90,642.37 L292.58,642.42 L293.27,642.46 L293.95,642.50 L294.64,642.55 L295.33,642.59 L296.01,642.63 L296.70,642.67 L297.39,642.71 L298.07,642.75 L298.76,642.78 L299.45,642.82 L300.14,642.85 L300.82,642.89 L301.51,642.92 L302.20,642.95 L302.89,642.98 L303.58,643.00 L304.26,643.03 L304.95,643.05 L305.64,643.07 L306.33,643.09 L307.01,643.10 L307.70,643.11 L308.39,643.12 L309.07,643.13 L309.76,643.13 L310.45,643.13 L311.13,643.13 L311.82,643.12 L312.50,643.12 L313.19,643.10 L313.87,643.08 L314.56,643.06 L315.24,643.04 L315.92,643.01 L316.61,642.98 L317.29,642.94 L317.97,642.90 L318.65,642.86 L319.33,642.81 L320.01,642.76 L320.69,642.71 L321.37,642.66 L322.05,642.60 L322.72,642.54 L323.40,642.47 L324.08,642.41 L324.75,642.34 L325.43,642.26 L326.10,642.19 L326.77,642.11 L327.44,642.03 L328.12,641.95 L328.79,641.87 L329.45,641.78 L330.12,641.70 L330.79,641.61 L331.46,641.52 L332.12,641.43 L332.78,641.33 L333.45,641.24 L334.11,641.14 L334.77,641.04 L335.43,640.94 L336.09,640.84 L336.74,640.74 L337.40,640.64 L338.06,640.54 L338.71,640.43 L339.36,640.33 L340.01,640.23 L340.66,640.12 L341.31,640.01 L341.96,639.91 L342.60,639.80 L343.25,639.70 L343.89,639.59 L344.53,639.48 L345.17,639.38 L345.81,639.27 L346.44,639.17 L347.08,639.06 L347.71,638.96 L348.34,638.85 L348.97,638.75 L349.60,638.65 L350.23,638.55 L350.85,638.45 L351.47,638.35 L352.10,638.25 L352.71,638.15 L353.33,638.06 L353.95,637.96 L354.56,637.87 L355.17,637.78 L355.78,637.69 L356.39,637.60 L357.00,637.52 L357.60,637.44 L358.21,637.36 L358.81,637.29 L359.40,637.23 L360.00,637.17 L360.59,637.12 L361.18,637.09 L361.77,637.06 L362.35,637.05 L362.94,637.05 L363.52,637.06 L364.09,637.09 L364.67,637.13 L365.24,637.19 L365.81,637.27 L366.37,637.37 L366.93,637.49 L367.49,637.63 L368.05,637.80 L368.60,637.99 L369.15,638.20 L369.69,638.44 L370.23,638.70 L370.77,638.99 L371.31,639.30 L371.84,639.64 L372.36,639.99 L372.88,640.37 L373.40,640.77 L373.92,641.19 L374.43,641.62 L374.93,642.07 L375.44,642.54 L375.93,643.02 L376.43,643.51 L376.92,644.01 L377.40,644.53 L377.88,645.06 L378.35,645.59 L378.82,646.13 L379.29,646.68 L379.75,647.24 L380.21,647.80 L380.66,648.36 L381.10,648.92 L381.54,649.49 L381.98,650.06 L382.41,650.62 L382.83,651.19 L383.25,651.76 L383.67,652.33 L384.08,652.90 L384.48,653.47 L384.89,654.04 L385.28,654.62 L385.67,655.19 L386.06,655.76 L386.45,656.34 L386.83,656.91 L387.20,657.49 L387.57,658.06 L387.94,658.64 L388.30,659.22 L388.66,659.79 L389.02,660.37 L389.37,660.95 L389.72,661.53 L390.07,662.11 L390.41,662.69 L390.75,663.28 L391.08,663.86 L391.42,664.44 L391.75,665.02 L392.07,665.61 L392.40,666.19 L392.72,666.78 L393.03,667.37 L393.35,667.95 L393.66,668.54 L393.97,669.13 L394.28,669.72 L394.59,670.30 L394.89,670.89 L395.19,671.48 L395.49,672.08 L395.79,672.67 L396.08,673.26 L396.37,673.85 L396.66,674.44 L396.95,675.04 L397.24,675.63 L397.53,676.23 L397.81,676.82 L398.10,677.42 L398.38,678.01 L398.66,678.61 L398.94,679.21 L399.22,679.81 L399.49,680.41 L399.77,681.01 L400.05,681.61 L400.32,682.21 L400.60,682.81 L400.87,683.41 L401.14,684.01 L401.41,684.61 L401.69,685.22 L401.96,685.82 L402.23,686.42 L402.50,687.03 L402.76,687.63 L403.03,688.24 L403.30,688.84 L403.57,689.45 L403.83,690.06 L404.09,690.67 L404.36,691.27 L404.62,691.88 L404.88,692.49 L405.14,693.10 L405.40,693.71 L405.66,694.32 L405.92,694.93 L406.18,695.55 L406.44,696.16 L406.69,696.77 L406.95,697.38 L407.20,698.00 L407.46,698.61 L407.71,699.23 L407.96,699.84 L408.21,700.46 L408.46,701.07 L408.71,701.69 L408.95,702.31 L409.20,702.92 L409.45,703.54 L409.69,704.16 L409.93,704.78 L410.18,705.40 L410.42,706.02 L410.66,706.64 L410.90,707.26 L411.13,707.88 L411.37,708.50 L411.61,709.12 L411.84,709.74 L412.08,710.37 L412.31,710.99 L412.54,711.61 L412.77,712.24 L413.00,712.86 L413.23,713.49 L413.46,714.11 L413.68,714.74 L413.91,715.36 L414.13,715.99 L414.35,716.62 L414.57,717.25 L414.80,717.87 L415.01,718.50 L415.23,719.13 L415.45,719.76 L415.66,720.39 L415.88,721.02 L416.09,721.65 L416.30,722.28 L416.51,722.91 L416.72,723.54 L416.93,724.17 L417.13,724.80 L417.34,725.44 L417.54,726.07 L417.75,726.70 L417.95,727.34 L418.15,727.97 L418.35,728.60 L418.55,729.24 L418.74,729.87 L418.94,730.51 L419.13,731.14 L419.33,731.78 L419.52,732.42 L419.71,733.05 L419.90,733.69 L420.09,734.33 L420.28,734.97 L420.46,735.60 L420.65,736.24 L420.83,736.88 L421.02,737.52 L421.20,738.16 L421.38,738.80 L421.56,739.44 L421.74,740.08 L421.92,740.72 L422.09,741.36 L422.27,742.00 L422.44,742.64 L422.62,743.29 L422.79,743.93 L422.96,744.57 L423.13,745.21 L423.30,745.86 L423.47,746.50 L423.64,747.14 L423.80,747.79 L423.97,748.43 L424.13,749.08 L424.30,749.72 L424.46,750.37 L424.62,751.01 L424.78,751.66 L424.94,752.30 L425.10,752.95 L425.26,753.60 L425.41,754.24 L425.57,754.89 L425.72,755.54 L425.88,756.19 L426.03,756.83 L426.18,757.48 L426.33,758.13 L426.48,758.78 L426.63,759.43 L426.78,760.08 L426.92,760.72 L427.07,761.37 L427.22,762.02 L427.36,762.67 L427.50,763.32 L427.65,763.97 L427.79,764.63 L427.93,765.28 L428.07,765.93 L428.21,766.58 L428.35,767.23 L428.49,767.88 L428.62,768.53 L428.76,769.19 L428.89,769.84 L429.03,770.49 L429.16,771.14 L429.29,771.80 L429.43,772.45 L429.56,773.10 L429.69,773.76 L429.82,774.41 L429.95,775.07 L430.07,775.72 L430.20,776.37 L430.33,777.03 L430.45,777.68 L430.58,778.34 L430.70,778.99 L430.83,779.65 L430.95,780.30 L431.07,780.96 L431.19,781.62 L431.31,782.27 L431.43,782.93 L431.55,783.58 L431.67,784.24 L431.79,784.90 L431.91,785.55 L432.02,786.21 L432.14,786.87 L432.25,787.52 L432.37,788.18 L432.48,788.84 L432.59,789.50 L432.71,790.15 L432.82,790.81 L432.93,791.47 L433.04,792.13 L433.15,792.79 L433.26,793.45 L433.37,794.10 L433.48,794.76 L433.58,795.42 L433.69,796.08 L433.80,796.74 L433.90,797.40 L434.01,798.06 L434.11,798.72 L434.22,799.38 L434.32,800.03 L434.42,800.69 L434.53,801.35 L434.63,802.01 L434.73,802.67 L434.83,803.33 L434.93,803.99 L435.03,804.65 L435.13,805.31 L435.23,805.97 L435.33,806.63 L435.43,807.29 L435.52,807.95 L435.62,808.61 L435.72,809.28 L435.81,809.94 L435.91,810.60 L436.00,811.26 L436.10,811.92 L436.19,812.58 L436.29,813.24 L436.38,813.90 L436.47,814.56 L436.56,815.22 L436.66,815.88 L436.75,816.54 L436.84,817.21 L436.93,817.87 L437.02,818.53 L437.11,819.19 L437.20,819.85 L437.29,820.51 L437.38,821.17 L437.47,821.83 L437.55,822.50 L437.64,823.16 L437.73,823.82 L437.82,824.48 L437.90,825.14 L437.99,825.80 L438.07,826.46 L438.16,827.12 L438.25,827.79 L438.33,828.45 L438.42,829.11 L438.50,829.77 L438.58,830.43 L438.67,831.09 L438.75,831.75 L438.84,832.42 L438.92,833.08 L439.00,833.74 L439.08,834.40 L439.17,835.06 L439.25,835.72 L439.33,836.38 L439.41,837.04 L439.49,837.70 L439.57,838.37 L439.65,839.03 L439.74,839.69 L439.82,840.35 L439.90,841.01 L439.98,841.67 L440.06,842.33 L440.14,842.99 L440.22,843.65 L440.30,844.31 L440.37,844.97 L440.45,845.63 L440.53,846.29 L440.61,846.95 L440.69,847.61 L440.77,848.27 L440.85,848.93 L440.93,849.59 L441.00,850.25" stroke="#2c2c2c"/>
</g>
<path d="M254.5,584.2V701.5M313.5,584.2V701.5" stroke="#1a1a1a" stroke-width="1.5" stroke-dasharray="8.5 4.9" fill="none"/>
<text x="131" y="603.2" class="mx" font-size="16" textLength="84.5" lengthAdjust="spacingAndGlyphs">Mixing layer</text>
<path d="M231.0,599.6H250.2" stroke="#000" stroke-width="1.2"/>
<path d="M254.2,599.6 L239.2,594.1 L243.7,599.6 L239.2,605.1 Z" fill="#000"/>
<path d="M331.0,599.6H317.5" stroke="#000" stroke-width="1.2"/>
<path d="M313.5,599.6 L328.5,594.1 L324.0,599.6 L328.5,605.1 Z" fill="#000"/>
<path d="M50.50,840.5V835.5M50.50,482.5V487.5M84.92,840.5V837.8M84.92,482.5V485.2M105.06,840.5V837.8M105.06,482.5V485.2M119.35,840.5V837.8M119.35,482.5V485.2M130.43,840.5V837.8M130.43,482.5V485.2M139.48,840.5V837.8M139.48,482.5V485.2M147.14,840.5V837.8M147.14,482.5V485.2M153.77,840.5V837.8M153.77,482.5V485.2M159.62,840.5V837.8M159.62,482.5V485.2M164.50,840.5V835.5M164.50,482.5V487.5M199.27,840.5V837.8M199.27,482.5V485.2M219.41,840.5V837.8M219.41,482.5V485.2M233.70,840.5V837.8M233.70,482.5V485.2M244.78,840.5V837.8M244.78,482.5V485.2M253.83,840.5V837.8M253.83,482.5V485.2M261.49,840.5V837.8M261.49,482.5V485.2M268.12,840.5V837.8M268.12,482.5V485.2M273.97,840.5V837.8M273.97,482.5V485.2M279.50,840.5V835.5M279.50,482.5V487.5M313.62,840.5V837.8M313.62,482.5V485.2M333.76,840.5V837.8M333.76,482.5V485.2M348.05,840.5V837.8M348.05,482.5V485.2M359.13,840.5V837.8M359.13,482.5V485.2M368.18,840.5V837.8M368.18,482.5V485.2M375.84,840.5V837.8M375.84,482.5V485.2M382.47,840.5V837.8M382.47,482.5V485.2M388.32,840.5V837.8M388.32,482.5V485.2M393.50,840.5V835.5M393.50,482.5V487.5M427.97,840.5V837.8M427.97,482.5V485.2M448.11,840.5V837.8M448.11,482.5V485.2M462.40,840.5V837.8M462.40,482.5V485.2M473.48,840.5V837.8M473.48,482.5V485.2M482.53,840.5V837.8M482.53,482.5V485.2M490.19,840.5V837.8M490.19,482.5V485.2M496.82,840.5V837.8M496.82,482.5V485.2M502.67,840.5V837.8M502.67,482.5V485.2M507.50,840.5V835.5M507.50,482.5V487.5M50.5,840.50H55.5M507.5,840.50H502.5M50.5,800.50H55.5M507.5,800.50H502.5M50.5,760.50H55.5M507.5,760.50H502.5M50.5,720.50H55.5M507.5,720.50H502.5M50.5,681.50H55.5M507.5,681.50H502.5M50.5,641.50H55.5M507.5,641.50H502.5M50.5,601.50H55.5M507.5,601.50H502.5M50.5,561.50H55.5M507.5,561.50H502.5M50.5,521.50H55.5M507.5,521.50H502.5M50.5,481.50H55.5M507.5,481.50H502.5" stroke="#262626" stroke-width="1" fill="none"/>
<rect x="50.5" y="482.5" width="457" height="358" fill="none" stroke="#262626" stroke-width="1"/>
<text x="44" y="846.9" text-anchor="end" class="tk">0</text>
<text x="44" y="807.1" text-anchor="end" class="tk">0.2</text>
<text x="44" y="767.3" text-anchor="end" class="tk">0.4</text>
<text x="44" y="727.5" text-anchor="end" class="tk">0.6</text>
<text x="44" y="687.7" text-anchor="end" class="tk">0.8</text>
<text x="44" y="647.8" text-anchor="end" class="tk">1</text>
<text x="44" y="608.0" text-anchor="end" class="tk">1.2</text>
<text x="44" y="568.2" text-anchor="end" class="tk">1.4</text>
<text x="44" y="528.4" text-anchor="end" class="tk">1.6</text>
<text x="44" y="488.6" text-anchor="end" class="tk">1.8</text>
<text x="50.5" y="867.2" text-anchor="middle" class="tk">10<tspan class="sup" dy="-8.5">-2</tspan></text>
<text x="164.8" y="867.2" text-anchor="middle" class="tk">10<tspan class="sup" dy="-8.5">-1</tspan></text>
<text x="279.2" y="867.2" text-anchor="middle" class="tk">10<tspan class="sup" dy="-8.5">0</tspan></text>
<text x="393.5" y="867.2" text-anchor="middle" class="tk">10<tspan class="sup" dy="-8.5">1</tspan></text>
<text x="507.9" y="867.2" text-anchor="middle" class="tk">10<tspan class="sup" dy="-8.5">2</tspan></text>
<rect x="60.5" y="493.5" width="152" height="86" fill="#fff" stroke="#262626" stroke-width="1"/>
<path d="M65.5,504.9H107.5" stroke="#cacaca" stroke-width="3.4"/>
<text x="111.8" y="509.0" class="lg it" textLength="21.0" lengthAdjust="spacingAndGlyphs">Ra</text><text x="136.9" y="509.0" class="lg" textLength="13.4" lengthAdjust="spacingAndGlyphs">=</text><text x="155.6" y="509.0" class="lg" textLength="8.0" lengthAdjust="spacingAndGlyphs">1</text><text x="167.6" y="509.0" class="lg" textLength="10.6" lengthAdjust="spacingAndGlyphs">×</text><text x="184.2" y="509.0" class="lg" textLength="18.0" lengthAdjust="spacingAndGlyphs">10</text><text x="201.4" y="502.2" class="lgs" textLength="6.4" lengthAdjust="spacingAndGlyphs">7</text>
<path d="M65.5,525.3H107.5" stroke="#9c9c9c" stroke-width="3.4"/>
<text x="111.8" y="529.2" class="lg it" textLength="21.0" lengthAdjust="spacingAndGlyphs">Ra</text><text x="136.9" y="529.2" class="lg" textLength="13.4" lengthAdjust="spacingAndGlyphs">=</text><text x="155.6" y="529.2" class="lg" textLength="8.0" lengthAdjust="spacingAndGlyphs">5</text><text x="167.6" y="529.2" class="lg" textLength="10.6" lengthAdjust="spacingAndGlyphs">×</text><text x="184.2" y="529.2" class="lg" textLength="18.0" lengthAdjust="spacingAndGlyphs">10</text><text x="201.4" y="522.4" class="lgs" textLength="6.4" lengthAdjust="spacingAndGlyphs">7</text>
<path d="M65.5,545.8H107.5" stroke="#686868" stroke-width="3.4"/>
<text x="111.8" y="549.4" class="lg it" textLength="21.0" lengthAdjust="spacingAndGlyphs">Ra</text><text x="136.9" y="549.4" class="lg" textLength="13.4" lengthAdjust="spacingAndGlyphs">=</text><text x="155.6" y="549.4" class="lg" textLength="8.0" lengthAdjust="spacingAndGlyphs">5</text><text x="167.6" y="549.4" class="lg" textLength="10.6" lengthAdjust="spacingAndGlyphs">×</text><text x="184.2" y="549.4" class="lg" textLength="18.0" lengthAdjust="spacingAndGlyphs">10</text><text x="201.4" y="542.6" class="lgs" textLength="6.4" lengthAdjust="spacingAndGlyphs">8</text>
<path d="M65.5,566.5H107.5" stroke="#2c2c2c" stroke-width="3.4"/>
<text x="111.8" y="570.0" class="lg it" textLength="21.0" lengthAdjust="spacingAndGlyphs">Ra</text><text x="136.9" y="570.0" class="lg" textLength="13.4" lengthAdjust="spacingAndGlyphs">=</text><text x="155.6" y="570.0" class="lg" textLength="8.0" lengthAdjust="spacingAndGlyphs">5</text><text x="167.6" y="570.0" class="lg" textLength="10.6" lengthAdjust="spacingAndGlyphs">×</text><text x="184.2" y="570.0" class="lg" textLength="18.0" lengthAdjust="spacingAndGlyphs">10</text><text x="201.4" y="563.2" class="lgs" textLength="6.4" lengthAdjust="spacingAndGlyphs">9</text>
<text x="258.9" y="885.9" class="al it" textLength="8.0" lengthAdjust="spacingAndGlyphs">z</text>
<text x="0" y="0" class="al" transform="translate(267.6,887.8) scale(1,1.3)">/</text>
<text x="276.2" y="885.9" class="al it" textLength="7.6" lengthAdjust="spacingAndGlyphs">z</text>
<text x="283.6" y="887.9" class="als" textLength="16.0" lengthAdjust="spacingAndGlyphs">t,w</text>
<g transform="translate(12.6,661.5) rotate(-90)">
<text x="-30.0" y="0.0" class="al it" textLength="12.6" lengthAdjust="spacingAndGlyphs">U</text>
<text x="0" y="0" class="al" transform="translate(-16.6,1.9) scale(1,1.3)">/</text>
<text x="-9.0" y="0.0" class="al it" textLength="12.2" lengthAdjust="spacingAndGlyphs">U</text>
<text x="1.8" y="2.6" class="als" textLength="22.0" lengthAdjust="spacingAndGlyphs">m,w</text>
</g>
<text x="273.5" y="919.1" text-anchor="middle" class="cap">(b)</text>
</svg>
</body></html>
